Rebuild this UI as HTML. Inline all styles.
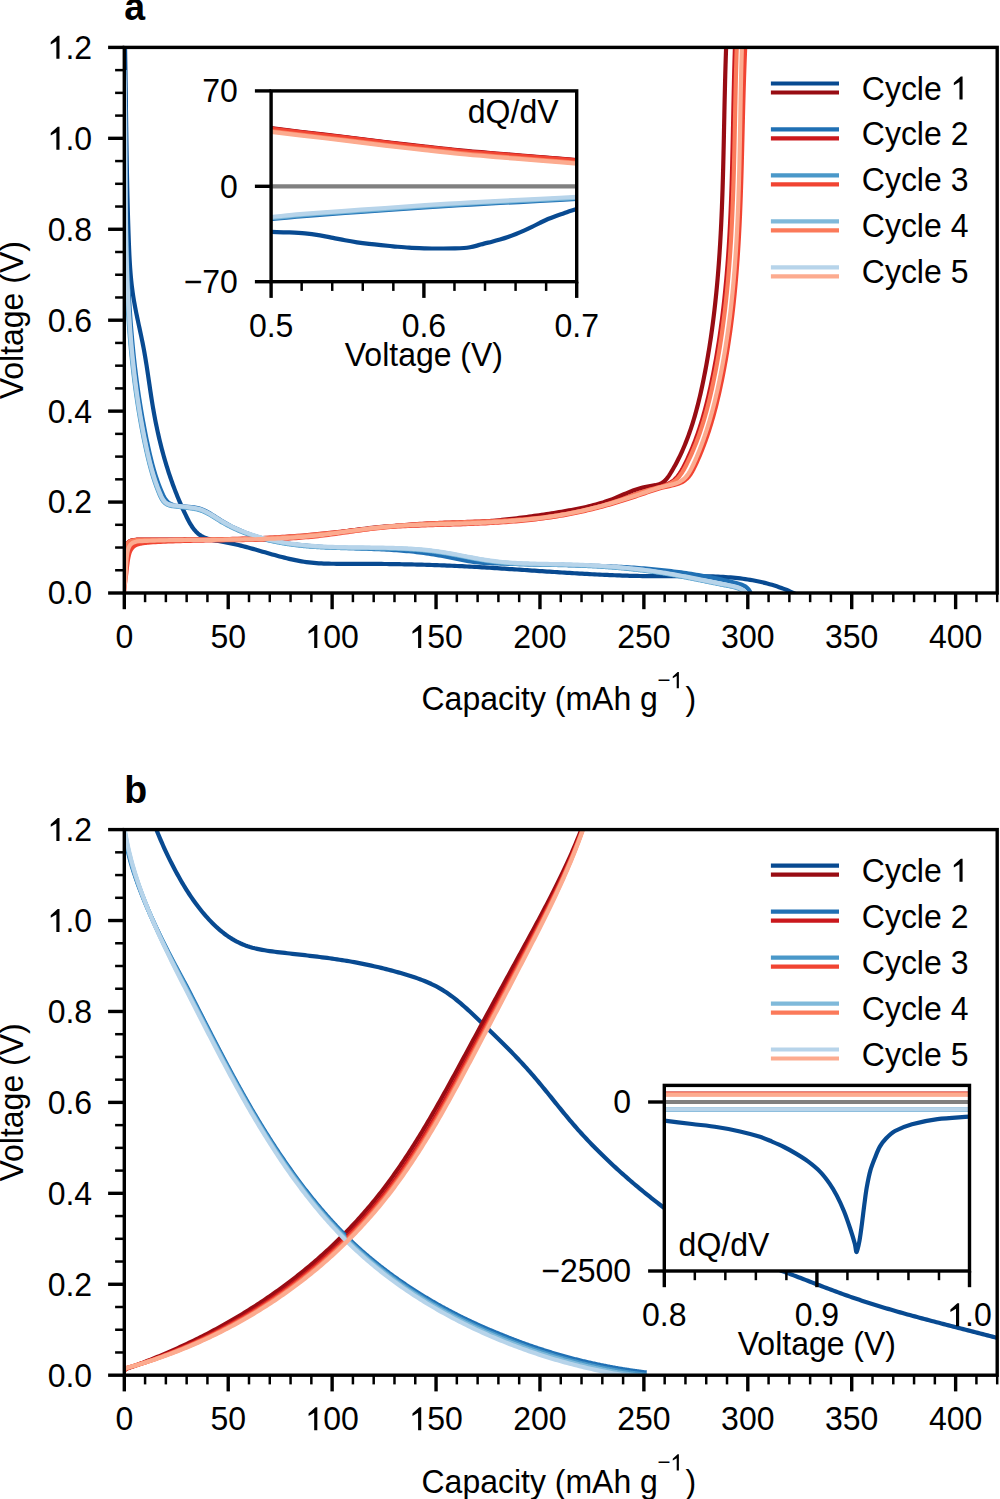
<!DOCTYPE html>
<html><head><meta charset="utf-8"><title>Figure</title>
<style>html,body{margin:0;padding:0;background:#fff;width:1000px;height:1499px;overflow:hidden}
svg text{font-family:"Liberation Sans", sans-serif;fill:#000}</style></head>
<body>
<svg width="1000" height="1499" viewBox="0 0 1000 1499" style="display:block;font-family:'Liberation Sans', sans-serif">
<rect width="1000" height="1499" fill="#fff"/>
<defs>
<clipPath id="ca"><rect x="124.3" y="47.4" width="872.9000000000001" height="545.6"/></clipPath>
<clipPath id="cb"><rect x="124.3" y="829.6" width="872.9000000000001" height="545.6"/></clipPath>
<clipPath id="cia"><rect x="271.1" y="90.9" width="305.6" height="190.79999999999998"/></clipPath>
<clipPath id="cib"><rect x="664.3" y="1085.4" width="305.2" height="185.6"/></clipPath>
</defs>
<g clip-path="url(#ca)">
<path d="M124.9,40 124.94,42.51 124.99,45.02 125.03,47.53 125.07,50.04 125.12,52.55 125.16,55.06 125.2,57.57 125.24,60.08 125.28,62.59 125.31,65.1 125.35,67.61 125.39,70.12 125.43,72.64 125.46,75.15 125.5,77.66 125.53,80.17 125.57,82.68 125.6,85.19 125.64,87.7 125.67,90.21 125.71,92.72 125.74,95.23 125.78,97.74 125.81,100.25 125.84,102.76 125.88,105.27 125.91,107.78 125.94,110.29 125.98,112.8 126.01,115.31 126.05,117.82 126.08,120.33 126.12,122.84 126.15,125.35 126.19,127.86 126.22,130.37 126.26,132.88 126.3,135.39 126.33,137.9 126.37,140.41 126.41,142.92 126.45,145.43 126.49,147.95 126.53,150.46 126.57,152.97 126.61,155.48 126.66,157.99 126.7,160.5 126.74,163.01 126.79,165.52 126.84,168.03 126.88,170.54 126.93,173.05 126.98,175.56 127.03,178.07 127.09,180.58 127.14,183.09 127.19,185.6 127.25,188.11 127.31,190.62 127.36,193.13 127.42,195.64 127.49,198.15 127.55,200.66 127.61,203.17 127.68,205.68 127.75,208.19 127.82,210.7 127.89,213.21 127.96,215.72 128.03,218.23 128.11,220.74 128.19,223.26 128.27,225.77 128.35,228.28 128.43,230.79 128.52,233.3 128.61,235.81 128.7,238.32 128.79,240.83 128.88,243.34 128.98,245.85 129.08,248.36 129.19,250.87 129.3,253.38 129.42,255.88 129.55,258.39 129.69,260.9 129.84,263.4 130,265.91 130.17,268.41 130.36,270.91 130.56,273.41 130.77,275.9 131.01,278.4 131.25,280.89 131.52,283.38 131.8,285.87 132.11,288.35 132.44,290.83 132.78,293.31 133.15,295.79 133.55,298.26 133.96,300.73 134.4,303.2 134.85,305.67 135.32,308.13 135.8,310.59 136.29,313.05 136.8,315.51 137.31,317.97 137.83,320.42 138.35,322.88 138.88,325.33 139.41,327.79 139.94,330.25 140.47,332.7 140.99,335.16 141.51,337.62 142.02,340.08 142.52,342.54 143.01,345.01 143.48,347.47 143.95,349.94 144.4,352.41 144.83,354.88 145.26,357.36 145.67,359.83 146.07,362.31 146.47,364.79 146.85,367.27 147.23,369.75 147.61,372.23 147.98,374.71 148.35,377.2 148.71,379.68 149.07,382.16 149.44,384.65 149.8,387.13 150.17,389.61 150.54,392.1 150.92,394.58 151.3,397.06 151.68,399.54 152.08,402.02 152.48,404.49 152.89,406.97 153.32,409.44 153.75,411.91 154.2,414.38 154.66,416.85 155.13,419.31 155.61,421.78 156.1,424.24 156.61,426.69 157.12,429.15 157.65,431.6 158.2,434.05 158.75,436.5 159.32,438.94 159.91,441.38 160.5,443.82 161.11,446.25 161.74,448.68 162.38,451.11 163.03,453.53 163.7,455.95 164.38,458.37 165.08,460.78 165.79,463.19 166.52,465.59 167.26,467.99 168.02,470.38 168.79,472.77 169.58,475.16 170.39,477.54 171.21,479.92 172.05,482.29 172.91,484.66 173.78,487.02 174.67,489.38 175.58,491.73 176.51,494.07 177.45,496.41 178.41,498.75 179.39,501.08 180.39,503.4 181.4,505.72 182.44,508.03 183.49,510.34 184.56,512.64 185.66,514.93 186.77,517.22 187.91,519.49 189.08,521.72 190.31,523.91 191.61,526.02 192.98,528.04 194.45,529.95 196.03,531.72 197.72,533.35 199.55,534.82 201.52,536.09 203.64,537.18 205.89,538.1 208.25,538.88 210.69,539.54 213.2,540.1 215.76,540.59 218.34,541.04 220.93,541.47 223.5,541.9 226.05,542.35 228.55,542.83 231.04,543.34 233.49,543.88 235.94,544.43 238.37,545.01 240.79,545.62 243.22,546.24 245.64,546.88 248.06,547.53 250.48,548.2 252.9,548.87 255.31,549.56 257.73,550.25 260.15,550.95 262.57,551.65 264.98,552.34 267.4,553.04 269.82,553.73 272.24,554.42 274.66,555.09 277.09,555.76 279.52,556.41 281.94,557.04 284.38,557.66 286.81,558.26 289.25,558.84 291.69,559.39 294.14,559.92 296.59,560.41 299.04,560.88 301.5,561.32 303.96,561.71 306.43,562.08 308.9,562.4 311.38,562.68 313.87,562.92 316.36,563.13 318.86,563.3 321.36,563.43 323.86,563.54 326.37,563.63 328.88,563.69 331.39,563.74 333.9,563.77 336.42,563.79 338.94,563.79 341.45,563.8 343.97,563.8 346.49,563.79 349.01,563.8 351.53,563.8 354.05,563.8 356.56,563.81 359.08,563.81 361.6,563.82 364.11,563.83 366.63,563.85 369.15,563.86 371.66,563.88 374.18,563.89 376.69,563.91 379.21,563.94 381.72,563.96 384.24,563.99 386.75,564.02 389.27,564.05 391.78,564.08 394.29,564.12 396.81,564.16 399.32,564.2 401.83,564.24 404.34,564.29 406.86,564.34 409.37,564.39 411.88,564.45 414.39,564.51 416.9,564.57 419.41,564.63 421.92,564.7 424.43,564.77 426.94,564.84 429.44,564.92 431.95,565 434.46,565.08 436.97,565.16 439.47,565.25 441.98,565.35 444.49,565.44 446.99,565.54 449.5,565.65 452,565.76 454.51,565.87 457.01,565.98 459.52,566.1 462.02,566.22 464.52,566.35 467.03,566.48 469.53,566.61 472.03,566.74 474.53,566.88 477.03,567.02 479.54,567.16 482.04,567.31 484.54,567.45 487.04,567.6 489.54,567.75 492.04,567.91 494.54,568.06 497.04,568.22 499.54,568.38 502.04,568.54 504.54,568.7 507.04,568.86 509.54,569.03 512.04,569.19 514.54,569.36 517.04,569.52 519.54,569.69 522.04,569.85 524.54,570.02 527.04,570.19 529.54,570.36 532.04,570.53 534.54,570.69 537.04,570.86 539.54,571.03 542.04,571.19 544.54,571.36 547.04,571.53 549.54,571.69 552.04,571.85 554.54,572.02 557.04,572.18 559.55,572.34 562.05,572.5 564.55,572.65 567.05,572.81 569.56,572.96 572.06,573.11 574.56,573.26 577.07,573.41 579.57,573.55 582.08,573.69 584.58,573.83 587.09,573.97 589.6,574.11 592.1,574.24 594.61,574.37 597.12,574.49 599.63,574.61 602.14,574.73 604.65,574.85 607.16,574.96 609.67,575.06 612.18,575.17 614.69,575.27 617.2,575.36 619.71,575.46 622.23,575.54 624.74,575.62 627.26,575.7 629.77,575.78 632.29,575.84 634.81,575.91 637.33,575.97 639.84,576.02 642.36,576.07 644.88,576.11 647.41,576.14 649.93,576.18 652.45,576.2 654.97,576.22 657.5,576.23 660.02,576.24 662.55,576.24 665.08,576.23 667.61,576.23 670.13,576.21 672.66,576.2 675.19,576.18 677.72,576.17 680.25,576.15 682.77,576.14 685.3,576.12 687.83,576.11 690.35,576.11 692.88,576.11 695.4,576.12 697.92,576.13 700.44,576.16 702.96,576.19 705.47,576.23 707.99,576.29 710.5,576.35 713,576.43 715.51,576.53 718.01,576.64 720.51,576.76 723.01,576.9 725.5,577.06 727.99,577.24 730.48,577.44 732.96,577.66 735.44,577.91 737.91,578.17 740.38,578.46 742.84,578.78 745.3,579.12 747.75,579.48 750.2,579.88 752.65,580.3 755.09,580.76 757.52,581.24 759.95,581.76 762.37,582.31 764.78,582.89 767.19,583.51 769.59,584.16 771.98,584.85 774.37,585.58 776.75,586.35 779.13,587.15 781.49,588 783.85,588.89 786.2,589.82 788.55,590.79 790.88,591.81 793.21,592.87 795.53,593.98" fill="none" stroke="#084a91" stroke-width="4.2" stroke-linejoin="round"/>
<path d="M123.8,600 123.8,596.8 123.79,593.6 123.78,590.4 123.76,587.2 123.75,584 123.75,580.8 123.75,577.6 123.75,574.4 123.77,571.2 123.8,568 123.82,566.82 123.84,565.64 123.88,564.46 123.92,563.28 123.96,562.1 124.02,560.92 124.08,559.74 124.15,558.56 124.22,557.38 124.3,556.2 124.35,555.55 124.4,554.89 124.47,554.24 124.54,553.59 124.61,552.94 124.69,552.29 124.78,551.64 124.88,550.99 124.99,550.34 125.1,549.7 125.18,549.3 125.26,548.9 125.35,548.51 125.44,548.11 125.55,547.72 125.66,547.32 125.78,546.94 125.91,546.55 126.05,546.17 126.2,545.8 126.34,545.48 126.48,545.16 126.64,544.84 126.8,544.52 126.97,544.21 127.15,543.9 127.35,543.61 127.55,543.32 127.77,543.05 128,542.8 128.25,542.55 128.52,542.3 128.8,542.07 129.09,541.84 129.39,541.62 129.7,541.42 130.01,541.24 130.34,541.07 130.67,540.92 131,540.8 131.57,540.63 132.16,540.49 132.75,540.37 133.35,540.27 133.96,540.19 134.57,540.12 135.18,540.04 135.79,539.97 136.4,539.89 137,539.82 139.5,539.8 142,539.78 144.5,539.76 147,539.75 149.5,539.74 152,539.74 154.5,539.73 157.01,539.73 159.51,539.74 162.02,539.74 164.52,539.75 167.03,539.75 169.53,539.76 172.04,539.77 174.55,539.79 177.05,539.8 179.56,539.81 182.07,539.82 184.58,539.84 187.09,539.85 189.59,539.87 192.1,539.88 194.61,539.89 197.12,539.9 199.63,539.91 202.14,539.92 204.65,539.93 207.16,539.93 209.67,539.94 212.18,539.94 214.69,539.94 217.2,539.93 219.72,539.93 222.23,539.92 224.74,539.91 227.25,539.89 229.75,539.87 232.26,539.85 234.77,539.82 237.28,539.79 239.79,539.75 242.3,539.71 244.81,539.66 247.32,539.61 249.82,539.55 252.33,539.49 254.84,539.42 257.34,539.35 259.85,539.27 262.35,539.18 264.86,539.09 267.36,538.99 269.86,538.88 272.37,538.76 274.87,538.64 277.37,538.51 279.87,538.37 282.37,538.22 284.87,538.07 287.37,537.91 289.86,537.73 292.36,537.55 294.86,537.36 297.35,537.16 299.84,536.95 302.34,536.73 304.83,536.5 307.32,536.26 309.81,536.01 312.3,535.75 314.78,535.47 317.27,535.19 319.75,534.89 322.24,534.59 324.72,534.27 327.2,533.94 329.68,533.61 332.16,533.27 334.64,532.92 337.12,532.57 339.6,532.21 342.08,531.86 344.56,531.5 347.04,531.14 349.52,530.79 352,530.43 354.48,530.09 356.96,529.75 359.44,529.41 361.92,529.08 364.41,528.76 366.89,528.46 369.38,528.16 371.87,527.88 374.36,527.61 376.85,527.35 379.35,527.11 381.84,526.89 384.34,526.69 386.84,526.51 389.34,526.33 391.84,526.18 394.35,526.03 396.86,525.9 399.36,525.78 401.87,525.67 404.38,525.57 406.89,525.47 409.4,525.38 411.91,525.3 414.42,525.22 416.94,525.15 419.45,525.08 421.96,525.01 424.47,524.94 426.98,524.87 429.49,524.79 432,524.72 434.51,524.64 437.02,524.56 439.53,524.47 442.03,524.37 444.54,524.27 447.04,524.16 449.54,524.04 452.05,523.91 454.55,523.78 457.04,523.64 459.54,523.5 462.04,523.34 464.54,523.18 467.03,523.02 469.53,522.84 472.02,522.66 474.51,522.47 477.01,522.28 479.5,522.08 481.99,521.87 484.48,521.65 486.97,521.43 489.46,521.2 491.95,520.96 494.43,520.72 496.92,520.47 499.41,520.22 501.89,519.96 504.38,519.69 506.87,519.41 509.35,519.13 511.84,518.84 514.32,518.54 516.81,518.24 519.29,517.93 521.78,517.62 524.26,517.3 526.75,516.97 529.23,516.64 531.71,516.3 534.2,515.95 536.68,515.6 539.17,515.24 541.65,514.87 544.14,514.5 546.62,514.12 549.11,513.74 551.6,513.35 554.08,512.95 556.57,512.55 559.06,512.14 561.54,511.72 564.03,511.3 566.52,510.87 569,510.43 571.48,509.98 573.96,509.51 576.44,509.03 578.91,508.54 581.37,508.03 583.83,507.5 586.28,506.94 588.73,506.37 591.16,505.77 593.59,505.15 596,504.5 598.4,503.82 600.8,503.12 603.17,502.38 605.54,501.61 607.89,500.81 610.23,499.97 612.54,499.09 614.85,498.18 617.14,497.23 619.41,496.26 621.68,495.28 623.95,494.29 626.23,493.32 628.51,492.37 630.8,491.44 633.1,490.57 635.43,489.74 637.79,488.97 640.18,488.25 642.61,487.6 645.09,487.01 647.62,486.48 650.22,486.02 652.87,485.62 655.51,485.19 658.05,484.62 660.42,483.81 662.53,482.68 664.41,481.23 666.08,479.53 667.6,477.64 669.01,475.61 670.34,473.5 671.64,471.38 672.9,469.23 674.14,467.07 675.34,464.9 676.52,462.71 677.66,460.5 678.78,458.28 679.87,456.05 680.93,453.8 681.97,451.54 682.98,449.27 683.96,446.98 684.92,444.69 685.85,442.38 686.77,440.06 687.65,437.73 688.52,435.39 689.36,433.04 690.18,430.68 690.99,428.31 691.77,425.93 692.53,423.55 693.27,421.16 693.99,418.75 694.7,416.35 695.39,413.93 696.06,411.51 696.71,409.08 697.35,406.65 697.98,404.21 698.59,401.77 699.18,399.32 699.77,396.87 700.34,394.42 700.9,391.96 701.44,389.5 701.98,387.04 702.5,384.57 703.02,382.11 703.52,379.64 704.02,377.17 704.51,374.7 704.99,372.23 705.46,369.76 705.92,367.29 706.38,364.82 706.82,362.35 707.26,359.88 707.69,357.4 708.11,354.93 708.52,352.45 708.93,349.97 709.33,347.5 709.72,345.02 710.1,342.54 710.48,340.06 710.85,337.58 711.21,335.1 711.56,332.62 711.91,330.14 712.25,327.66 712.58,325.17 712.9,322.69 713.22,320.21 713.53,317.72 713.84,315.24 714.14,312.75 714.43,310.26 714.71,307.78 714.99,305.29 715.27,302.8 715.53,300.31 715.8,297.82 716.05,295.33 716.3,292.84 716.54,290.35 716.78,287.86 717.01,285.37 717.24,282.87 717.46,280.38 717.68,277.89 717.89,275.39 718.09,272.9 718.29,270.4 718.49,267.91 718.68,265.41 718.87,262.92 719.05,260.42 719.22,257.92 719.39,255.43 719.56,252.93 719.72,250.43 719.88,247.93 720.04,245.43 720.19,242.93 720.33,240.43 720.47,237.93 720.61,235.43 720.75,232.93 720.88,230.43 721,227.93 721.13,225.43 721.25,222.93 721.36,220.42 721.48,217.92 721.59,215.42 721.69,212.91 721.8,210.41 721.9,207.91 721.99,205.4 722.09,202.9 722.18,200.4 722.27,197.89 722.36,195.39 722.44,192.88 722.53,190.38 722.61,187.87 722.68,185.36 722.76,182.86 722.83,180.35 722.91,177.85 722.98,175.34 723.04,172.83 723.11,170.33 723.18,167.82 723.24,165.31 723.3,162.81 723.36,160.3 723.42,157.79 723.48,155.29 723.54,152.78 723.59,150.27 723.65,147.76 723.71,145.26 723.76,142.75 723.81,140.24 723.87,137.73 723.92,135.23 723.97,132.72 724.02,130.21 724.07,127.7 724.12,125.19 724.18,122.69 724.23,120.18 724.28,117.67 724.33,115.16 724.38,112.66 724.43,110.15 724.49,107.64 724.54,105.14 724.59,102.63 724.65,100.12 724.7,97.61 724.76,95.11 724.82,92.6 724.88,90.09 724.94,87.59 725,85.08 725.06,82.57 725.12,80.07 725.19,77.56 725.25,75.06 725.32,72.55 725.39,70.05 725.47,67.54 725.54,65.04 725.62,62.53 725.69,60.03 725.77,57.52 725.86,55.02 725.94,52.51 726.03,50.01 726.12,47.51 726.21,45 726.31,42.5 726.4,40" fill="none" stroke="#980c13" stroke-width="4.2" stroke-linejoin="round"/>
<path d="M124.6,70 124.65,72.51 124.7,75.01 124.75,77.52 124.8,80.02 124.85,82.53 124.89,85.04 124.93,87.55 124.97,90.05 125.01,92.56 125.05,95.07 125.08,97.58 125.11,100.09 125.15,102.59 125.18,105.1 125.2,107.61 125.23,110.12 125.26,112.63 125.28,115.14 125.31,117.65 125.33,120.16 125.35,122.67 125.37,125.18 125.39,127.69 125.41,130.2 125.43,132.71 125.45,135.22 125.47,137.73 125.49,140.24 125.51,142.75 125.52,145.26 125.54,147.77 125.56,150.28 125.57,152.79 125.59,155.3 125.61,157.81 125.62,160.32 125.64,162.83 125.66,165.34 125.68,167.85 125.7,170.36 125.72,172.87 125.74,175.38 125.76,177.9 125.78,180.41 125.8,182.92 125.83,185.43 125.85,187.94 125.88,190.45 125.9,192.96 125.93,195.47 125.96,197.98 125.99,200.49 126.02,203 126.06,205.51 126.09,208.02 126.13,210.53 126.17,213.04 126.21,215.55 126.25,218.06 126.29,220.57 126.34,223.07 126.39,225.58 126.44,228.09 126.49,230.6 126.55,233.11 126.61,235.62 126.67,238.12 126.73,240.63 126.8,243.14 126.86,245.65 126.94,248.16 127.01,250.66 127.09,253.17 127.17,255.68 127.25,258.18 127.34,260.69 127.43,263.19 127.52,265.7 127.62,268.2 127.72,270.71 127.82,273.21 127.93,275.72 128.04,278.22 128.15,280.73 128.27,283.23 128.39,285.73 128.52,288.24 128.65,290.74 128.78,293.24 128.92,295.74 129.06,298.25 129.21,300.75 129.36,303.25 129.52,305.75 129.68,308.25 129.85,310.75 130.02,313.25 130.19,315.75 130.37,318.25 130.56,320.75 130.75,323.24 130.94,325.74 131.14,328.24 131.35,330.73 131.56,333.23 131.78,335.73 132,338.22 132.23,340.72 132.46,343.21 132.7,345.71 132.94,348.2 133.19,350.69 133.45,353.18 133.71,355.68 133.98,358.17 134.26,360.66 134.54,363.15 134.82,365.64 135.12,368.13 135.42,370.62 135.72,373.11 136.04,375.59 136.36,378.08 136.68,380.57 137.02,383.06 137.36,385.54 137.7,388.03 138.06,390.51 138.42,392.99 138.79,395.48 139.17,397.96 139.55,400.44 139.94,402.92 140.34,405.41 140.74,407.89 141.16,410.37 141.58,412.84 142.01,415.32 142.44,417.8 142.89,420.28 143.34,422.75 143.8,425.23 144.27,427.7 144.75,430.18 145.24,432.65 145.73,435.13 146.23,437.6 146.74,440.07 147.26,442.54 147.79,445.01 148.33,447.48 148.88,449.95 149.44,452.41 150.01,454.87 150.6,457.33 151.2,459.78 151.82,462.22 152.46,464.66 153.12,467.08 153.8,469.5 154.51,471.9 155.24,474.3 155.99,476.68 156.78,479.04 157.59,481.4 158.43,483.73 159.3,486.05 160.21,488.35 161.15,490.63 162.13,492.89 163.15,495.13 164.24,497.3 165.47,499.33 166.89,501.16 168.56,502.7 170.52,503.91 172.75,504.81 175.18,505.46 177.78,505.91 180.48,506.22 183.23,506.42 186,506.59 188.71,506.76 191.34,507 193.87,507.32 196.31,507.75 198.69,508.31 201.01,509.03 203.29,509.92 205.53,510.95 207.74,512.11 209.93,513.36 212.1,514.69 214.26,516.07 216.41,517.47 218.57,518.88 220.73,520.27 222.91,521.62 225.11,522.92 227.32,524.17 229.54,525.38 231.78,526.54 234.03,527.66 236.29,528.74 238.57,529.78 240.86,530.78 243.16,531.74 245.47,532.66 247.8,533.54 250.13,534.39 252.48,535.2 254.84,535.97 257.21,536.71 259.59,537.42 261.97,538.09 264.37,538.74 266.78,539.35 269.19,539.93 271.62,540.49 274.05,541.01 276.49,541.51 278.93,541.98 281.39,542.43 283.84,542.85 286.31,543.25 288.78,543.63 291.26,543.98 293.74,544.31 296.23,544.63 298.72,544.92 301.22,545.19 303.72,545.45 306.22,545.69 308.73,545.92 311.24,546.13 313.75,546.32 316.27,546.51 318.79,546.68 321.31,546.84 323.83,546.99 326.35,547.13 328.87,547.26 331.39,547.38 333.91,547.5 336.43,547.61 338.95,547.71 341.47,547.81 343.99,547.91 346.51,548 349.02,548.09 351.54,548.18 354.05,548.27 356.56,548.36 359.07,548.45 361.58,548.54 364.09,548.63 366.6,548.72 369.1,548.82 371.61,548.92 374.11,549.03 376.61,549.13 379.11,549.25 381.61,549.37 384.11,549.5 386.61,549.63 389.11,549.77 391.6,549.92 394.09,550.09 396.59,550.26 399.08,550.44 401.57,550.63 404.06,550.83 406.55,551.05 409.03,551.28 411.52,551.53 414.01,551.78 416.49,552.06 418.97,552.35 421.45,552.65 423.93,552.98 426.41,553.32 428.89,553.68 431.37,554.05 433.84,554.45 436.32,554.87 438.79,555.31 441.27,555.77 443.74,556.25 446.21,556.74 448.68,557.25 451.15,557.76 453.62,558.27 456.09,558.78 458.56,559.28 461.04,559.77 463.51,560.24 465.99,560.68 468.47,561.11 470.95,561.5 473.43,561.86 475.91,562.17 478.4,562.45 480.89,562.67 483.39,562.85 485.88,562.99 488.38,563.11 490.88,563.21 493.38,563.31 495.88,563.4 498.38,563.49 500.89,563.58 503.39,563.66 505.89,563.74 508.4,563.81 510.9,563.88 513.41,563.95 515.91,564.01 518.42,564.08 520.92,564.14 523.43,564.19 525.94,564.25 528.44,564.3 530.95,564.35 533.46,564.4 535.97,564.45 538.48,564.5 540.99,564.55 543.49,564.59 546,564.64 548.51,564.69 551.02,564.73 553.53,564.78 556.04,564.83 558.55,564.87 561.06,564.92 563.57,564.97 566.08,565.02 568.59,565.08 571.1,565.13 573.61,565.19 576.12,565.25 578.63,565.31 581.14,565.37 583.65,565.44 586.16,565.51 588.67,565.58 591.18,565.65 593.69,565.73 596.2,565.82 598.71,565.9 601.21,566 603.72,566.09 606.23,566.19 608.74,566.3 611.24,566.41 613.75,566.53 616.26,566.65 618.76,566.78 621.27,566.91 623.77,567.05 626.27,567.2 628.78,567.35 631.28,567.51 633.78,567.67 636.29,567.85 638.79,568.03 641.29,568.22 643.79,568.42 646.29,568.62 648.79,568.83 651.28,569.06 653.78,569.29 656.28,569.53 658.77,569.77 661.27,570.03 663.76,570.3 666.25,570.58 668.75,570.86 671.24,571.16 673.73,571.47 676.22,571.78 678.7,572.11 681.19,572.45 683.68,572.8 686.16,573.16 688.64,573.53 691.12,573.91 693.6,574.3 696.08,574.71 698.56,575.12 701.03,575.55 703.5,575.99 705.97,576.44 708.44,576.91 710.91,577.38 713.38,577.87 715.84,578.37 718.3,578.89 720.76,579.41 723.22,579.95 725.67,580.51 728.12,581.07 730.57,581.65 733.02,582.24 735.46,582.85 737.9,583.48 740.3,584.18 742.6,585.02 744.77,586.08 746.74,587.44 748.47,589.16 749.91,591.32 751,594" fill="none" stroke="#2070b4" stroke-width="4.2" stroke-linejoin="round"/>
<path d="M123.8,599.8 123.8,596.6 123.79,593.4 123.78,590.2 123.76,587 123.75,583.8 123.75,580.6 123.75,577.4 123.75,574.2 123.77,571 123.8,567.8 123.82,566.63 123.84,565.46 123.88,564.29 123.92,563.12 123.96,561.95 124.02,560.78 124.08,559.61 124.15,558.44 124.22,557.27 124.3,556.1 124.35,555.45 124.41,554.79 124.47,554.14 124.54,553.49 124.61,552.84 124.69,552.19 124.78,551.54 124.88,550.89 124.99,550.24 125.1,549.6 125.18,549.2 125.26,548.8 125.35,548.41 125.44,548.01 125.55,547.62 125.66,547.22 125.78,546.84 125.91,546.45 126.05,546.07 126.2,545.7 126.34,545.38 126.48,545.06 126.64,544.74 126.8,544.42 126.97,544.11 127.15,543.8 127.35,543.51 127.55,543.22 127.77,542.95 128,542.7 128.25,542.45 128.52,542.2 128.8,541.97 129.09,541.74 129.39,541.52 129.7,541.32 130.01,541.14 130.34,540.97 130.67,540.82 131,540.7 131.57,540.53 132.16,540.39 132.75,540.27 133.35,540.17 133.96,540.09 134.57,540.02 135.18,539.94 135.79,539.87 136.4,539.79 137,539.69 139.51,539.68 142.02,539.66 144.53,539.64 147.04,539.63 149.55,539.61 152.06,539.6 154.57,539.59 157.08,539.58 159.59,539.57 162.1,539.56 164.61,539.55 167.12,539.54 169.63,539.53 172.14,539.52 174.65,539.51 177.16,539.5 179.67,539.49 182.18,539.48 184.69,539.47 187.2,539.46 189.71,539.45 192.22,539.43 194.73,539.42 197.24,539.4 199.75,539.38 202.26,539.36 204.77,539.34 207.28,539.31 209.79,539.29 212.3,539.26 214.81,539.23 217.32,539.19 219.83,539.16 222.34,539.12 224.85,539.07 227.36,539.03 229.87,538.98 232.38,538.93 234.89,538.87 237.39,538.81 239.9,538.75 242.41,538.68 244.92,538.61 247.42,538.53 249.93,538.45 252.44,538.37 254.94,538.28 257.45,538.19 259.95,538.09 262.46,537.98 264.96,537.87 267.47,537.76 269.97,537.64 272.48,537.51 274.98,537.38 277.48,537.25 279.98,537.1 282.49,536.95 284.99,536.8 287.49,536.63 289.99,536.46 292.49,536.29 294.99,536.11 297.49,535.92 299.98,535.72 302.48,535.51 304.98,535.3 307.48,535.09 309.97,534.86 312.47,534.63 314.96,534.4 317.46,534.16 319.95,533.91 322.45,533.66 324.94,533.4 327.43,533.15 329.93,532.88 332.42,532.62 334.91,532.35 337.41,532.08 339.9,531.81 342.39,531.53 344.88,531.25 347.38,530.98 349.87,530.7 352.36,530.42 354.85,530.14 357.35,529.86 359.84,529.58 362.33,529.3 364.82,529.03 367.32,528.75 369.81,528.48 372.3,528.21 374.8,527.94 377.29,527.67 379.78,527.41 382.28,527.15 384.77,526.9 387.27,526.64 389.76,526.4 392.26,526.16 394.75,525.92 397.25,525.69 399.74,525.46 402.24,525.25 404.74,525.03 407.24,524.83 409.74,524.63 412.24,524.44 414.74,524.26 417.24,524.08 419.74,523.92 422.24,523.76 424.74,523.61 427.25,523.47 429.75,523.34 432.25,523.21 434.76,523.09 437.27,522.98 439.77,522.87 442.28,522.77 444.79,522.67 447.29,522.58 449.8,522.49 452.31,522.4 454.82,522.32 457.32,522.24 459.83,522.16 462.34,522.08 464.85,522 467.36,521.92 469.87,521.85 472.38,521.77 474.89,521.69 477.4,521.6 479.91,521.52 482.42,521.43 484.93,521.34 487.43,521.25 489.94,521.15 492.45,521.05 494.96,520.94 497.47,520.83 499.97,520.71 502.48,520.59 504.99,520.45 507.5,520.31 510,520.16 512.51,520.01 515.01,519.84 517.52,519.67 520.02,519.48 522.52,519.28 525.03,519.08 527.53,518.86 530.03,518.63 532.53,518.39 535.03,518.13 537.53,517.86 540.03,517.58 542.52,517.28 545.02,516.97 547.51,516.64 550.01,516.3 552.5,515.95 554.99,515.58 557.48,515.19 559.96,514.79 562.44,514.37 564.92,513.94 567.4,513.5 569.88,513.03 572.35,512.56 574.81,512.06 577.28,511.56 579.73,511.03 582.19,510.49 584.64,509.94 587.09,509.36 589.53,508.78 591.96,508.17 594.39,507.55 596.82,506.91 599.24,506.26 601.65,505.59 604.06,504.9 606.46,504.2 608.85,503.48 611.24,502.74 613.62,501.98 616,501.21 618.36,500.42 620.72,499.61 623.08,498.79 625.42,497.95 627.76,497.09 630.09,496.23 632.43,495.37 634.77,494.51 637.12,493.65 639.48,492.82 641.86,492.01 644.26,491.22 646.67,490.47 649.12,489.75 651.58,489.07 654.06,488.41 656.54,487.75 659.01,487.08 661.45,486.36 663.84,485.58 666.16,484.7 668.39,483.71 670.51,482.58 672.5,481.28 674.34,479.79 676.04,478.12 677.61,476.29 679.06,474.33 680.43,472.26 681.71,470.11 682.93,467.89 684.1,465.64 685.24,463.36 686.36,461.08 687.45,458.79 688.51,456.49 689.55,454.19 690.56,451.87 691.55,449.55 692.51,447.22 693.45,444.88 694.37,442.53 695.27,440.18 696.14,437.82 696.99,435.46 697.83,433.08 698.64,430.71 699.43,428.32 700.21,425.93 700.96,423.54 701.7,421.13 702.42,418.73 703.12,416.32 703.81,413.9 704.48,411.48 705.14,409.06 705.78,406.63 706.4,404.2 707.02,401.76 707.62,399.33 708.2,396.88 708.78,394.44 709.34,391.99 709.89,389.54 710.43,387.09 710.96,384.64 711.48,382.18 711.99,379.73 712.49,377.27 712.99,374.81 713.47,372.35 713.95,369.89 714.41,367.42 714.87,364.96 715.33,362.49 715.77,360.03 716.21,357.56 716.63,355.09 717.05,352.62 717.46,350.15 717.87,347.68 718.27,345.21 718.65,342.73 719.04,340.26 719.41,337.78 719.78,335.3 720.14,332.82 720.49,330.34 720.83,327.86 721.17,325.38 721.51,322.9 721.83,320.42 722.15,317.93 722.46,315.45 722.77,312.96 723.06,310.47 723.36,307.98 723.64,305.5 723.92,303.01 724.2,300.52 724.46,298.02 724.72,295.53 724.98,293.04 725.23,290.55 725.47,288.05 725.71,285.56 725.95,283.06 726.17,280.56 726.4,278.07 726.61,275.57 726.83,273.07 727.03,270.57 727.23,268.07 727.43,265.57 727.62,263.07 727.81,260.57 727.99,258.07 728.17,255.56 728.34,253.06 728.51,250.56 728.67,248.05 728.83,245.55 728.99,243.04 729.14,240.53 729.29,238.03 729.43,235.52 729.57,233.01 729.71,230.51 729.84,228 729.97,225.49 730.09,222.98 730.21,220.47 730.33,217.96 730.45,215.45 730.56,212.94 730.67,210.43 730.77,207.92 730.87,205.41 730.97,202.9 731.07,200.39 731.16,197.87 731.26,195.36 731.34,192.85 731.43,190.34 731.51,187.82 731.6,185.31 731.68,182.8 731.75,180.29 731.83,177.77 731.9,175.26 731.97,172.75 732.04,170.23 732.11,167.72 732.18,165.21 732.24,162.69 732.3,160.18 732.36,157.67 732.42,155.15 732.48,152.64 732.54,150.12 732.6,147.61 732.65,145.1 732.71,142.58 732.76,140.07 732.82,137.56 732.87,135.05 732.92,132.53 732.97,130.02 733.02,127.51 733.08,125 733.13,122.48 733.18,119.97 733.23,117.46 733.28,114.95 733.33,112.44 733.38,109.93 733.43,107.42 733.48,104.91 733.53,102.4 733.59,99.89 733.64,97.38 733.69,94.87 733.75,92.36 733.8,89.86 733.86,87.35 733.92,84.84 733.97,82.33 734.03,79.83 734.09,77.32 734.16,74.82 734.22,72.31 734.28,69.81 734.35,67.3 734.42,64.8 734.49,62.3 734.56,59.8 734.63,57.3 734.71,54.79 734.79,52.29 734.87,49.8 734.95,47.3 735.03,44.8 735.12,42.3 735.21,39.8" fill="none" stroke="#ca181d" stroke-width="4.2" stroke-linejoin="round"/>
<path d="M123.39,70.03 123.42,70.96 123.44,71.9 123.47,72.84 123.49,73.78 123.51,74.72 123.54,75.66 123.56,76.6 123.58,77.53 123.6,78.47 123.63,79.41 123.65,80.35 123.67,81.29 123.69,82.23 123.71,83.17 123.73,84.11 123.75,85.05 123.77,85.99 123.79,86.92 123.81,87.86 123.82,88.8 123.84,89.74 123.86,90.68 123.88,91.62 123.89,92.56 123.91,93.5 123.93,94.44 123.94,95.38 123.96,96.32 123.97,97.26 123.99,98.2 124,99.14 124.02,100.08 124.03,101.02 124.05,101.96 124.06,102.9 124.07,103.84 124.09,104.78 124.1,105.72 124.11,106.67 124.12,107.61 124.14,108.55 124.15,109.49 124.16,110.43 124.17,111.37 124.18,112.31 124.19,113.25 124.2,114.19 124.21,115.13 124.22,116.07 124.23,117.02 124.24,117.96 124.25,118.9 124.26,119.84 124.27,120.78 124.28,121.72 124.29,122.66 124.3,123.6 124.31,124.55 124.31,125.49 124.32,126.43 124.33,127.37 124.34,128.31 124.35,129.25 124.35,130.2 124.36,131.14 124.37,132.08 124.37,133.02 124.38,133.96 124.39,134.91 124.39,135.85 124.4,136.79 124.41,137.73 124.41,138.67 124.42,139.62 124.43,140.56 124.43,141.5 124.44,142.44 124.44,143.39 124.45,144.33 124.45,145.27 124.46,146.21 124.46,147.15 124.47,148.1 124.48,149.04 124.48,149.98 124.49,150.92 124.49,151.87 124.5,152.81 124.5,153.75 124.51,154.7 124.51,155.64 124.52,156.58 124.52,157.52 124.52,158.47 124.53,159.41 124.53,160.35 124.54,161.29 124.54,162.24 124.55,163.18 124.55,164.12 124.56,165.07 124.56,166.01 124.57,166.95 124.57,167.9 124.58,168.84 124.58,169.78 124.59,170.72 124.59,171.67 124.6,172.61 124.6,173.55 124.61,174.5 124.61,175.44 124.62,176.38 124.62,177.33 124.63,178.27 124.63,179.21 124.64,180.16 124.64,181.1 124.65,182.04 124.65,182.99 124.66,183.93 124.66,184.87 124.67,185.81 124.68,186.76 124.68,187.7 124.69,188.64 124.69,189.59 124.7,190.53 124.71,191.47 124.71,192.42 124.72,193.36 124.73,194.3 124.73,195.25 124.74,196.19 124.75,197.13 124.76,198.08 124.76,199.02 124.77,199.96 124.78,200.91 124.79,201.85 124.8,202.79 124.81,203.74 124.81,204.68 124.82,205.62 124.83,206.57 124.84,207.51 124.85,208.45 124.86,209.4 124.87,210.34 124.88,211.29 124.89,212.23 124.9,213.17 124.91,214.12 124.92,215.06 124.93,216 124.94,216.94 124.96,217.89 124.97,218.83 124.98,219.77 124.99,220.72 125.01,221.66 125.02,222.6 125.03,223.55 125.04,224.49 125.06,225.43 125.07,226.38 125.09,227.32 125.1,228.26 125.12,229.21 125.13,230.15 125.15,231.09 125.16,232.04 125.18,232.98 125.19,233.92 125.21,234.87 125.23,235.81 125.25,236.75 125.26,237.69 125.28,238.64 125.3,239.58 125.32,240.52 125.34,241.47 125.36,242.41 125.38,243.35 125.4,244.3 125.42,245.24 125.44,246.18 125.46,247.12 125.48,248.07 125.5,249.01 125.52,249.95 125.55,250.9 125.57,251.84 125.59,252.78 125.62,253.72 125.64,254.67 125.67,255.61 125.69,256.55 125.72,257.49 125.74,258.44 125.77,259.38 125.8,260.32 125.82,261.26 125.85,262.21 125.88,263.15 125.91,264.09 125.94,265.03 125.97,265.97 126,266.92 126.03,267.86 126.06,268.8 126.09,269.74 126.12,270.69 126.15,271.63 126.19,272.57 126.22,273.51 126.25,274.45 126.29,275.4 126.32,276.34 126.36,277.28 126.39,278.22 126.43,279.16 126.47,280.1 126.51,281.05 126.54,281.99 126.58,282.93 126.62,283.87 126.66,284.81 126.7,285.75 126.74,286.69 126.78,287.64 126.82,288.58 126.87,289.52 126.91,290.46 126.95,291.4 127,292.34 127.04,293.28 127.09,294.22 127.13,295.16 127.18,296.11 127.23,297.05 127.27,297.99 127.32,298.93 127.37,299.87 127.42,300.81 127.47,301.75 127.52,302.69 127.57,303.63 127.62,304.57 127.68,305.51 127.73,306.45 127.78,307.39 127.84,308.33 127.89,309.27 127.95,310.21 128,311.15 128.06,312.09 128.12,313.03 128.18,313.97 128.24,314.91 128.3,315.85 128.36,316.79 128.42,317.73 128.48,318.67 128.54,319.61 128.61,320.55 128.67,321.49 128.73,322.43 128.8,323.37 128.87,324.31 128.93,325.25 129,326.18 129.07,327.12 129.14,328.06 129.21,329 129.28,329.94 129.35,330.88 129.42,331.82 129.49,332.76 129.57,333.69 129.64,334.63 129.72,335.57 129.79,336.51 129.87,337.45 129.95,338.39 130.03,339.32 130.11,340.26 130.19,341.2 130.27,342.14 130.35,343.08 130.43,344.01 130.51,344.95 130.6,345.89 130.68,346.83 130.77,347.76 130.85,348.7 130.94,349.64 131.03,350.57 131.12,351.51 131.21,352.45 131.3,353.38 131.39,354.32 131.48,355.26 131.57,356.19 131.67,357.13 131.76,358.07 131.86,359 131.96,359.94 132.05,360.88 132.15,361.81 132.25,362.75 132.35,363.68 132.45,364.62 132.55,365.56 132.66,366.49 132.76,367.43 132.87,368.36 132.97,369.3 133.08,370.23 133.19,371.17 133.29,372.1 133.4,373.04 133.51,373.97 133.63,374.91 133.74,375.84 133.85,376.78 133.97,377.71 134.08,378.65 134.2,379.58 134.31,380.52 134.43,381.45 134.55,382.38 134.67,383.32 134.79,384.25 134.91,385.19 135.04,386.12 135.16,387.05 135.29,387.99 135.41,388.92 135.54,389.85 135.67,390.79 135.8,391.72 135.93,392.65 136.06,393.59 136.19,394.52 136.32,395.45 136.46,396.38 136.59,397.32 136.73,398.25 136.87,399.18 137.01,400.11 137.15,401.04 137.29,401.98 137.43,402.91 137.57,403.84 137.72,404.77 137.86,405.7 138.01,406.63 138.16,407.57 138.3,408.5 138.45,409.43 138.6,410.36 138.76,411.29 138.91,412.22 139.06,413.15 139.22,414.08 139.37,415.01 139.53,415.94 139.69,416.87 139.85,417.8 140.01,418.73 140.17,419.66 140.33,420.59 140.5,421.52 140.66,422.45 140.83,423.38 141,424.31 141.17,425.24 141.34,426.17 141.51,427.09 141.68,428.02 141.86,428.95 142.03,429.88 142.21,430.81 142.38,431.74 142.56,432.66 142.74,433.59 142.92,434.52 143.11,435.45 143.29,436.37 143.47,437.3 143.66,438.23 143.85,439.16 144.04,440.08 144.23,441.01 144.42,441.94 144.61,442.86 144.8,443.79 145,444.72 145.19,445.64 145.39,446.57 145.59,447.49 145.79,448.42 145.99,449.35 146.19,450.27 146.4,451.2 146.61,452.12 146.81,453.05 147.03,453.97 147.24,454.89 147.45,455.82 147.67,456.74 147.89,457.66 148.11,458.58 148.33,459.5 148.56,460.42 148.79,461.34 149.02,462.26 149.25,463.18 149.49,464.1 149.72,465.02 149.97,465.93 150.21,466.85 150.46,467.76 150.71,468.67 150.96,469.59 151.22,470.5 151.48,471.41 151.74,472.32 152,473.22 152.27,474.13 152.55,475.04 152.82,475.94 153.1,476.84 153.39,477.74 153.67,478.65 153.96,479.54 154.26,480.44 154.56,481.34 154.86,482.23 155.17,483.13 155.48,484.02 155.79,484.91 156.11,485.8 156.44,486.68 156.77,487.57 157.1,488.45 157.44,489.33 157.78,490.21 158.13,491.09 158.48,491.96 158.83,492.84 159.2,493.71 159.56,494.58 159.93,495.45 160.32,496.32 160.72,497.17 161.15,498.02 161.6,498.85 162.07,499.65 162.59,500.44 163.14,501.19 163.73,501.9 164.38,502.58 165.07,503.2 165.82,503.77 166.64,504.28 167.51,504.72 168.4,505.09 169.34,505.41 170.31,505.68 171.27,505.9 172.29,506.09 173.3,506.25 174.31,506.39 175.34,506.52 176.36,506.64 177.36,506.76 178.36,506.87 179.35,506.99 180.33,507.1 181.31,507.22 182.28,507.34 183.24,507.46 184.21,507.58 185.16,507.69 186.11,507.81 187.06,507.92 188.01,508.04 188.95,508.15 189.88,508.26 190.81,508.38 191.74,508.5 192.66,508.63 193.57,508.76 194.47,508.91 195.37,509.07 196.26,509.24 197.15,509.43 198.02,509.64 198.89,509.87 199.75,510.12 200.6,510.4 201.45,510.7 202.29,511.03 203.13,511.37 203.97,511.74 204.8,512.12 205.63,512.53 206.45,512.95 207.28,513.38 208.1,513.83 208.92,514.29 209.73,514.76 210.55,515.24 211.37,515.73 212.18,516.23 213,516.74 213.81,517.25 214.63,517.76 215.44,518.27 216.26,518.79 217.08,519.3 217.9,519.82 218.73,520.33 219.55,520.83 220.38,521.33 221.21,521.83 222.04,522.31 222.88,522.79 223.72,523.27 224.55,523.74 225.39,524.2 226.24,524.66 227.08,525.11 227.93,525.56 228.77,526 229.62,526.43 230.47,526.86 231.33,527.28 232.18,527.7 233.04,528.11 233.89,528.51 234.75,528.91 235.61,529.31 236.48,529.7 237.34,530.08 238.21,530.46 239.07,530.83 239.94,531.2 240.81,531.56 241.69,531.92 242.56,532.27 243.43,532.62 244.31,532.96 245.19,533.3 246.07,533.63 246.95,533.95 247.83,534.28 248.71,534.59 249.6,534.9 250.49,535.21 251.37,535.51 252.26,535.81 253.15,536.1 254.05,536.39 254.94,536.67 255.83,536.95 256.73,537.22 257.63,537.49 258.53,537.76 259.42,538.02 260.33,538.28 261.23,538.53 262.13,538.77 263.03,539.02 263.94,539.26 264.85,539.49 265.75,539.72 266.66,539.95 267.57,540.17 268.48,540.39 269.4,540.6 270.31,540.81 271.22,541.02 272.14,541.22 273.05,541.42 273.97,541.61 274.89,541.8 275.81,541.99 276.73,542.17 277.65,542.35 278.57,542.53 279.49,542.7 280.42,542.87 281.34,543.03 282.27,543.19 283.19,543.35 284.12,543.51 285.05,543.66 285.98,543.81 286.9,543.95 287.83,544.09 288.77,544.23 289.7,544.37 290.63,544.5 291.56,544.63 292.49,544.75 293.43,544.88 294.36,545 295.3,545.11 296.24,545.23 297.17,545.34 298.11,545.45 299.05,545.55 299.98,545.66 300.92,545.76 301.86,545.85 302.8,545.95 303.74,546.04 304.68,546.13 305.63,546.22 306.57,546.3 307.51,546.39 308.45,546.47 309.4,546.54 310.34,546.62 311.28,546.69 312.23,546.76 313.17,546.83 314.12,546.9 315.06,546.96 316.01,547.03 316.95,547.09 317.9,547.14 318.85,547.2 319.79,547.26 320.74,547.31 321.69,547.36 322.63,547.41 323.58,547.45 324.53,547.5 325.48,547.54 326.42,547.59 327.37,547.63 328.32,547.67 329.27,547.7 330.22,547.74 331.16,547.77 332.11,547.81 333.06,547.84 334.01,547.87 334.96,547.9 335.91,547.93 336.85,547.95 337.8,547.98 338.75,548 339.7,548.02 340.65,548.05 341.6,548.07 342.54,548.09 343.49,548.11 344.44,548.13 345.39,548.14 346.33,548.16 347.28,548.17 348.23,548.19 349.18,548.2 350.12,548.22 351.07,548.23 352.02,548.24 352.96,548.26 353.91,548.27 354.86,548.28 355.8,548.29 356.75,548.3 357.7,548.31 358.64,548.32 359.59,548.33 360.53,548.34 361.48,548.34 362.42,548.35 363.37,548.36 364.31,548.37 365.26,548.38 366.2,548.39 367.15,548.4 368.09,548.41 369.04,548.41 369.98,548.42 370.93,548.43 371.87,548.44 372.81,548.45 373.76,548.46 374.7,548.47 375.64,548.48 376.59,548.5 377.53,548.51 378.47,548.52 379.41,548.53 380.36,548.55 381.3,548.56 382.24,548.58 383.18,548.59 384.12,548.61 385.07,548.63 386.01,548.65 386.95,548.67 387.89,548.69 388.83,548.71 389.77,548.73 390.71,548.75 391.65,548.78 392.59,548.8 393.53,548.83 394.47,548.86 395.41,548.89 396.35,548.92 397.29,548.95 398.22,548.98 399.16,549.02 400.1,549.06 401.04,549.09 401.98,549.13 402.91,549.17 403.85,549.22 404.79,549.26 405.72,549.31 406.66,549.36 407.6,549.4 408.53,549.46 409.47,549.51 410.4,549.56 411.34,549.62 412.27,549.68 413.21,549.74 414.14,549.81 415.08,549.87 416.01,549.94 416.94,550.01 417.88,550.08 418.81,550.16 419.74,550.23 420.67,550.31 421.61,550.39 422.54,550.48 423.47,550.56 424.4,550.65 425.33,550.74 426.26,550.84 427.19,550.93 428.12,551.03 429.05,551.13 429.98,551.24 430.91,551.35 431.84,551.46 432.77,551.57 433.7,551.69 434.63,551.81 435.55,551.93 436.48,552.05 437.41,552.18 438.34,552.31 439.26,552.45 440.19,552.59 441.12,552.73 442.04,552.87 442.97,553.02 443.89,553.17 444.82,553.32 445.74,553.48 446.67,553.63 447.59,553.79 448.52,553.95 449.44,554.12 450.37,554.28 451.3,554.45 452.22,554.62 453.15,554.79 454.07,554.97 455,555.14 455.92,555.31 456.85,555.49 457.77,555.67 458.7,555.85 459.62,556.02 460.55,556.2 461.47,556.38 462.4,556.56 463.32,556.74 464.25,556.92 465.17,557.1 466.1,557.28 467.03,557.46 467.95,557.64 468.88,557.82 469.81,558 470.73,558.17 471.66,558.35 472.59,558.53 473.51,558.7 474.44,558.87 475.37,559.04 476.3,559.21 477.23,559.38 478.16,559.55 479.08,559.71 480.01,559.87 480.94,560.03 481.87,560.19 482.8,560.34 483.73,560.5 484.67,560.65 485.6,560.79 486.53,560.94 487.46,561.08 488.39,561.21 489.33,561.35 490.26,561.48 491.19,561.61 492.13,561.73 493.06,561.85 494,561.97 494.93,562.08 495.87,562.19 496.8,562.3 497.74,562.4 498.67,562.5 499.61,562.6 500.54,562.69 501.48,562.78 502.42,562.87 503.35,562.96 504.29,563.04 505.23,563.12 506.17,563.2 507.1,563.27 508.04,563.35 508.98,563.42 509.92,563.48 510.86,563.55 511.79,563.61 512.73,563.67 513.67,563.73 514.61,563.79 515.55,563.84 516.49,563.89 517.43,563.94 518.37,563.99 519.31,564.04 520.25,564.08 521.19,564.12 522.13,564.17 523.07,564.2 524.01,564.24 524.95,564.28 525.89,564.31 526.83,564.35 527.77,564.38 528.71,564.41 529.65,564.44 530.59,564.47 531.53,564.5 532.47,564.52 533.41,564.55 534.36,564.57 535.3,564.6 536.24,564.62 537.18,564.64 538.12,564.66 539.06,564.68 540.01,564.7 540.95,564.72 541.89,564.74 542.83,564.76 543.77,564.78 544.71,564.79 545.66,564.81 546.6,564.83 547.54,564.85 548.48,564.86 549.42,564.88 550.37,564.9 551.31,564.91 552.25,564.93 553.19,564.95 554.13,564.97 555.08,564.99 556.02,565 556.96,565.02 557.9,565.04 558.84,565.06 559.79,565.08 560.73,565.1 561.67,565.13 562.61,565.15 563.55,565.17 564.49,565.2 565.44,565.22 566.38,565.25 567.32,565.27 568.26,565.3 569.2,565.33 570.15,565.36 571.09,565.38 572.03,565.41 572.97,565.45 573.91,565.48 574.85,565.51 575.8,565.54 576.74,565.58 577.68,565.61 578.62,565.65 579.56,565.68 580.5,565.72 581.45,565.76 582.39,565.8 583.33,565.84 584.27,565.88 585.21,565.92 586.15,565.96 587.09,566.01 588.03,566.05 588.98,566.1 589.92,566.14 590.86,566.19 591.8,566.24 592.74,566.29 593.68,566.34 594.62,566.39 595.56,566.44 596.5,566.5 597.44,566.55 598.38,566.61 599.32,566.66 600.26,566.72 601.2,566.78 602.14,566.84 603.08,566.9 604.02,566.96 604.96,567.02 605.9,567.09 606.84,567.15 607.78,567.22 608.72,567.28 609.65,567.35 610.59,567.42 611.53,567.49 612.47,567.57 613.41,567.64 614.35,567.71 615.28,567.79 616.22,567.86 617.16,567.94 618.1,568.02 619.04,568.1 619.97,568.18 620.91,568.27 621.85,568.35 622.78,568.44 623.72,568.52 624.66,568.61 625.59,568.7 626.53,568.79 627.46,568.88 628.4,568.97 629.34,569.07 630.27,569.16 631.21,569.26 632.14,569.36 633.08,569.46 634.01,569.56 634.95,569.66 635.88,569.77 636.81,569.87 637.75,569.98 638.68,570.09 639.61,570.2 640.55,570.31 641.48,570.42 642.41,570.53 643.35,570.65 644.28,570.77 645.21,570.88 646.14,571 647.07,571.13 648.01,571.25 648.94,571.37 649.87,571.5 650.8,571.63 651.73,571.75 652.66,571.89 653.59,572.02 654.52,572.15 655.45,572.29 656.38,572.42 657.31,572.56 658.24,572.7 659.16,572.84 660.09,572.99 661.02,573.13 661.95,573.28 662.87,573.42 663.8,573.57 664.73,573.73 665.66,573.88 666.58,574.03 667.51,574.19 668.44,574.34 669.36,574.5 670.29,574.66 671.21,574.82 672.14,574.98 673.06,575.15 673.99,575.31 674.91,575.48 675.84,575.64 676.76,575.81 677.69,575.98 678.61,576.15 679.54,576.32 680.46,576.49 681.39,576.67 682.31,576.84 683.24,577.02 684.16,577.19 685.09,577.37 686.01,577.54 686.93,577.72 687.86,577.9 688.78,578.08 689.71,578.26 690.63,578.44 691.55,578.62 692.48,578.81 693.4,578.99 694.32,579.17 695.25,579.36 696.17,579.54 697.1,579.72 698.02,579.91 698.94,580.09 699.87,580.28 700.79,580.47 701.72,580.65 702.64,580.84 703.56,581.03 704.49,581.21 705.41,581.4 706.34,581.59 707.26,581.78 708.19,581.96 709.11,582.15 710.04,582.34 710.96,582.53 711.89,582.71 712.81,582.9 713.74,583.09 714.66,583.28 715.59,583.46 716.51,583.65 717.44,583.84 718.36,584.02 719.29,584.21 720.22,584.39 721.14,584.58 722.07,584.76 723,584.95 723.92,585.13 724.85,585.32 725.78,585.5 726.71,585.68 727.64,585.86 728.56,586.05 729.49,586.23 730.42,586.41 731.33,586.59 732.25,586.79 733.15,586.99 734.05,587.2 734.94,587.43 735.81,587.68 736.67,587.95 737.52,588.24 738.35,588.55 739.17,588.9 739.98,589.28 740.75,589.68 741.52,590.14 742.27,590.62 742.99,591.15 743.7,591.73 744.37,592.35 745.02,593.02 745.65,593.78 746.31,594.58 746.31,594.58" fill="none" stroke="#4a98c9" stroke-width="4.2" stroke-linejoin="round"/>
<path d="M123.8,600 123.85,599 123.89,598 123.93,597 123.97,596 124.02,595 124.06,594 124.11,593 124.16,592 124.23,591 124.3,590 124.37,589.2 124.44,588.4 124.53,587.6 124.62,586.8 124.71,586 124.81,585.2 124.91,584.4 125,583.6 125.1,582.8 125.2,582 125.3,581.2 125.4,580.4 125.5,579.6 125.6,578.8 125.7,578 125.8,577.2 125.9,576.4 126,575.6 126.1,574.8 126.2,574 126.29,573.2 126.38,572.4 126.47,571.6 126.56,570.8 126.64,570 126.73,569.2 126.82,568.4 126.91,567.6 127,566.8 127.1,566 127.19,565.3 127.28,564.6 127.37,563.89 127.46,563.19 127.55,562.49 127.65,561.79 127.75,561.09 127.86,560.39 127.98,559.7 128.1,559 128.21,558.39 128.33,557.79 128.45,557.18 128.57,556.57 128.7,555.97 128.84,555.37 128.99,554.77 129.14,554.18 129.32,553.58 129.5,553 129.64,552.58 129.8,552.17 129.96,551.75 130.14,551.34 130.32,550.93 130.52,550.53 130.72,550.14 130.94,549.75 131.16,549.37 131.4,549 131.61,548.69 131.84,548.38 132.08,548.08 132.33,547.78 132.59,547.5 132.86,547.22 133.13,546.95 133.42,546.69 133.71,546.44 134,546.2 134.27,546 134.55,545.8 134.83,545.62 135.13,545.45 135.43,545.28 135.74,545.12 136.05,544.98 136.36,544.84 136.68,544.72 137,544.6 137.48,544.44 137.97,544.29 138.47,544.15 138.97,544.02 139.47,543.9 139.97,543.79 140.48,543.69 140.99,543.59 141.49,543.49 142,543.4 142.6,543.3 143.19,543.2 143.79,543.12 144.39,543.04 144.99,542.96 145.59,542.89 146.2,542.82 146.8,542.75 147.4,542.68 148,542.59 150.5,542.42 153,542.26 155.5,542.11 158.01,541.97 160.51,541.84 163.01,541.71 165.52,541.59 168.02,541.48 170.52,541.38 173.03,541.28 175.53,541.19 178.04,541.11 180.55,541.03 183.05,540.96 185.56,540.9 188.07,540.83 190.57,540.78 193.08,540.72 195.59,540.67 198.1,540.63 200.6,540.59 203.11,540.55 205.62,540.51 208.13,540.48 210.64,540.44 213.15,540.41 215.65,540.38 218.16,540.35 220.67,540.32 223.18,540.3 225.69,540.27 228.2,540.24 230.71,540.21 233.21,540.18 235.72,540.15 238.23,540.11 240.74,540.07 243.25,540.04 245.75,539.99 248.26,539.95 250.77,539.9 253.27,539.85 255.78,539.79 258.29,539.73 260.79,539.67 263.3,539.59 265.8,539.52 268.31,539.44 270.81,539.35 273.31,539.25 275.82,539.15 278.32,539.04 280.82,538.93 283.32,538.8 285.82,538.67 288.32,538.53 290.82,538.38 293.32,538.22 295.82,538.05 298.32,537.87 300.81,537.68 303.31,537.48 305.81,537.27 308.3,537.05 310.8,536.82 313.29,536.57 315.78,536.32 318.27,536.05 320.76,535.76 323.25,535.47 325.74,535.16 328.23,534.84 330.72,534.52 333.21,534.18 335.69,533.84 338.18,533.5 340.66,533.15 343.15,532.79 345.63,532.44 348.12,532.08 350.6,531.72 353.09,531.37 355.58,531.02 358.06,530.67 360.55,530.33 363.03,529.99 365.52,529.66 368,529.34 370.49,529.03 372.98,528.73 375.47,528.45 377.96,528.18 380.45,527.92 382.94,527.67 385.43,527.45 387.92,527.23 390.41,527.03 392.91,526.85 395.4,526.67 397.9,526.51 400.39,526.36 402.89,526.22 405.39,526.08 407.89,525.96 410.39,525.85 412.89,525.74 415.39,525.64 417.89,525.54 420.4,525.46 422.9,525.37 425.4,525.29 427.91,525.22 430.41,525.14 432.92,525.07 435.43,525 437.94,524.93 440.45,524.87 442.96,524.8 445.47,524.73 447.98,524.66 450.49,524.58 453,524.51 455.51,524.43 458.03,524.36 460.54,524.28 463.05,524.19 465.56,524.11 468.08,524.02 470.59,523.93 473.1,523.83 475.62,523.73 478.13,523.62 480.64,523.51 483.15,523.4 485.67,523.28 488.18,523.15 490.69,523.02 493.2,522.88 495.71,522.74 498.21,522.58 500.72,522.43 503.23,522.26 505.73,522.09 508.24,521.9 510.74,521.71 513.24,521.52 515.74,521.31 518.24,521.09 520.74,520.87 523.24,520.63 525.73,520.39 528.22,520.13 530.72,519.86 533.2,519.59 535.69,519.3 538.18,519 540.66,518.69 543.14,518.37 545.62,518.03 548.1,517.68 550.58,517.32 553.05,516.95 555.52,516.56 557.99,516.16 560.45,515.74 562.91,515.31 565.37,514.87 567.83,514.41 570.29,513.94 572.74,513.46 575.19,512.96 577.63,512.45 580.08,511.92 582.52,511.38 584.96,510.83 587.39,510.26 589.82,509.69 592.25,509.1 594.68,508.49 597.11,507.88 599.53,507.25 601.94,506.61 604.36,505.96 606.77,505.29 609.18,504.62 611.59,503.93 613.99,503.23 616.39,502.52 618.79,501.8 621.18,501.07 623.58,500.32 625.96,499.57 628.35,498.8 630.73,498.02 633.11,497.24 635.49,496.44 637.86,495.63 640.23,494.81 642.6,493.98 644.96,493.15 647.33,492.33 649.71,491.51 652.1,490.71 654.49,489.93 656.91,489.19 659.34,488.48 661.79,487.82 664.26,487.2 666.76,486.64 669.27,486.1 671.75,485.55 674.2,484.96 676.58,484.3 678.88,483.53 681.07,482.62 683.12,481.54 685.03,480.26 686.77,478.76 688.37,477.08 689.84,475.22 691.2,473.23 692.46,471.12 693.65,468.92 694.78,466.66 695.86,464.37 696.92,462.06 697.96,459.75 698.97,457.43 699.96,455.1 700.93,452.76 701.87,450.42 702.8,448.07 703.7,445.72 704.59,443.36 705.45,440.99 706.29,438.62 707.12,436.25 707.93,433.86 708.72,431.48 709.49,429.08 710.24,426.69 710.98,424.28 711.7,421.88 712.41,419.47 713.1,417.05 713.77,414.63 714.43,412.21 715.08,409.79 715.71,407.36 716.33,404.92 716.93,402.49 717.52,400.05 718.1,397.61 718.67,395.17 719.23,392.72 719.77,390.27 720.31,387.82 720.83,385.37 721.35,382.92 721.86,380.46 722.35,378.01 722.84,375.55 723.32,373.09 723.79,370.63 724.26,368.17 724.71,365.71 725.16,363.24 725.6,360.78 726.03,358.31 726.45,355.84 726.86,353.38 727.27,350.91 727.66,348.44 728.05,345.96 728.44,343.49 728.81,341.02 729.18,338.54 729.54,336.07 729.89,333.59 730.24,331.11 730.58,328.63 730.91,326.15 731.23,323.67 731.55,321.19 731.86,318.71 732.17,316.23 732.47,313.74 732.76,311.26 733.04,308.77 733.32,306.28 733.6,303.8 733.86,301.31 734.12,298.82 734.38,296.33 734.63,293.84 734.87,291.34 735.11,288.85 735.34,286.36 735.57,283.86 735.79,281.37 736,278.87 736.21,276.38 736.42,273.88 736.62,271.38 736.81,268.88 737.01,266.39 737.19,263.89 737.37,261.39 737.55,258.89 737.72,256.38 737.89,253.88 738.05,251.38 738.21,248.88 738.37,246.37 738.52,243.87 738.66,241.37 738.81,238.86 738.95,236.36 739.08,233.85 739.21,231.35 739.34,228.84 739.47,226.33 739.59,223.83 739.71,221.32 739.82,218.81 739.94,216.3 740.05,213.79 740.15,211.29 740.26,208.78 740.36,206.27 740.46,203.76 740.55,201.25 740.64,198.74 740.74,196.23 740.82,193.72 740.91,191.21 741,188.7 741.08,186.18 741.16,183.67 741.24,181.16 741.32,178.65 741.39,176.14 741.46,173.63 741.54,171.12 741.61,168.61 741.68,166.09 741.75,163.58 741.81,161.07 741.88,158.56 741.95,156.05 742.01,153.54 742.08,151.02 742.14,148.51 742.2,146 742.26,143.49 742.33,140.98 742.39,138.47 742.45,135.96 742.51,133.45 742.57,130.94 742.63,128.43 742.69,125.92 742.76,123.41 742.82,120.9 742.88,118.39 742.94,115.88 743.01,113.37 743.07,110.86 743.14,108.35 743.2,105.85 743.27,103.34 743.34,100.83 743.41,98.32 743.48,95.82 743.55,93.31 743.62,90.81 743.7,88.3 743.77,85.8 743.85,83.29 743.93,80.79 744.01,78.29 744.09,75.78 744.18,73.28 744.27,70.78 744.36,68.28 744.45,65.78 744.54,63.28 744.64,60.78 744.74,58.28 744.84,55.78 744.95,53.28 745.05,50.79 745.16,48.29 745.28,45.79 745.4,43.3 745.52,40.8" fill="none" stroke="#f14432" stroke-width="4.2" stroke-linejoin="round"/>
<path d="M123.84,70.01 123.87,70.95 123.89,71.89 123.91,72.83 123.94,73.77 123.96,74.71 123.99,75.65 124.01,76.58 124.03,77.52 124.05,78.46 124.08,79.4 124.1,80.34 124.12,81.28 124.14,82.22 124.16,83.16 124.18,84.1 124.2,85.04 124.22,85.98 124.24,86.92 124.26,87.86 124.27,88.79 124.29,89.73 124.31,90.67 124.33,91.61 124.34,92.55 124.36,93.49 124.38,94.43 124.39,95.37 124.41,96.31 124.42,97.25 124.44,98.19 124.45,99.14 124.47,100.08 124.48,101.02 124.5,101.96 124.51,102.9 124.52,103.84 124.54,104.78 124.55,105.72 124.56,106.66 124.57,107.6 124.59,108.54 124.6,109.48 124.61,110.42 124.62,111.36 124.63,112.3 124.64,113.25 124.65,114.19 124.66,115.13 124.67,116.07 124.68,117.01 124.69,117.95 124.7,118.89 124.71,119.83 124.72,120.78 124.73,121.72 124.74,122.66 124.75,123.6 124.76,124.54 124.76,125.48 124.77,126.43 124.78,127.37 124.79,128.31 124.8,129.25 124.8,130.19 124.81,131.13 124.82,132.08 124.82,133.02 124.83,133.96 124.84,134.9 124.84,135.84 124.85,136.79 124.86,137.73 124.86,138.67 124.87,139.61 124.88,140.56 124.88,141.5 124.89,142.44 124.89,143.38 124.9,144.33 124.9,145.27 124.91,146.21 124.91,147.15 124.92,148.09 124.93,149.04 124.93,149.98 124.94,150.92 124.94,151.87 124.95,152.81 124.95,153.75 124.96,154.69 124.96,155.64 124.97,156.58 124.97,157.52 124.97,158.46 124.98,159.41 124.98,160.35 124.99,161.29 124.99,162.24 125,163.18 125,164.12 125.01,165.06 125.01,166.01 125.02,166.95 125.02,167.89 125.03,168.84 125.03,169.78 125.04,170.72 125.04,171.66 125.05,172.61 125.05,173.55 125.06,174.49 125.06,175.44 125.07,176.38 125.07,177.32 125.08,178.27 125.08,179.21 125.09,180.15 125.09,181.1 125.1,182.04 125.1,182.98 125.11,183.93 125.11,184.87 125.12,185.81 125.13,186.76 125.13,187.7 125.14,188.64 125.14,189.59 125.15,190.53 125.16,191.47 125.16,192.41 125.17,193.36 125.18,194.3 125.18,195.24 125.19,196.19 125.2,197.13 125.21,198.07 125.21,199.02 125.22,199.96 125.23,200.9 125.24,201.85 125.25,202.79 125.26,203.73 125.26,204.68 125.27,205.62 125.28,206.56 125.29,207.51 125.3,208.45 125.31,209.39 125.32,210.34 125.33,211.28 125.34,212.22 125.35,213.17 125.36,214.11 125.37,215.05 125.38,216 125.39,216.94 125.41,217.88 125.42,218.83 125.43,219.77 125.44,220.71 125.46,221.66 125.47,222.6 125.48,223.54 125.49,224.48 125.51,225.43 125.52,226.37 125.54,227.31 125.55,228.26 125.57,229.2 125.58,230.14 125.6,231.09 125.61,232.03 125.63,232.97 125.64,233.91 125.66,234.86 125.68,235.8 125.7,236.74 125.71,237.69 125.73,238.63 125.75,239.57 125.77,240.51 125.79,241.46 125.81,242.4 125.83,243.34 125.85,244.29 125.87,245.23 125.89,246.17 125.91,247.11 125.93,248.06 125.95,249 125.97,249.94 126,250.88 126.02,251.83 126.04,252.77 126.07,253.71 126.09,254.65 126.12,255.6 126.14,256.54 126.17,257.48 126.19,258.42 126.22,259.37 126.25,260.31 126.27,261.25 126.3,262.19 126.33,263.13 126.36,264.08 126.39,265.02 126.42,265.96 126.45,266.9 126.48,267.84 126.51,268.79 126.54,269.73 126.57,270.67 126.6,271.61 126.64,272.55 126.67,273.5 126.7,274.44 126.74,275.38 126.77,276.32 126.81,277.26 126.84,278.2 126.88,279.14 126.92,280.09 126.95,281.03 126.99,281.97 127.03,282.91 127.07,283.85 127.11,284.79 127.15,285.73 127.19,286.68 127.23,287.62 127.27,288.56 127.32,289.5 127.36,290.44 127.4,291.38 127.45,292.32 127.49,293.26 127.54,294.2 127.58,295.14 127.63,296.08 127.67,297.02 127.72,297.96 127.77,298.9 127.82,299.85 127.87,300.79 127.92,301.73 127.97,302.67 128.02,303.61 128.07,304.55 128.13,305.49 128.18,306.43 128.23,307.37 128.29,308.31 128.34,309.25 128.4,310.19 128.45,311.13 128.51,312.07 128.57,313 128.63,313.94 128.69,314.88 128.75,315.82 128.81,316.76 128.87,317.7 128.93,318.64 128.99,319.58 129.06,320.52 129.12,321.46 129.18,322.4 129.25,323.34 129.32,324.27 129.38,325.21 129.45,326.15 129.52,327.09 129.59,328.03 129.66,328.97 129.73,329.91 129.8,330.84 129.87,331.78 129.94,332.72 130.02,333.66 130.09,334.6 130.17,335.54 130.24,336.47 130.32,337.41 130.4,338.35 130.47,339.29 130.55,340.22 130.63,341.16 130.71,342.1 130.8,343.04 130.88,343.97 130.96,344.91 131.04,345.85 131.13,346.78 131.21,347.72 131.3,348.66 131.39,349.6 131.48,350.53 131.57,351.47 131.65,352.4 131.75,353.34 131.84,354.28 131.93,355.21 132.02,356.15 132.12,357.09 132.21,358.02 132.31,358.96 132.4,359.89 132.5,360.83 132.6,361.77 132.7,362.7 132.8,363.64 132.9,364.57 133,365.51 133.1,366.44 133.21,367.38 133.31,368.31 133.42,369.25 133.53,370.18 133.63,371.12 133.74,372.05 133.85,372.99 133.96,373.92 134.07,374.86 134.18,375.79 134.3,376.72 134.41,377.66 134.53,378.59 134.64,379.53 134.76,380.46 134.88,381.39 135,382.33 135.12,383.26 135.24,384.19 135.36,385.13 135.48,386.06 135.61,386.99 135.73,387.93 135.86,388.86 135.99,389.79 136.11,390.72 136.24,391.66 136.37,392.59 136.5,393.52 136.64,394.45 136.77,395.39 136.9,396.32 137.04,397.25 137.18,398.18 137.31,399.11 137.45,400.05 137.59,400.98 137.73,401.91 137.87,402.84 138.02,403.77 138.16,404.7 138.31,405.63 138.45,406.56 138.6,407.49 138.75,408.43 138.9,409.36 139.05,410.29 139.2,411.22 139.35,412.15 139.51,413.08 139.66,414.01 139.82,414.94 139.97,415.87 140.13,416.8 140.29,417.72 140.45,418.65 140.62,419.58 140.78,420.51 140.94,421.44 141.11,422.37 141.27,423.3 141.44,424.23 141.61,425.16 141.78,426.08 141.95,427.01 142.12,427.94 142.3,428.87 142.47,429.8 142.65,430.72 142.83,431.65 143,432.58 143.18,433.51 143.37,434.43 143.55,435.36 143.73,436.29 143.92,437.21 144.1,438.14 144.29,439.07 144.48,439.99 144.67,440.92 144.86,441.85 145.05,442.77 145.24,443.7 145.44,444.62 145.63,445.55 145.83,446.47 146.03,447.4 146.23,448.33 146.43,449.25 146.63,450.17 146.84,451.1 147.05,452.02 147.25,452.95 147.46,453.87 147.68,454.79 147.89,455.71 148.11,456.64 148.33,457.56 148.55,458.48 148.77,459.4 148.99,460.32 149.22,461.24 149.45,462.15 149.69,463.07 149.92,463.99 150.16,464.9 150.4,465.82 150.64,466.73 150.89,467.64 151.14,468.55 151.39,469.46 151.65,470.37 151.91,471.28 152.17,472.19 152.44,473.1 152.7,474 152.98,474.91 153.25,475.81 153.53,476.71 153.81,477.61 154.1,478.51 154.39,479.4 154.69,480.3 154.98,481.19 155.29,482.09 155.59,482.98 155.9,483.87 156.22,484.76 156.54,485.64 156.86,486.53 157.19,487.41 157.52,488.29 157.86,489.17 158.2,490.05 158.54,490.92 158.89,491.8 159.25,492.67 159.61,493.54 159.97,494.4 160.35,495.27 160.73,496.13 161.13,496.97 161.54,497.81 161.99,498.63 162.45,499.41 162.96,500.18 163.49,500.91 164.06,501.6 164.69,502.26 165.36,502.85 166.08,503.4 166.86,503.89 167.69,504.31 168.55,504.67 169.47,504.98 170.42,505.24 171.37,505.46 172.37,505.65 173.37,505.81 174.37,505.95 175.39,506.07 176.41,506.19 177.41,506.31 178.41,506.42 179.41,506.54 180.38,506.66 181.36,506.78 182.34,506.89 183.3,507.01 184.26,507.13 185.22,507.25 186.17,507.36 187.12,507.48 188.06,507.59 189,507.7 189.94,507.82 190.87,507.93 191.8,508.05 192.72,508.18 193.64,508.32 194.55,508.46 195.45,508.62 196.35,508.8 197.25,508.99 198.13,509.2 199.01,509.44 199.88,509.69 200.75,509.98 201.6,510.28 202.46,510.61 203.31,510.96 204.15,511.33 204.99,511.72 205.83,512.12 206.66,512.55 207.49,512.98 208.31,513.43 209.14,513.9 209.96,514.37 210.78,514.86 211.6,515.35 212.42,515.85 213.24,516.35 214.05,516.87 214.87,517.38 215.68,517.89 216.5,518.41 217.32,518.92 218.14,519.43 218.96,519.94 219.79,520.45 220.61,520.95 221.44,521.44 222.27,521.92 223.1,522.4 223.94,522.88 224.77,523.35 225.61,523.81 226.45,524.26 227.29,524.71 228.13,525.16 228.98,525.6 229.83,526.03 230.67,526.46 231.52,526.88 232.38,527.29 233.23,527.7 234.08,528.11 234.94,528.51 235.8,528.9 236.66,529.29 237.52,529.67 238.38,530.05 239.25,530.42 240.12,530.79 240.98,531.15 241.85,531.5 242.73,531.85 243.6,532.2 244.47,532.54 245.35,532.88 246.23,533.21 247.1,533.53 247.98,533.85 248.87,534.17 249.75,534.48 250.63,534.78 251.52,535.09 252.41,535.38 253.29,535.67 254.18,535.96 255.07,536.24 255.97,536.52 256.86,536.79 257.76,537.06 258.65,537.33 259.55,537.59 260.45,537.84 261.35,538.09 262.25,538.34 263.15,538.58 264.05,538.82 264.96,539.05 265.86,539.28 266.77,539.51 267.68,539.73 268.59,539.95 269.5,540.16 270.41,540.37 271.32,540.58 272.23,540.78 273.15,540.98 274.06,541.17 274.98,541.36 275.9,541.55 276.82,541.73 277.73,541.91 278.65,542.08 279.58,542.26 280.5,542.42 281.42,542.59 282.34,542.75 283.27,542.91 284.19,543.06 285.12,543.21 286.05,543.36 286.97,543.51 287.9,543.65 288.83,543.79 289.76,543.92 290.69,544.05 291.62,544.18 292.55,544.31 293.49,544.43 294.42,544.55 295.35,544.67 296.29,544.78 297.22,544.89 298.16,545 299.1,545.11 300.03,545.21 300.97,545.31 301.91,545.41 302.85,545.5 303.79,545.59 304.73,545.68 305.67,545.77 306.61,545.86 307.55,545.94 308.49,546.02 309.43,546.1 310.37,546.17 311.32,546.24 312.26,546.31 313.2,546.38 314.15,546.45 315.09,546.51 316.04,546.58 316.98,546.64 317.93,546.7 318.87,546.75 319.82,546.81 320.76,546.86 321.71,546.91 322.66,546.96 323.6,547.01 324.55,547.05 325.5,547.09 326.44,547.14 327.39,547.18 328.34,547.22 329.29,547.25 330.23,547.29 331.18,547.32 332.13,547.36 333.08,547.39 334.02,547.42 334.97,547.45 335.92,547.48 336.87,547.5 337.81,547.53 338.76,547.55 339.71,547.57 340.66,547.6 341.61,547.62 342.55,547.64 343.5,547.66 344.45,547.68 345.39,547.69 346.34,547.71 347.29,547.72 348.24,547.74 349.18,547.75 350.13,547.77 351.08,547.78 352.02,547.79 352.97,547.81 353.92,547.82 354.86,547.83 355.81,547.84 356.75,547.85 357.7,547.86 358.65,547.87 359.59,547.88 360.54,547.89 361.48,547.89 362.43,547.9 363.37,547.91 364.32,547.92 365.26,547.93 366.21,547.94 367.15,547.95 368.1,547.96 369.04,547.96 369.99,547.97 370.93,547.98 371.87,547.99 372.82,548 373.76,548.01 374.71,548.02 375.65,548.03 376.59,548.05 377.54,548.06 378.48,548.07 379.42,548.08 380.36,548.1 381.31,548.11 382.25,548.13 383.19,548.14 384.13,548.16 385.07,548.18 386.02,548.2 386.96,548.22 387.9,548.24 388.84,548.26 389.78,548.28 390.72,548.3 391.66,548.33 392.6,548.35 393.54,548.38 394.48,548.41 395.42,548.44 396.36,548.47 397.3,548.5 398.24,548.53 399.18,548.57 400.12,548.61 401.06,548.64 401.99,548.68 402.93,548.72 403.87,548.77 404.81,548.81 405.75,548.86 406.68,548.91 407.62,548.96 408.56,549.01 409.49,549.06 410.43,549.12 411.37,549.17 412.3,549.23 413.24,549.29 414.17,549.36 415.11,549.42 416.04,549.49 416.98,549.56 417.91,549.63 418.85,549.71 419.78,549.78 420.71,549.86 421.65,549.94 422.58,550.03 423.51,550.11 424.44,550.2 425.38,550.3 426.31,550.39 427.24,550.49 428.17,550.59 429.1,550.69 430.03,550.79 430.96,550.9 431.9,551.01 432.83,551.12 433.76,551.24 434.68,551.36 435.61,551.48 436.54,551.61 437.47,551.74 438.4,551.87 439.33,552 440.26,552.14 441.18,552.28 442.11,552.43 443.04,552.57 443.97,552.72 444.89,552.88 445.82,553.03 446.75,553.19 447.67,553.35 448.6,553.51 449.52,553.68 450.45,553.84 451.38,554.01 452.3,554.18 453.23,554.35 454.15,554.52 455.08,554.7 456,554.87 456.93,555.05 457.86,555.23 458.78,555.4 459.71,555.58 460.63,555.76 461.56,555.94 462.48,556.12 463.41,556.3 464.33,556.48 465.26,556.66 466.19,556.84 467.11,557.02 468.04,557.2 468.96,557.38 469.89,557.56 470.82,557.73 471.74,557.91 472.67,558.08 473.6,558.26 474.52,558.43 475.45,558.6 476.38,558.77 477.31,558.94 478.23,559.1 479.16,559.27 480.09,559.43 481.02,559.59 481.95,559.75 482.88,559.9 483.81,560.05 484.74,560.2 485.67,560.35 486.6,560.49 487.53,560.63 488.46,560.77 489.39,560.9 490.32,561.03 491.25,561.16 492.19,561.28 493.12,561.4 494.05,561.52 494.98,561.63 495.92,561.74 496.85,561.85 497.79,561.95 498.72,562.05 499.65,562.15 500.59,562.24 501.52,562.34 502.46,562.42 503.39,562.51 504.33,562.59 505.27,562.67 506.2,562.75 507.14,562.83 508.07,562.9 509.01,562.97 509.95,563.03 510.89,563.1 511.82,563.16 512.76,563.22 513.7,563.28 514.64,563.34 515.57,563.39 516.51,563.44 517.45,563.49 518.39,563.54 519.33,563.59 520.27,563.63 521.21,563.67 522.15,563.72 523.08,563.76 524.02,563.79 524.96,563.83 525.9,563.86 526.84,563.9 527.78,563.93 528.72,563.96 529.66,563.99 530.6,564.02 531.55,564.05 532.49,564.07 533.43,564.1 534.37,564.12 535.31,564.15 536.25,564.17 537.19,564.19 538.13,564.21 539.07,564.23 540.01,564.25 540.96,564.27 541.9,564.29 542.84,564.31 543.78,564.33 544.72,564.34 545.66,564.36 546.61,564.38 547.55,564.4 548.49,564.41 549.43,564.43 550.37,564.45 551.32,564.46 552.26,564.48 553.2,564.5 554.14,564.52 555.08,564.54 556.03,564.55 556.97,564.57 557.91,564.59 558.85,564.61 559.8,564.63 560.74,564.65 561.68,564.68 562.62,564.7 563.56,564.72 564.51,564.75 565.45,564.77 566.39,564.8 567.33,564.82 568.28,564.85 569.22,564.88 570.16,564.91 571.1,564.93 572.04,564.96 572.99,565 573.93,565.03 574.87,565.06 575.81,565.09 576.75,565.13 577.7,565.16 578.64,565.2 579.58,565.23 580.52,565.27 581.46,565.31 582.41,565.35 583.35,565.39 584.29,565.43 585.23,565.47 586.17,565.51 587.11,565.56 588.06,565.6 589,565.65 589.94,565.69 590.88,565.74 591.82,565.79 592.76,565.84 593.7,565.89 594.64,565.94 595.59,565.99 596.53,566.05 597.47,566.1 598.41,566.16 599.35,566.21 600.29,566.27 601.23,566.33 602.17,566.39 603.11,566.45 604.05,566.51 604.99,566.57 605.93,566.64 606.87,566.7 607.81,566.77 608.75,566.84 609.69,566.9 610.63,566.97 611.57,567.04 612.5,567.12 613.44,567.19 614.38,567.26 615.32,567.34 616.26,567.42 617.2,567.49 618.14,567.57 619.07,567.65 620.01,567.74 620.95,567.82 621.89,567.9 622.82,567.99 623.76,568.07 624.7,568.16 625.64,568.25 626.57,568.34 627.51,568.43 628.45,568.53 629.38,568.62 630.32,568.72 631.25,568.81 632.19,568.91 633.12,569.01 634.06,569.11 635,569.22 635.93,569.32 636.86,569.43 637.8,569.53 638.73,569.64 639.67,569.75 640.6,569.86 641.54,569.97 642.47,570.09 643.4,570.2 644.34,570.32 645.27,570.44 646.2,570.56 647.13,570.68 648.06,570.8 649,570.93 649.93,571.05 650.86,571.18 651.79,571.31 652.72,571.44 653.65,571.57 654.58,571.71 655.51,571.84 656.44,571.98 657.37,572.12 658.3,572.26 659.23,572.4 660.16,572.54 661.09,572.69 662.02,572.83 662.95,572.98 663.87,573.13 664.8,573.28 665.73,573.43 666.66,573.59 667.58,573.74 668.51,573.9 669.44,574.06 670.36,574.22 671.29,574.38 672.22,574.54 673.14,574.7 674.07,574.87 674.99,575.03 675.92,575.2 676.85,575.37 677.77,575.54 678.7,575.71 679.62,575.88 680.55,576.05 681.47,576.22 682.4,576.4 683.32,576.57 684.25,576.75 685.17,576.93 686.09,577.1 687.02,577.28 687.94,577.46 688.87,577.64 689.79,577.82 690.72,578 691.64,578.18 692.56,578.36 693.49,578.55 694.41,578.73 695.34,578.91 696.26,579.1 697.18,579.28 698.11,579.47 699.03,579.65 699.96,579.84 700.88,580.03 701.8,580.21 702.73,580.4 703.65,580.58 704.58,580.77 705.5,580.96 706.43,581.15 707.35,581.33 708.28,581.52 709.2,581.71 710.13,581.9 711.05,582.08 711.98,582.27 712.9,582.46 713.83,582.65 714.75,582.83 715.68,583.02 716.6,583.21 717.53,583.39 718.45,583.58 719.38,583.77 720.31,583.95 721.23,584.14 722.16,584.32 723.09,584.51 724.01,584.69 724.94,584.88 725.87,585.06 726.79,585.24 727.72,585.42 728.65,585.6 729.58,585.79 730.5,585.97 731.42,586.15 732.34,586.35 733.25,586.55 734.16,586.77 735.05,587 735.94,587.25 736.81,587.52 737.67,587.81 738.52,588.13 739.36,588.49 740.18,588.87 740.97,589.29 741.76,589.75 742.52,590.25 743.26,590.79 743.99,591.39 744.69,592.02 745.35,592.72 746,593.49 746.66,594.29 746.66,594.29" fill="none" stroke="#7fb9da" stroke-width="4.2" stroke-linejoin="round"/>
<path d="M123.8,600 123.8,596.8 123.79,593.6 123.78,590.4 123.76,587.2 123.75,584 123.75,580.8 123.75,577.6 123.75,574.4 123.77,571.2 123.8,568 123.82,566.83 123.84,565.66 123.88,564.49 123.92,563.32 123.96,562.15 124.02,560.98 124.08,559.81 124.15,558.64 124.22,557.47 124.3,556.3 124.35,555.65 124.41,554.99 124.47,554.34 124.54,553.69 124.61,553.04 124.69,552.39 124.78,551.74 124.88,551.09 124.99,550.44 125.1,549.8 125.18,549.4 125.26,549 125.35,548.61 125.44,548.21 125.55,547.82 125.66,547.42 125.78,547.04 125.91,546.65 126.05,546.27 126.2,545.9 126.34,545.58 126.48,545.26 126.64,544.94 126.8,544.62 126.97,544.31 127.15,544 127.35,543.71 127.55,543.42 127.77,543.15 128,542.9 128.25,542.65 128.52,542.4 128.8,542.17 129.09,541.94 129.39,541.72 129.7,541.52 130.01,541.34 130.34,541.17 130.67,541.02 131,540.9 131.57,540.73 132.16,540.59 132.75,540.47 133.35,540.37 133.96,540.29 134.57,540.22 135.18,540.14 135.79,540.07 136.4,539.99 137,539.89 139.51,539.88 142.01,539.86 144.52,539.84 147.03,539.83 149.54,539.82 152.04,539.8 154.55,539.79 157.06,539.78 159.57,539.77 162.07,539.76 164.58,539.75 167.09,539.75 169.6,539.74 172.11,539.73 174.62,539.72 177.12,539.71 179.63,539.7 182.14,539.69 184.65,539.68 187.16,539.66 189.67,539.65 192.17,539.64 194.68,539.62 197.19,539.6 199.7,539.58 202.21,539.56 204.71,539.54 207.22,539.52 209.73,539.49 212.24,539.46 214.74,539.43 217.25,539.39 219.76,539.36 222.26,539.32 224.77,539.28 227.28,539.23 229.78,539.18 232.29,539.13 234.79,539.07 237.3,539.01 239.81,538.95 242.31,538.88 244.81,538.81 247.32,538.73 249.82,538.65 252.33,538.57 254.83,538.48 257.33,538.39 259.84,538.29 262.34,538.18 264.84,538.08 267.34,537.96 269.84,537.84 272.35,537.72 274.85,537.58 277.35,537.45 279.85,537.3 282.35,537.15 284.84,537 287.34,536.84 289.84,536.67 292.34,536.49 294.84,536.31 297.33,536.12 299.83,535.93 302.32,535.72 304.82,535.51 307.31,535.3 309.81,535.07 312.3,534.84 314.79,534.61 317.29,534.37 319.78,534.12 322.27,533.87 324.76,533.62 327.26,533.36 329.75,533.1 332.24,532.84 334.73,532.57 337.22,532.3 339.71,532.03 342.2,531.75 344.69,531.48 347.18,531.2 349.67,530.92 352.16,530.65 354.65,530.37 357.14,530.09 359.63,529.81 362.13,529.53 364.62,529.26 367.11,528.98 369.6,528.71 372.09,528.44 374.58,528.17 377.07,527.9 379.56,527.64 382.05,527.38 384.55,527.13 387.04,526.88 389.53,526.63 392.02,526.39 394.52,526.15 397.01,525.92 399.51,525.69 402,525.48 404.5,525.26 406.99,525.06 409.49,524.86 411.98,524.67 414.48,524.48 416.98,524.31 419.48,524.14 421.98,523.98 424.48,523.83 426.98,523.69 429.48,523.56 431.98,523.43 434.48,523.31 436.99,523.2 439.49,523.09 441.99,522.98 444.5,522.88 447,522.79 449.51,522.7 452.01,522.61 454.52,522.53 457.02,522.44 459.53,522.36 462.03,522.28 464.54,522.2 467.04,522.12 469.55,522.04 472.06,521.97 474.56,521.88 477.07,521.8 479.58,521.72 482.08,521.63 484.59,521.54 487.1,521.45 489.6,521.35 492.11,521.25 494.61,521.14 497.12,521.03 499.62,520.91 502.13,520.79 504.63,520.66 507.14,520.52 509.64,520.37 512.15,520.22 514.65,520.05 517.15,519.88 519.65,519.7 522.16,519.5 524.66,519.3 527.16,519.08 529.66,518.86 532.16,518.62 534.66,518.37 537.15,518.1 539.65,517.82 542.15,517.53 544.64,517.22 547.14,516.9 549.63,516.57 552.12,516.22 554.61,515.85 557.1,515.47 559.59,515.08 562.07,514.67 564.55,514.24 567.03,513.8 569.5,513.35 571.97,512.87 574.44,512.39 576.9,511.88 579.36,511.36 581.81,510.83 584.26,510.28 586.71,509.71 589.15,509.12 591.58,508.52 594.01,507.9 596.43,507.27 598.85,506.62 601.26,505.95 603.67,505.26 606.06,504.56 608.46,503.84 610.84,503.1 613.22,502.34 615.58,501.56 617.95,500.77 620.3,499.96 622.64,499.13 624.98,498.28 627.31,497.42 629.64,496.55 631.96,495.67 634.29,494.8 636.63,493.94 638.98,493.09 641.35,492.27 643.73,491.47 646.14,490.71 648.57,489.99 651.03,489.31 653.51,488.66 656.01,488.03 658.5,487.4 660.99,486.76 663.44,486.07 665.84,485.31 668.17,484.45 670.4,483.47 672.52,482.34 674.5,481.04 676.33,479.55 678.02,477.88 679.58,476.05 681.03,474.09 682.38,472.03 683.66,469.88 684.88,467.67 686.06,465.42 687.2,463.16 688.31,460.89 689.4,458.61 690.46,456.32 691.5,454.02 692.51,451.71 693.5,449.4 694.46,447.07 695.4,444.74 696.32,442.4 697.21,440.05 698.09,437.7 698.94,435.34 699.77,432.97 700.58,430.59 701.37,428.21 702.14,425.82 702.9,423.43 703.63,421.03 704.35,418.63 705.05,416.22 705.73,413.8 706.4,411.38 707.05,408.96 707.69,406.53 708.31,404.1 708.92,401.67 709.52,399.23 710.1,396.79 710.67,394.34 711.23,391.9 711.78,389.45 712.31,387 712.84,384.54 713.36,382.09 713.86,379.63 714.36,377.17 714.85,374.71 715.34,372.25 715.81,369.79 716.28,367.33 716.73,364.87 717.18,362.4 717.62,359.94 718.06,357.47 718.48,355 718.9,352.53 719.31,350.06 719.71,347.59 720.11,345.12 720.49,342.65 720.87,340.17 721.25,337.7 721.61,335.22 721.97,332.74 722.32,330.27 722.67,327.79 723,325.31 723.33,322.83 723.66,320.34 723.97,317.86 724.28,315.38 724.59,312.89 724.89,310.41 725.18,307.92 725.46,305.44 725.74,302.95 726.01,300.46 726.28,297.97 726.54,295.48 726.8,292.99 727.04,290.5 727.29,288.01 727.53,285.51 727.76,283.02 727.99,280.53 728.21,278.03 728.42,275.54 728.63,273.04 728.84,270.54 729.04,268.05 729.24,265.55 729.43,263.05 729.62,260.55 729.8,258.05 729.97,255.55 730.15,253.05 730.32,250.55 730.48,248.05 730.64,245.54 730.8,243.04 730.95,240.54 731.09,238.03 731.24,235.53 731.38,233.03 731.51,230.52 731.64,228.02 731.77,225.51 731.9,223 732.02,220.5 732.14,217.99 732.25,215.48 732.36,212.98 732.47,210.47 732.58,207.96 732.68,205.45 732.78,202.94 732.88,200.44 732.97,197.93 733.06,195.42 733.15,192.91 733.24,190.4 733.32,187.89 733.4,185.38 733.48,182.87 733.56,180.36 733.64,177.85 733.71,175.34 733.78,172.83 733.85,170.32 733.92,167.81 733.98,165.3 734.05,162.79 734.11,160.28 734.17,157.77 734.23,155.25 734.29,152.74 734.35,150.23 734.41,147.72 734.46,145.21 734.52,142.7 734.57,140.19 734.63,137.68 734.68,135.17 734.73,132.66 734.78,130.15 734.84,127.64 734.89,125.13 734.94,122.62 734.99,120.11 735.04,117.6 735.09,115.1 735.14,112.59 735.19,110.08 735.24,107.57 735.29,105.06 735.35,102.56 735.4,100.05 735.45,97.54 735.5,95.03 735.56,92.53 735.61,90.02 735.67,87.52 735.73,85.01 735.78,82.51 735.84,80 735.9,77.5 735.96,75 736.03,72.49 736.09,69.99 736.16,67.49 736.23,64.99 736.3,62.49 736.37,59.99 736.44,57.49 736.51,54.99 736.59,52.49 736.67,49.99 736.75,47.49 736.84,45 736.92,42.5 737.01,40" fill="none" stroke="#fb7a5a" stroke-width="4.2" stroke-linejoin="round"/>
<path d="M124.29,70 124.36,72.5 124.42,75.01 124.48,77.51 124.54,80.02 124.6,82.52 124.65,85.03 124.7,87.53 124.75,90.04 124.79,92.55 124.84,95.05 124.88,97.56 124.92,100.07 124.95,102.58 124.99,105.09 125.02,107.59 125.05,110.1 125.08,112.61 125.11,115.12 125.14,117.63 125.16,120.14 125.19,122.66 125.21,125.17 125.23,127.68 125.25,130.19 125.27,132.7 125.29,135.21 125.31,137.73 125.32,140.24 125.34,142.75 125.35,145.26 125.37,147.78 125.38,150.29 125.4,152.81 125.41,155.32 125.42,157.83 125.43,160.35 125.45,162.86 125.46,165.38 125.47,167.89 125.48,170.41 125.5,172.92 125.51,175.43 125.52,177.95 125.54,180.46 125.55,182.98 125.57,185.49 125.58,188.01 125.6,190.53 125.62,193.04 125.64,195.56 125.66,198.07 125.68,200.59 125.7,203.1 125.72,205.62 125.75,208.13 125.77,210.65 125.8,213.16 125.83,215.68 125.86,218.19 125.89,220.71 125.93,223.22 125.96,225.74 126,228.25 126.04,230.76 126.08,233.28 126.13,235.79 126.18,238.31 126.22,240.82 126.28,243.33 126.33,245.85 126.39,248.36 126.45,250.87 126.51,253.39 126.58,255.9 126.64,258.41 126.71,260.92 126.79,263.43 126.87,265.95 126.95,268.46 127.03,270.97 127.12,273.48 127.21,275.99 127.31,278.5 127.4,281.01 127.51,283.52 127.61,286.03 127.72,288.54 127.84,291.05 127.95,293.55 128.08,296.06 128.2,298.57 128.33,301.08 128.47,303.58 128.61,306.09 128.75,308.59 128.9,311.1 129.06,313.6 129.22,316.11 129.38,318.61 129.55,321.11 129.72,323.62 129.9,326.12 130.08,328.62 130.27,331.12 130.47,333.62 130.67,336.12 130.87,338.62 131.08,341.12 131.3,343.62 131.52,346.12 131.75,348.62 131.98,351.11 132.22,353.61 132.47,356.11 132.72,358.6 132.98,361.09 133.25,363.59 133.52,366.08 133.8,368.57 134.08,371.07 134.37,373.56 134.67,376.05 134.97,378.54 135.29,381.03 135.6,383.51 135.93,386 136.26,388.49 136.6,390.97 136.95,393.46 137.31,395.94 137.67,398.43 138.04,400.91 138.41,403.39 138.8,405.87 139.19,408.35 139.59,410.83 140,413.31 140.42,415.79 140.84,418.27 141.28,420.74 141.72,423.22 142.17,425.69 142.62,428.17 143.09,430.64 143.57,433.11 144.05,435.58 144.54,438.05 145.04,440.52 145.55,442.99 146.07,445.46 146.6,447.92 147.14,450.39 147.69,452.85 148.26,455.3 148.84,457.76 149.43,460.21 150.04,462.65 150.67,465.09 151.32,467.52 152,469.95 152.69,472.37 153.41,474.77 154.15,477.17 154.92,479.56 155.71,481.94 156.54,484.31 157.39,486.66 158.28,489.01 159.19,491.34 160.15,493.65 161.14,495.94 162.23,498.14 163.5,500.17 165,501.93 166.82,503.35 169,504.35 171.46,505.02 174.1,505.46 176.8,505.78 179.46,506.09 182.07,506.41 184.64,506.72 187.17,507.03 189.68,507.33 192.17,507.65 194.63,508.02 197.05,508.48 199.43,509.09 201.76,509.86 204.05,510.79 206.31,511.86 208.53,513.04 210.74,514.31 212.93,515.63 215.11,517 217.29,518.37 219.47,519.73 221.67,521.05 223.88,522.33 226.11,523.57 228.34,524.76 230.59,525.91 232.86,527.02 235.13,528.1 237.42,529.13 239.71,530.13 242.02,531.09 244.34,532.01 246.67,532.89 249.02,533.74 251.37,534.56 253.73,535.34 256.1,536.09 258.48,536.81 260.87,537.49 263.27,538.15 265.67,538.77 268.09,539.37 270.51,539.93 272.94,540.47 275.38,540.98 277.82,541.47 280.27,541.93 282.73,542.36 285.19,542.77 287.66,543.16 290.13,543.52 292.61,543.86 295.1,544.18 297.59,544.48 300.08,544.76 302.58,545.02 305.08,545.26 307.59,545.49 310.1,545.7 312.61,545.89 315.12,546.07 317.64,546.23 320.16,546.37 322.68,546.51 325.2,546.63 327.72,546.74 330.25,546.84 332.77,546.93 335.3,547.01 337.83,547.08 340.35,547.14 342.88,547.19 345.4,547.24 347.93,547.28 350.45,547.32 352.97,547.36 355.5,547.38 358.02,547.41 360.54,547.44 363.06,547.46 365.58,547.48 368.1,547.51 370.62,547.53 373.14,547.56 375.65,547.58 378.17,547.62 380.68,547.65 383.2,547.69 385.71,547.74 388.22,547.79 390.73,547.85 393.24,547.92 395.75,548 398.26,548.09 400.76,548.18 403.27,548.29 405.77,548.41 408.27,548.54 410.77,548.69 413.27,548.84 415.76,549.02 418.26,549.21 420.75,549.41 423.24,549.64 425.73,549.88 428.22,550.14 430.71,550.42 433.19,550.72 435.67,551.04 438.15,551.38 440.63,551.74 443.11,552.13 445.58,552.54 448.06,552.96 450.53,553.4 453,553.85 455.47,554.31 457.94,554.78 460.41,555.26 462.88,555.74 465.35,556.22 467.81,556.7 470.28,557.17 472.75,557.64 475.22,558.1 477.7,558.55 480.17,558.99 482.64,559.41 485.12,559.81 487.59,560.19 490.07,560.54 492.55,560.88 495.04,561.19 497.52,561.47 500.01,561.73 502.5,561.98 504.99,562.2 507.49,562.4 509.98,562.59 512.48,562.75 514.97,562.91 517.47,563.04 519.98,563.17 522.48,563.28 524.98,563.38 527.49,563.47 529.99,563.55 532.5,563.62 535.01,563.69 537.51,563.75 540.02,563.8 542.53,563.85 545.04,563.9 547.56,563.95 550.07,563.99 552.58,564.04 555.09,564.09 557.61,564.14 560.12,564.19 562.63,564.25 565.15,564.31 567.66,564.38 570.17,564.46 572.69,564.54 575.2,564.62 577.71,564.71 580.23,564.81 582.74,564.91 585.25,565.02 587.76,565.14 590.27,565.26 592.79,565.39 595.3,565.53 597.81,565.67 600.32,565.82 602.83,565.98 605.33,566.15 607.84,566.32 610.35,566.5 612.85,566.69 615.36,566.89 617.86,567.1 620.36,567.31 622.87,567.54 625.37,567.77 627.87,568.02 630.36,568.27 632.86,568.53 635.36,568.8 637.85,569.08 640.34,569.38 642.84,569.68 645.32,569.99 647.81,570.31 650.3,570.65 652.79,570.99 655.27,571.35 657.75,571.72 660.23,572.1 662.71,572.49 665.18,572.89 667.66,573.3 670.13,573.72 672.6,574.15 675.07,574.59 677.54,575.04 680.01,575.49 682.48,575.96 684.95,576.42 687.41,576.9 689.88,577.38 692.34,577.86 694.81,578.35 697.27,578.84 699.74,579.34 702.2,579.83 704.67,580.33 707.13,580.83 709.6,581.33 712.06,581.83 714.53,582.33 717,582.83 719.47,583.33 721.94,583.82 724.41,584.31 726.88,584.8 729.35,585.28 731.82,585.78 734.27,586.33 736.66,587 738.97,587.83 741.19,588.9 743.28,590.24 745.23,591.93 747,594" fill="none" stroke="#b7d4ea" stroke-width="4.2" stroke-linejoin="round"/>
<path d="M123.8,600 123.8,599.2 123.79,598.4 123.77,597.6 123.76,596.8 123.74,596 123.73,595.2 123.73,594.4 123.74,593.6 123.76,592.8 123.8,592 123.84,591.4 123.91,590.8 123.98,590.2 124.07,589.6 124.16,589 124.25,588.4 124.35,587.8 124.44,587.2 124.53,586.6 124.6,586 124.71,585 124.82,584 124.93,583 125.04,582 125.15,581 125.25,580 125.34,579 125.44,578 125.52,577 125.6,576 125.67,575 125.73,574 125.78,573 125.83,572 125.87,571 125.91,570 125.95,569 126,568 126.04,567 126.1,566 126.15,565.15 126.2,564.3 126.25,563.45 126.29,562.6 126.35,561.74 126.4,560.89 126.47,560.04 126.53,559.2 126.61,558.35 126.7,557.5 126.78,556.8 126.86,556.09 126.94,555.38 127.03,554.68 127.13,553.97 127.24,553.27 127.36,552.57 127.49,551.88 127.64,551.19 127.8,550.5 127.92,550.03 128.06,549.56 128.21,549.1 128.37,548.64 128.54,548.18 128.73,547.72 128.92,547.28 129.14,546.84 129.36,546.41 129.6,546 129.8,545.68 130.02,545.36 130.25,545.05 130.49,544.74 130.75,544.45 131.02,544.16 131.3,543.9 131.59,543.64 131.89,543.41 132.2,543.2 132.64,542.95 133.09,542.72 133.56,542.51 134.04,542.32 134.53,542.15 135.03,541.98 135.53,541.82 136.02,541.65 136.52,541.48 137,541.29 139.5,541.17 142.01,541.05 144.52,540.95 147.02,540.85 149.53,540.75 152.04,540.67 154.54,540.59 157.05,540.51 159.56,540.44 162.07,540.38 164.58,540.32 167.09,540.27 169.6,540.22 172.11,540.17 174.62,540.13 177.13,540.09 179.64,540.06 182.15,540.03 184.66,540 187.18,539.97 189.69,539.95 192.2,539.93 194.71,539.91 197.23,539.89 199.74,539.87 202.25,539.86 204.76,539.84 207.28,539.82 209.79,539.81 212.3,539.79 214.81,539.78 217.33,539.76 219.84,539.74 222.35,539.73 224.86,539.7 227.38,539.68 229.89,539.66 232.4,539.63 234.91,539.6 237.42,539.57 239.93,539.53 242.44,539.5 244.96,539.45 247.47,539.41 249.98,539.36 252.49,539.3 255,539.24 257.51,539.17 260.01,539.1 262.52,539.03 265.03,538.95 267.54,538.86 270.05,538.76 272.55,538.66 275.06,538.55 277.57,538.44 280.07,538.31 282.58,538.18 285.08,538.04 287.58,537.89 290.09,537.74 292.59,537.57 295.09,537.4 297.59,537.21 300.09,537.02 302.59,536.82 305.09,536.6 307.59,536.38 310.09,536.14 312.58,535.89 315.08,535.64 317.57,535.37 320.07,535.08 322.56,534.79 325.06,534.49 327.55,534.17 330.04,533.85 332.53,533.52 335.02,533.18 337.51,532.84 340,532.49 342.49,532.14 344.98,531.79 347.47,531.44 349.96,531.09 352.45,530.74 354.93,530.39 357.42,530.05 359.91,529.71 362.4,529.37 364.89,529.05 367.38,528.73 369.87,528.42 372.36,528.12 374.85,527.84 377.35,527.56 379.84,527.31 382.33,527.06 384.83,526.83 387.32,526.62 389.82,526.41 392.32,526.22 394.82,526.05 397.31,525.88 399.81,525.72 402.31,525.58 404.82,525.44 407.32,525.32 409.82,525.2 412.32,525.09 414.83,524.98 417.33,524.88 419.84,524.79 422.35,524.7 424.85,524.62 427.36,524.54 429.87,524.46 432.38,524.39 434.89,524.32 437.4,524.25 439.92,524.18 442.43,524.11 444.94,524.03 447.46,523.96 449.97,523.89 452.49,523.82 455,523.74 457.52,523.66 460.04,523.58 462.55,523.5 465.07,523.41 467.59,523.33 470.1,523.23 472.62,523.14 475.14,523.04 477.66,522.93 480.17,522.82 482.69,522.71 485.2,522.59 487.72,522.47 490.23,522.34 492.75,522.2 495.26,522.06 497.77,521.91 500.28,521.75 502.79,521.59 505.3,521.41 507.81,521.23 510.32,521.05 512.82,520.85 515.33,520.64 517.83,520.43 520.33,520.21 522.83,519.97 525.33,519.73 527.82,519.47 530.32,519.21 532.81,518.93 535.3,518.64 537.79,518.35 540.28,518.04 542.76,517.71 545.25,517.38 547.73,517.03 550.21,516.67 552.68,516.29 555.15,515.91 557.63,515.5 560.09,515.09 562.56,514.66 565.02,514.21 567.48,513.75 569.94,513.28 572.39,512.79 574.84,512.29 577.29,511.77 579.74,511.25 582.18,510.7 584.62,510.15 587.06,509.58 589.5,509 591.93,508.41 594.36,507.8 596.79,507.18 599.21,506.55 601.63,505.91 604.05,505.26 606.47,504.59 608.88,503.91 611.29,503.22 613.7,502.52 616.11,501.81 618.51,501.09 620.91,500.36 623.31,499.61 625.7,498.86 628.09,498.09 630.48,497.32 632.87,496.53 635.25,495.74 637.63,494.94 640.01,494.12 642.38,493.3 644.76,492.47 647.13,491.65 649.52,490.83 651.91,490.03 654.3,489.25 656.71,488.49 659.14,487.76 661.58,487.07 664.04,486.43 666.52,485.82 669,485.24 671.45,484.63 673.85,483.97 676.18,483.22 678.41,482.34 680.51,481.3 682.47,480.07 684.25,478.61 685.89,476.95 687.39,475.12 688.76,473.13 690.04,471.03 691.24,468.82 692.37,466.55 693.45,464.24 694.51,461.91 695.54,459.57 696.55,457.23 697.54,454.89 698.5,452.53 699.45,450.18 700.37,447.82 701.27,445.45 702.16,443.08 703.02,440.7 703.87,438.32 704.69,435.93 705.5,433.54 706.29,431.15 707.07,428.75 707.82,426.35 708.56,423.94 709.29,421.53 709.99,419.12 710.69,416.7 711.36,414.28 712.03,411.86 712.68,409.43 713.31,407 713.93,404.57 714.54,402.14 715.14,399.7 715.72,397.26 716.29,394.82 716.86,392.37 717.41,389.93 717.95,387.48 718.47,385.03 718.99,382.58 719.51,380.12 720.01,377.67 720.5,375.21 720.99,372.75 721.46,370.29 721.93,367.83 722.39,365.37 722.84,362.91 723.28,360.44 723.72,357.98 724.14,355.51 724.56,353.04 724.97,350.57 725.37,348.1 725.77,345.63 726.16,343.15 726.54,340.68 726.91,338.2 727.27,335.73 727.63,333.25 727.98,330.77 728.32,328.29 728.66,325.81 728.99,323.32 729.31,320.84 729.63,318.36 729.94,315.87 730.24,313.38 730.53,310.89 730.82,308.41 731.11,305.92 731.38,303.43 731.65,300.93 731.92,298.44 732.18,295.95 732.43,293.45 732.67,290.96 732.92,288.46 733.15,285.97 733.38,283.47 733.6,280.97 733.82,278.47 734.03,275.97 734.24,273.47 734.44,270.97 734.64,268.47 734.83,265.96 735.02,263.46 735.2,260.96 735.38,258.45 735.55,255.94 735.72,253.44 735.89,250.93 736.05,248.42 736.2,245.92 736.35,243.41 736.5,240.9 736.64,238.39 736.78,235.88 736.91,233.37 737.05,230.86 737.17,228.35 737.3,225.84 737.42,223.33 737.53,220.81 737.64,218.3 737.75,215.79 737.86,213.27 737.96,210.76 738.06,208.25 738.16,205.73 738.25,203.22 738.34,200.7 738.43,198.19 738.52,195.67 738.6,193.16 738.68,190.64 738.76,188.12 738.84,185.61 738.91,183.09 738.98,180.58 739.05,178.06 739.12,175.54 739.18,173.03 739.25,170.51 739.31,167.99 739.37,165.48 739.43,162.96 739.48,160.44 739.54,157.93 739.59,155.41 739.65,152.89 739.7,150.38 739.75,147.86 739.8,145.35 739.85,142.83 739.9,140.31 739.94,137.8 739.99,135.28 740.04,132.77 740.08,130.25 740.13,127.74 740.17,125.22 740.22,122.71 740.26,120.2 740.31,117.68 740.35,115.17 740.4,112.66 740.44,110.14 740.49,107.63 740.53,105.12 740.58,102.61 740.62,100.1 740.67,97.59 740.72,95.08 740.77,92.57 740.82,90.06 740.87,87.55 740.92,85.04 740.97,82.53 741.03,80.03 741.08,77.52 741.14,75.01 741.19,72.51 741.25,70 741.31,67.5 741.38,65 741.44,62.49 741.51,59.99 741.58,57.49 741.65,54.99 741.72,52.49 741.79,49.99 741.87,47.49 741.95,45 742.03,42.5 742.12,40.01" fill="none" stroke="#fcab8f" stroke-width="4.2" stroke-linejoin="round"/>
</g>
<line x1="108.1" y1="593" x2="124.3" y2="593" stroke="#000" stroke-width="3.4"/>
<text transform="translate(92.1,604.4) scale(1,1.04)" text-anchor="end" font-size="32" font-weight="normal">0.0</text>
<line x1="115.1" y1="570.27" x2="124.3" y2="570.27" stroke="#000" stroke-width="2.5"/>
<line x1="115.1" y1="547.53" x2="124.3" y2="547.53" stroke="#000" stroke-width="2.5"/>
<line x1="115.1" y1="524.8" x2="124.3" y2="524.8" stroke="#000" stroke-width="2.5"/>
<line x1="108.1" y1="502.07" x2="124.3" y2="502.07" stroke="#000" stroke-width="3.4"/>
<text transform="translate(92.1,513.47) scale(1,1.04)" text-anchor="end" font-size="32" font-weight="normal">0.2</text>
<line x1="115.1" y1="479.33" x2="124.3" y2="479.33" stroke="#000" stroke-width="2.5"/>
<line x1="115.1" y1="456.6" x2="124.3" y2="456.6" stroke="#000" stroke-width="2.5"/>
<line x1="115.1" y1="433.87" x2="124.3" y2="433.87" stroke="#000" stroke-width="2.5"/>
<line x1="108.1" y1="411.13" x2="124.3" y2="411.13" stroke="#000" stroke-width="3.4"/>
<text transform="translate(92.1,422.53) scale(1,1.04)" text-anchor="end" font-size="32" font-weight="normal">0.4</text>
<line x1="115.1" y1="388.4" x2="124.3" y2="388.4" stroke="#000" stroke-width="2.5"/>
<line x1="115.1" y1="365.67" x2="124.3" y2="365.67" stroke="#000" stroke-width="2.5"/>
<line x1="115.1" y1="342.93" x2="124.3" y2="342.93" stroke="#000" stroke-width="2.5"/>
<line x1="108.1" y1="320.2" x2="124.3" y2="320.2" stroke="#000" stroke-width="3.4"/>
<text transform="translate(92.1,331.6) scale(1,1.04)" text-anchor="end" font-size="32" font-weight="normal">0.6</text>
<line x1="115.1" y1="297.47" x2="124.3" y2="297.47" stroke="#000" stroke-width="2.5"/>
<line x1="115.1" y1="274.73" x2="124.3" y2="274.73" stroke="#000" stroke-width="2.5"/>
<line x1="115.1" y1="252" x2="124.3" y2="252" stroke="#000" stroke-width="2.5"/>
<line x1="108.1" y1="229.27" x2="124.3" y2="229.27" stroke="#000" stroke-width="3.4"/>
<text transform="translate(92.1,240.67) scale(1,1.04)" text-anchor="end" font-size="32" font-weight="normal">0.8</text>
<line x1="115.1" y1="206.53" x2="124.3" y2="206.53" stroke="#000" stroke-width="2.5"/>
<line x1="115.1" y1="183.8" x2="124.3" y2="183.8" stroke="#000" stroke-width="2.5"/>
<line x1="115.1" y1="161.07" x2="124.3" y2="161.07" stroke="#000" stroke-width="2.5"/>
<line x1="108.1" y1="138.33" x2="124.3" y2="138.33" stroke="#000" stroke-width="3.4"/>
<path transform="translate(47.62,149.73) scale(0.015625,-0.016250)" d="M560,0L760,0L760,1415L645,1415L200,1031L200,877L560,1077Z"/><text transform="translate(65.41,149.73) scale(1,1.04)" text-anchor="start" font-size="32" font-weight="normal">.0</text>
<line x1="115.1" y1="115.6" x2="124.3" y2="115.6" stroke="#000" stroke-width="2.5"/>
<line x1="115.1" y1="92.87" x2="124.3" y2="92.87" stroke="#000" stroke-width="2.5"/>
<line x1="115.1" y1="70.13" x2="124.3" y2="70.13" stroke="#000" stroke-width="2.5"/>
<line x1="108.1" y1="47.4" x2="124.3" y2="47.4" stroke="#000" stroke-width="3.4"/>
<path transform="translate(47.62,58.8) scale(0.015625,-0.016250)" d="M560,0L760,0L760,1415L645,1415L200,1031L200,877L560,1077Z"/><text transform="translate(65.41,58.8) scale(1,1.04)" text-anchor="start" font-size="32" font-weight="normal">.2</text>
<line x1="124.3" y1="593" x2="124.3" y2="609.2" stroke="#000" stroke-width="3.4"/>
<text transform="translate(124.3,648) scale(1,1.04)" text-anchor="middle" font-size="32" font-weight="normal">0</text>
<line x1="145.08" y1="593" x2="145.08" y2="602.2" stroke="#000" stroke-width="2.5"/>
<line x1="165.87" y1="593" x2="165.87" y2="602.2" stroke="#000" stroke-width="2.5"/>
<line x1="186.65" y1="593" x2="186.65" y2="602.2" stroke="#000" stroke-width="2.5"/>
<line x1="207.43" y1="593" x2="207.43" y2="602.2" stroke="#000" stroke-width="2.5"/>
<line x1="228.22" y1="593" x2="228.22" y2="609.2" stroke="#000" stroke-width="3.4"/>
<text transform="translate(228.22,648) scale(1,1.04)" text-anchor="middle" font-size="32" font-weight="normal">50</text>
<line x1="249" y1="593" x2="249" y2="602.2" stroke="#000" stroke-width="2.5"/>
<line x1="269.78" y1="593" x2="269.78" y2="602.2" stroke="#000" stroke-width="2.5"/>
<line x1="290.57" y1="593" x2="290.57" y2="602.2" stroke="#000" stroke-width="2.5"/>
<line x1="311.35" y1="593" x2="311.35" y2="602.2" stroke="#000" stroke-width="2.5"/>
<line x1="332.13" y1="593" x2="332.13" y2="609.2" stroke="#000" stroke-width="3.4"/>
<path transform="translate(305.44,648) scale(0.015625,-0.016250)" d="M560,0L760,0L760,1415L645,1415L200,1031L200,877L560,1077Z"/><text transform="translate(323.23,648) scale(1,1.04)" text-anchor="start" font-size="32" font-weight="normal">00</text>
<line x1="352.92" y1="593" x2="352.92" y2="602.2" stroke="#000" stroke-width="2.5"/>
<line x1="373.7" y1="593" x2="373.7" y2="602.2" stroke="#000" stroke-width="2.5"/>
<line x1="394.48" y1="593" x2="394.48" y2="602.2" stroke="#000" stroke-width="2.5"/>
<line x1="415.27" y1="593" x2="415.27" y2="602.2" stroke="#000" stroke-width="2.5"/>
<line x1="436.05" y1="593" x2="436.05" y2="609.2" stroke="#000" stroke-width="3.4"/>
<path transform="translate(409.35,648) scale(0.015625,-0.016250)" d="M560,0L760,0L760,1415L645,1415L200,1031L200,877L560,1077Z"/><text transform="translate(427.15,648) scale(1,1.04)" text-anchor="start" font-size="32" font-weight="normal">50</text>
<line x1="456.83" y1="593" x2="456.83" y2="602.2" stroke="#000" stroke-width="2.5"/>
<line x1="477.62" y1="593" x2="477.62" y2="602.2" stroke="#000" stroke-width="2.5"/>
<line x1="498.4" y1="593" x2="498.4" y2="602.2" stroke="#000" stroke-width="2.5"/>
<line x1="519.18" y1="593" x2="519.18" y2="602.2" stroke="#000" stroke-width="2.5"/>
<line x1="539.97" y1="593" x2="539.97" y2="609.2" stroke="#000" stroke-width="3.4"/>
<text transform="translate(539.97,648) scale(1,1.04)" text-anchor="middle" font-size="32" font-weight="normal">200</text>
<line x1="560.75" y1="593" x2="560.75" y2="602.2" stroke="#000" stroke-width="2.5"/>
<line x1="581.53" y1="593" x2="581.53" y2="602.2" stroke="#000" stroke-width="2.5"/>
<line x1="602.32" y1="593" x2="602.32" y2="602.2" stroke="#000" stroke-width="2.5"/>
<line x1="623.1" y1="593" x2="623.1" y2="602.2" stroke="#000" stroke-width="2.5"/>
<line x1="643.88" y1="593" x2="643.88" y2="609.2" stroke="#000" stroke-width="3.4"/>
<text transform="translate(643.88,648) scale(1,1.04)" text-anchor="middle" font-size="32" font-weight="normal">250</text>
<line x1="664.67" y1="593" x2="664.67" y2="602.2" stroke="#000" stroke-width="2.5"/>
<line x1="685.45" y1="593" x2="685.45" y2="602.2" stroke="#000" stroke-width="2.5"/>
<line x1="706.23" y1="593" x2="706.23" y2="602.2" stroke="#000" stroke-width="2.5"/>
<line x1="727.02" y1="593" x2="727.02" y2="602.2" stroke="#000" stroke-width="2.5"/>
<line x1="747.8" y1="593" x2="747.8" y2="609.2" stroke="#000" stroke-width="3.4"/>
<text transform="translate(747.8,648) scale(1,1.04)" text-anchor="middle" font-size="32" font-weight="normal">300</text>
<line x1="768.58" y1="593" x2="768.58" y2="602.2" stroke="#000" stroke-width="2.5"/>
<line x1="789.37" y1="593" x2="789.37" y2="602.2" stroke="#000" stroke-width="2.5"/>
<line x1="810.15" y1="593" x2="810.15" y2="602.2" stroke="#000" stroke-width="2.5"/>
<line x1="830.93" y1="593" x2="830.93" y2="602.2" stroke="#000" stroke-width="2.5"/>
<line x1="851.72" y1="593" x2="851.72" y2="609.2" stroke="#000" stroke-width="3.4"/>
<text transform="translate(851.72,648) scale(1,1.04)" text-anchor="middle" font-size="32" font-weight="normal">350</text>
<line x1="872.5" y1="593" x2="872.5" y2="602.2" stroke="#000" stroke-width="2.5"/>
<line x1="893.28" y1="593" x2="893.28" y2="602.2" stroke="#000" stroke-width="2.5"/>
<line x1="914.07" y1="593" x2="914.07" y2="602.2" stroke="#000" stroke-width="2.5"/>
<line x1="934.85" y1="593" x2="934.85" y2="602.2" stroke="#000" stroke-width="2.5"/>
<line x1="955.63" y1="593" x2="955.63" y2="609.2" stroke="#000" stroke-width="3.4"/>
<text transform="translate(955.63,648) scale(1,1.04)" text-anchor="middle" font-size="32" font-weight="normal">400</text>
<line x1="976.42" y1="593" x2="976.42" y2="602.2" stroke="#000" stroke-width="2.5"/>
<line x1="997.2" y1="593" x2="997.2" y2="602.2" stroke="#000" stroke-width="2.5"/>
<rect x="124.3" y="47.4" width="872.9" height="545.6" fill="none" stroke="#000" stroke-width="3.4" stroke-linejoin="miter"/>
<text transform="translate(23.3,320.2) rotate(-90) scale(1,1.04)" text-anchor="middle" font-size="32">Voltage (V)</text>
<text transform="translate(421.5,710.4) scale(1,1.04)" text-anchor="start" font-size="32" font-weight="normal">Capacity (mAh g</text>
<text transform="translate(657.5,688.2) scale(1,1.04)" text-anchor="start" font-size="22.4" font-weight="normal">−</text><path transform="translate(670.58,688.2) scale(0.010937,-0.011375)" d="M560,0L760,0L760,1415L645,1415L200,1031L200,877L560,1077Z"/>
<text transform="translate(685.5,710.4) scale(1,1.04)" text-anchor="start" font-size="32" font-weight="normal">)</text>
<line x1="770.9" y1="83.5" x2="839" y2="83.5" stroke="#084a91" stroke-width="4.2"/>
<line x1="770.9" y1="92.5" x2="839" y2="92.5" stroke="#980c13" stroke-width="4.2"/>
<text transform="translate(861.8,99.5) scale(1,1.04)" text-anchor="start" font-size="32" font-weight="normal">Cycle </text><path transform="translate(950.71,99.5) scale(0.015625,-0.016250)" d="M560,0L760,0L760,1415L645,1415L200,1031L200,877L560,1077Z"/>
<line x1="770.9" y1="129.45" x2="839" y2="129.45" stroke="#2070b4" stroke-width="4.2"/>
<line x1="770.9" y1="138.45" x2="839" y2="138.45" stroke="#ca181d" stroke-width="4.2"/>
<text transform="translate(861.8,145.45) scale(1,1.04)" text-anchor="start" font-size="32" font-weight="normal">Cycle 2</text>
<line x1="770.9" y1="175.4" x2="839" y2="175.4" stroke="#4a98c9" stroke-width="4.2"/>
<line x1="770.9" y1="184.4" x2="839" y2="184.4" stroke="#f14432" stroke-width="4.2"/>
<text transform="translate(861.8,191.4) scale(1,1.04)" text-anchor="start" font-size="32" font-weight="normal">Cycle 3</text>
<line x1="770.9" y1="221.35" x2="839" y2="221.35" stroke="#7fb9da" stroke-width="4.2"/>
<line x1="770.9" y1="230.35" x2="839" y2="230.35" stroke="#fb7a5a" stroke-width="4.2"/>
<text transform="translate(861.8,237.35) scale(1,1.04)" text-anchor="start" font-size="32" font-weight="normal">Cycle 4</text>
<line x1="770.9" y1="267.3" x2="839" y2="267.3" stroke="#b7d4ea" stroke-width="4.2"/>
<line x1="770.9" y1="276.3" x2="839" y2="276.3" stroke="#fcab8f" stroke-width="4.2"/>
<text transform="translate(861.8,283.3) scale(1,1.04)" text-anchor="start" font-size="32" font-weight="normal">Cycle 5</text>
<text transform="translate(124.2,20.4) scale(1,1.04)" text-anchor="start" font-size="37.5" font-weight="bold">a</text>
<rect x="271.1" y="90.9" width="305.6" height="190.79999999999998" fill="#fff"/>
<g clip-path="url(#cia)">
<path d="M271,128.2C280.67,129.4 290.33,130.65 300,131.8C314.99,133.58 330.01,135.2 345,137C358.34,138.6 371.66,140.4 385,142C398.33,143.6 411.66,145.11 425,146.6C436.66,147.91 448.32,149.28 460,150.4C473.32,151.68 486.66,152.7 500,153.8C513.33,154.9 526.67,155.93 540,157C552.33,157.99 564.67,159 577,160" fill="none" stroke="#980c13" stroke-width="4.2" stroke-linejoin="round" stroke-linecap="butt"/>
<path d="M271,128.6C280.67,129.8 290.33,131.05 300,132.2C314.99,133.98 330.01,135.6 345,137.4C358.34,139 371.66,140.8 385,142.4C398.33,144 411.66,145.51 425,147C436.66,148.31 448.32,149.68 460,150.8C473.32,152.08 486.66,153.1 500,154.2C513.33,155.3 526.67,156.33 540,157.4C552.33,158.39 564.67,159.4 577,160.4" fill="none" stroke="#ca181d" stroke-width="4.2" stroke-linejoin="round" stroke-linecap="butt"/>
<path d="M271,128.8C280.67,130 290.33,131.25 300,132.4C314.99,134.18 330.01,135.8 345,137.6C358.34,139.2 371.66,141 385,142.6C398.33,144.2 411.66,145.71 425,147.2C436.66,148.51 448.32,149.88 460,151C473.32,152.28 486.66,153.3 500,154.4C513.33,155.5 526.67,156.53 540,157.6C552.33,158.59 564.67,159.6 577,160.6" fill="none" stroke="#f14432" stroke-width="4.2" stroke-linejoin="round" stroke-linecap="butt"/>
<path d="M271,131C280.67,132.2 290.33,133.45 300,134.6C314.99,136.38 330.01,138 345,139.8C358.34,141.4 371.66,143.2 385,144.8C398.33,146.4 411.66,147.91 425,149.4C436.66,150.71 448.32,152.08 460,153.2C473.32,154.48 486.66,155.5 500,156.6C513.33,157.7 526.67,158.73 540,159.8C552.33,160.79 564.67,161.8 577,162.8" fill="none" stroke="#fb7a5a" stroke-width="4.2" stroke-linejoin="round" stroke-linecap="butt"/>
<path d="M271,131.8C280.67,133 290.33,134.25 300,135.4C314.99,137.18 330.01,138.8 345,140.6C358.34,142.2 371.66,144 385,145.6C398.33,147.2 411.66,148.71 425,150.2C436.66,151.51 448.32,152.88 460,154C473.32,155.28 486.66,156.3 500,157.4C513.33,158.5 526.67,159.53 540,160.6C552.33,161.59 564.67,162.6 577,163.6" fill="none" stroke="#fcab8f" stroke-width="4.2" stroke-linejoin="round" stroke-linecap="butt"/>
<line x1="271.1" y1="186.3" x2="576.7" y2="186.3" stroke="#808080" stroke-width="4.2"/>
<path d="M271,231.9C276.67,232.07 282.34,232.15 288,232.4C293.67,232.65 299.35,232.87 305,233.4C310.02,233.87 315.02,234.6 320,235.4C324.36,236.1 328.67,237.05 333,237.9C337,238.68 340.99,239.56 345,240.3C348.99,241.03 352.99,241.7 357,242.3C360.99,242.9 364.99,243.42 369,243.9C372.99,244.38 377,244.8 381,245.2C385,245.6 389,245.94 393,246.3C398.33,246.78 403.66,247.37 409,247.7C414.33,248.03 419.67,248.16 425,248.3C430,248.43 435,248.48 440,248.5C445,248.52 450,248.5 455,248.4C458,248.34 461.01,248.24 464,248C466.01,247.84 468.02,247.57 470,247.2C472.35,246.77 474.68,246.2 477,245.6C479.35,245 481.65,244.21 484,243.6C486.65,242.91 489.35,242.38 492,241.7C494.68,241.01 497.35,240.28 500,239.5C502.68,238.71 505.36,237.91 508,237C510.69,236.07 513.36,235.06 516,234C518.69,232.92 521.35,231.78 524,230.6C526.69,229.41 529.36,228.19 532,226.9C534.69,225.59 537.31,224.13 540,222.8C542.65,221.49 545.29,220.17 548,219C550.62,217.87 553.31,216.87 556,215.9C558.65,214.94 561.34,214.11 564,213.2C566.34,212.41 568.65,211.56 571,210.8C572.99,210.16 575,209.6 577,209" fill="none" stroke="#084a91" stroke-width="4.2" stroke-linejoin="round" stroke-linecap="butt"/>
<path d="M271,219.2C280.67,218.27 290.32,217.21 300,216.4C314.99,215.14 330,214.09 345,213C358.33,212.03 371.67,211.13 385,210.2C398.33,209.27 411.66,208.29 425,207.4C436.66,206.62 448.33,205.88 460,205.2C473.33,204.42 486.66,203.7 500,203C513.33,202.3 526.67,201.69 540,201C552.33,200.36 564.67,199.67 577,199" fill="none" stroke="#2070b4" stroke-width="4.2" stroke-linejoin="round" stroke-linecap="butt"/>
<path d="M271,218.4C280.67,217.47 290.32,216.41 300,215.6C314.99,214.34 330,213.29 345,212.2C358.33,211.23 371.67,210.33 385,209.4C398.33,208.47 411.66,207.49 425,206.6C436.66,205.82 448.33,205.08 460,204.4C473.33,203.62 486.66,202.9 500,202.2C513.33,201.5 526.67,200.89 540,200.2C552.33,199.56 564.67,198.87 577,198.2" fill="none" stroke="#4a98c9" stroke-width="4.2" stroke-linejoin="round" stroke-linecap="butt"/>
<path d="M271,217.8C280.67,216.87 290.32,215.81 300,215C314.99,213.74 330,212.69 345,211.6C358.33,210.63 371.67,209.73 385,208.8C398.33,207.87 411.66,206.89 425,206C436.66,205.22 448.33,204.48 460,203.8C473.33,203.02 486.66,202.3 500,201.6C513.33,200.9 526.67,200.29 540,199.6C552.33,198.96 564.67,198.27 577,197.6" fill="none" stroke="#7fb9da" stroke-width="4.2" stroke-linejoin="round" stroke-linecap="butt"/>
<path d="M271,217C280.67,216.07 290.32,215.01 300,214.2C314.99,212.94 330,211.89 345,210.8C358.33,209.83 371.67,208.93 385,208C398.33,207.07 411.66,206.09 425,205.2C436.66,204.42 448.33,203.68 460,203C473.33,202.22 486.66,201.5 500,200.8C513.33,200.1 526.67,199.49 540,198.8C552.33,198.16 564.67,197.47 577,196.8" fill="none" stroke="#b7d4ea" stroke-width="4.2" stroke-linejoin="round" stroke-linecap="butt"/>
</g>
<rect x="271.1" y="90.9" width="305.6" height="190.8" fill="none" stroke="#000" stroke-width="3.4"/>
<line x1="254.9" y1="90.9" x2="271.1" y2="90.9" stroke="#000" stroke-width="3.4"/>
<text transform="translate(237.9,102.3) scale(1,1.04)" text-anchor="end" font-size="32" font-weight="normal">70</text>
<line x1="254.9" y1="186.3" x2="271.1" y2="186.3" stroke="#000" stroke-width="3.4"/>
<text transform="translate(237.9,197.7) scale(1,1.04)" text-anchor="end" font-size="32" font-weight="normal">0</text>
<line x1="254.9" y1="281.7" x2="271.1" y2="281.7" stroke="#000" stroke-width="3.4"/>
<text transform="translate(237.9,293.1) scale(1,1.04)" text-anchor="end" font-size="32" font-weight="normal">−70</text>
<line x1="271.1" y1="281.7" x2="271.1" y2="297.9" stroke="#000" stroke-width="3.4"/>
<text transform="translate(271.1,337) scale(1,1.04)" text-anchor="middle" font-size="32" font-weight="normal">0.5</text>
<line x1="301.66" y1="281.7" x2="301.66" y2="290.9" stroke="#000" stroke-width="2.5"/>
<line x1="332.22" y1="281.7" x2="332.22" y2="290.9" stroke="#000" stroke-width="2.5"/>
<line x1="362.78" y1="281.7" x2="362.78" y2="290.9" stroke="#000" stroke-width="2.5"/>
<line x1="393.34" y1="281.7" x2="393.34" y2="290.9" stroke="#000" stroke-width="2.5"/>
<line x1="423.9" y1="281.7" x2="423.9" y2="297.9" stroke="#000" stroke-width="3.4"/>
<text transform="translate(423.9,337) scale(1,1.04)" text-anchor="middle" font-size="32" font-weight="normal">0.6</text>
<line x1="454.46" y1="281.7" x2="454.46" y2="290.9" stroke="#000" stroke-width="2.5"/>
<line x1="485.02" y1="281.7" x2="485.02" y2="290.9" stroke="#000" stroke-width="2.5"/>
<line x1="515.58" y1="281.7" x2="515.58" y2="290.9" stroke="#000" stroke-width="2.5"/>
<line x1="546.14" y1="281.7" x2="546.14" y2="290.9" stroke="#000" stroke-width="2.5"/>
<line x1="576.7" y1="281.7" x2="576.7" y2="297.9" stroke="#000" stroke-width="3.4"/>
<text transform="translate(576.7,337) scale(1,1.04)" text-anchor="middle" font-size="32" font-weight="normal">0.7</text>
<text transform="translate(423.9,365.6) scale(1,1.04)" text-anchor="middle" font-size="32" font-weight="normal">Voltage (V)</text>
<text transform="translate(558.5,122.6) scale(1,1.04)" text-anchor="end" font-size="32" font-weight="normal">dQ/dV</text>
<g clip-path="url(#cb)">
<path d="M153.5,822 154.38,824.35 155.27,826.7 156.18,829.05 157.11,831.38 158.04,833.71 158.99,836.03 159.96,838.34 160.94,840.65 161.94,842.95 162.95,845.24 163.97,847.53 165.01,849.8 166.07,852.07 167.14,854.34 168.22,856.59 169.32,858.84 170.43,861.09 171.56,863.32 172.7,865.55 173.86,867.77 175.03,869.98 176.22,872.19 177.42,874.38 178.64,876.57 179.87,878.76 181.12,880.93 182.39,883.1 183.67,885.25 184.97,887.4 186.3,889.53 187.64,891.65 189,893.75 190.39,895.85 191.79,897.92 193.23,899.99 194.68,902.03 196.16,904.06 197.67,906.07 199.2,908.06 200.76,910.03 202.35,911.99 203.97,913.92 205.61,915.83 207.29,917.71 209,919.57 210.74,921.41 212.51,923.21 214.31,924.97 216.15,926.71 218.01,928.4 219.91,930.04 221.84,931.65 223.8,933.2 225.8,934.7 227.83,936.15 229.89,937.54 231.99,938.86 234.12,940.13 236.28,941.33 238.48,942.46 240.71,943.51 242.98,944.49 245.28,945.4 247.61,946.22 249.98,946.98 252.37,947.67 254.79,948.3 257.24,948.87 259.7,949.39 262.18,949.86 264.67,950.3 267.18,950.7 269.69,951.07 272.22,951.41 274.74,951.74 277.27,952.05 279.8,952.35 282.32,952.64 284.84,952.93 287.36,953.22 289.87,953.51 292.38,953.79 294.88,954.08 297.38,954.36 299.88,954.64 302.38,954.93 304.87,955.21 307.36,955.5 309.84,955.79 312.33,956.08 314.81,956.38 317.29,956.68 319.76,956.99 322.24,957.3 324.71,957.62 327.18,957.95 329.65,958.28 332.12,958.63 334.58,958.98 337.05,959.34 339.51,959.71 341.97,960.09 344.43,960.48 346.89,960.88 349.35,961.3 351.81,961.73 354.27,962.17 356.72,962.63 359.18,963.09 361.63,963.58 364.09,964.07 366.54,964.58 368.99,965.1 371.44,965.63 373.89,966.18 376.34,966.74 378.79,967.31 381.23,967.9 383.68,968.5 386.12,969.11 388.56,969.74 390.99,970.37 393.43,971.02 395.86,971.69 398.29,972.36 400.72,973.05 403.15,973.75 405.57,974.47 407.98,975.21 410.39,975.96 412.79,976.74 415.18,977.54 417.55,978.37 419.91,979.23 422.26,980.12 424.58,981.04 426.89,982 429.18,983 431.45,984.03 433.69,985.11 435.91,986.24 438.1,987.41 440.26,988.63 442.39,989.9 444.49,991.22 446.57,992.58 448.62,993.99 450.64,995.44 452.64,996.92 454.63,998.44 456.59,1000 458.53,1001.58 460.45,1003.19 462.36,1004.83 464.25,1006.48 466.13,1008.16 468,1009.86 469.86,1011.56 471.71,1013.28 473.55,1015.01 475.39,1016.75 477.22,1018.49 479.04,1020.23 480.87,1021.97 482.69,1023.71 484.51,1025.45 486.32,1027.19 488.13,1028.93 489.94,1030.67 491.74,1032.42 493.54,1034.17 495.33,1035.92 497.12,1037.67 498.91,1039.42 500.68,1041.18 502.46,1042.94 504.23,1044.71 505.99,1046.48 507.74,1048.26 509.49,1050.04 511.24,1051.82 512.97,1053.62 514.7,1055.41 516.43,1057.22 518.14,1059.03 519.85,1060.85 521.55,1062.68 523.24,1064.51 524.92,1066.35 526.6,1068.2 528.26,1070.06 529.92,1071.93 531.57,1073.81 533.21,1075.7 534.84,1077.6 536.46,1079.5 538.07,1081.42 539.68,1083.34 541.28,1085.27 542.87,1087.21 544.46,1089.15 546.05,1091.09 547.63,1093.04 549.22,1094.99 550.79,1096.94 552.37,1098.9 553.95,1100.86 555.53,1102.81 557.11,1104.77 558.69,1106.72 560.28,1108.67 561.87,1110.62 563.46,1112.56 565.06,1114.5 566.66,1116.44 568.27,1118.36 569.89,1120.29 571.52,1122.2 573.15,1124.1 574.8,1126 576.45,1127.89 578.11,1129.77 579.79,1131.63 581.47,1133.49 583.16,1135.34 584.86,1137.19 586.57,1139.02 588.29,1140.84 590.02,1142.66 591.76,1144.46 593.51,1146.26 595.26,1148.05 597.03,1149.83 598.8,1151.6 600.58,1153.36 602.37,1155.12 604.16,1156.86 605.97,1158.6 607.78,1160.33 609.6,1162.05 611.43,1163.77 613.26,1165.47 615.11,1167.17 616.96,1168.86 618.81,1170.55 620.68,1172.22 622.55,1173.89 624.43,1175.55 626.31,1177.2 628.21,1178.85 630.11,1180.49 632.01,1182.12 633.92,1183.74 635.84,1185.36 637.76,1186.97 639.69,1188.57 641.63,1190.16 643.57,1191.75 645.52,1193.34 647.47,1194.91 649.43,1196.48 651.39,1198.04 653.36,1199.6 655.33,1201.15 657.31,1202.69 659.3,1204.23 661.28,1205.76 663.28,1207.29 665.28,1208.8 667.28,1210.32 669.29,1211.82 671.3,1213.32 673.32,1214.81 675.35,1216.29 677.38,1217.76 679.41,1219.22 681.46,1220.67 683.51,1222.12 685.56,1223.55 687.63,1224.97 689.7,1226.38 691.77,1227.78 693.86,1229.16 695.95,1230.53 698.05,1231.89 700.16,1233.24 702.28,1234.57 704.4,1235.89 706.53,1237.19 708.68,1238.47 710.83,1239.75 712.99,1241 715.15,1242.24 717.33,1243.46 719.52,1244.66 721.72,1245.85 723.93,1247.01 726.15,1248.16 728.38,1249.29 730.61,1250.4 732.86,1251.49 735.13,1252.56 737.4,1253.61 739.68,1254.63 741.98,1255.64 744.28,1256.62 746.6,1257.59 748.92,1258.54 751.25,1259.47 753.59,1260.39 755.94,1261.3 758.29,1262.2 760.65,1263.09 763.01,1263.97 765.37,1264.84 767.74,1265.71 770.1,1266.58 772.47,1267.45 774.84,1268.31 777.2,1269.18 779.57,1270.05 781.93,1270.93 784.29,1271.81 786.64,1272.7 788.99,1273.59 791.34,1274.48 793.69,1275.38 796.04,1276.28 798.38,1277.18 800.73,1278.08 803.07,1278.99 805.41,1279.89 807.75,1280.8 810.09,1281.71 812.43,1282.61 814.77,1283.51 817.11,1284.42 819.45,1285.32 821.79,1286.21 824.13,1287.11 826.47,1288 828.81,1288.89 831.15,1289.77 833.5,1290.65 835.84,1291.52 838.19,1292.39 840.54,1293.25 842.89,1294.1 845.25,1294.95 847.61,1295.79 849.97,1296.62 852.33,1297.44 854.7,1298.26 857.07,1299.06 859.44,1299.86 861.82,1300.65 864.19,1301.43 866.58,1302.21 868.96,1302.97 871.35,1303.73 873.73,1304.49 876.12,1305.23 878.52,1305.97 880.91,1306.7 883.31,1307.43 885.71,1308.15 888.11,1308.87 890.52,1309.58 892.92,1310.28 895.33,1310.98 897.74,1311.67 900.15,1312.36 902.56,1313.04 904.98,1313.72 907.39,1314.4 909.81,1315.07 912.23,1315.73 914.65,1316.39 917.07,1317.05 919.49,1317.71 921.92,1318.36 924.34,1319.01 926.77,1319.65 929.19,1320.3 931.62,1320.94 934.05,1321.57 936.47,1322.21 938.9,1322.84 941.33,1323.47 943.76,1324.1 946.19,1324.73 948.62,1325.36 951.05,1325.99 953.48,1326.61 955.91,1327.24 958.34,1327.86 960.77,1328.48 963.2,1329.11 965.63,1329.73 968.06,1330.35 970.49,1330.98 972.92,1331.6 975.35,1332.23 977.77,1332.85 980.2,1333.48 982.63,1334.11 985.05,1334.74 987.48,1335.37 989.9,1336 992.32,1336.63 994.74,1337.27 997.16,1337.91 999.58,1338.55 1002,1339.2" fill="none" stroke="#084a91" stroke-width="4.2" stroke-linejoin="round"/>
<path d="M124.28,1369.54 126.64,1368.71 129,1367.87 131.35,1367.02 133.7,1366.16 136.05,1365.29 138.4,1364.42 140.75,1363.53 143.09,1362.64 145.43,1361.73 147.77,1360.81 150.1,1359.89 152.43,1358.96 154.76,1358.01 157.08,1357.06 159.4,1356.1 161.72,1355.13 164.04,1354.15 166.35,1353.16 168.65,1352.16 170.96,1351.15 173.26,1350.13 175.56,1349.11 177.85,1348.07 180.14,1347.02 182.42,1345.97 184.7,1344.9 186.98,1343.83 189.25,1342.74 191.52,1341.65 193.79,1340.55 196.05,1339.44 198.3,1338.32 200.56,1337.19 202.8,1336.05 205.05,1334.9 207.28,1333.74 209.52,1332.57 211.74,1331.4 213.97,1330.21 216.19,1329.02 218.4,1327.81 220.61,1326.6 222.81,1325.38 225.01,1324.14 227.2,1322.9 229.39,1321.65 231.57,1320.39 233.75,1319.12 235.92,1317.85 238.08,1316.56 240.24,1315.26 242.4,1313.96 244.55,1312.64 246.69,1311.32 248.82,1309.98 250.95,1308.64 253.08,1307.29 255.2,1305.93 257.31,1304.56 259.41,1303.18 261.51,1301.79 263.61,1300.39 265.69,1298.99 267.77,1297.57 269.84,1296.15 271.91,1294.71 273.97,1293.27 276.02,1291.82 278.07,1290.36 280.11,1288.89 282.14,1287.41 284.16,1285.92 286.18,1284.42 288.19,1282.91 290.19,1281.4 292.19,1279.87 294.17,1278.34 296.15,1276.79 298.13,1275.24 300.09,1273.68 302.05,1272.11 304,1270.53 305.94,1268.94 307.87,1267.35 309.8,1265.74 311.71,1264.12 313.62,1262.5 315.52,1260.87 317.42,1259.22 319.3,1257.57 321.18,1255.91 323.04,1254.24 324.9,1252.56 326.75,1250.87 328.59,1249.18 330.43,1247.47 332.25,1245.76 334.07,1244.04 335.87,1242.3 337.67,1240.56 339.46,1238.81 341.24,1237.05 343,1235.28 344.76,1233.51 346.51,1231.72 348.26,1229.93 349.99,1228.12 351.71,1226.31 353.42,1224.49 355.12,1222.66 356.82,1220.82 358.5,1218.97 360.17,1217.11 361.84,1215.25 363.49,1213.37 365.13,1211.49 366.76,1209.6 368.39,1207.69 370,1205.78 371.6,1203.86 373.19,1201.94 374.77,1200 376.34,1198.05 377.9,1196.1 379.45,1194.14 380.99,1192.17 382.52,1190.19 384.03,1188.2 385.54,1186.2 387.04,1184.2 388.53,1182.19 390.02,1180.17 391.49,1178.14 392.95,1176.11 394.41,1174.07 395.85,1172.02 397.29,1169.97 398.72,1167.91 400.14,1165.84 401.55,1163.77 402.96,1161.69 404.35,1159.6 405.74,1157.51 407.13,1155.41 408.5,1153.31 409.87,1151.2 411.23,1149.08 412.58,1146.96 413.93,1144.83 415.27,1142.7 416.6,1140.57 417.93,1138.43 419.25,1136.28 420.57,1134.13 421.88,1131.98 423.18,1129.82 424.48,1127.66 425.78,1125.49 427.06,1123.32 428.35,1121.15 429.63,1118.97 430.9,1116.79 432.17,1114.6 433.43,1112.42 434.69,1110.22 435.95,1108.03 437.2,1105.84 438.45,1103.64 439.69,1101.44 440.93,1099.23 442.17,1097.03 443.4,1094.82 444.64,1092.61 445.86,1090.4 447.09,1088.19 448.31,1085.97 449.53,1083.76 450.75,1081.54 451.96,1079.32 453.18,1077.1 454.39,1074.88 455.6,1072.66 456.8,1070.44 458.01,1068.22 459.21,1066 460.42,1063.78 461.62,1061.56 462.82,1059.33 464.02,1057.11 465.22,1054.89 466.42,1052.67 467.62,1050.45 468.82,1048.23 470.02,1046.02 471.22,1043.8 472.42,1041.58 473.62,1039.37 474.81,1037.15 476.01,1034.94 477.21,1032.73 478.41,1030.52 479.61,1028.31 480.81,1026.09 482,1023.88 483.2,1021.68 484.4,1019.47 485.6,1017.26 486.8,1015.05 488,1012.84 489.19,1010.64 490.39,1008.43 491.59,1006.23 492.79,1004.02 493.99,1001.82 495.18,999.62 496.38,997.41 497.58,995.21 498.78,993.01 499.98,990.8 501.18,988.6 502.37,986.4 503.57,984.2 504.77,982 505.97,979.8 507.17,977.6 508.37,975.4 509.57,973.2 510.77,971 511.96,968.8 513.16,966.6 514.36,964.4 515.56,962.2 516.76,960 517.96,957.8 519.16,955.6 520.36,953.41 521.56,951.21 522.76,949.01 523.96,946.81 525.16,944.61 526.36,942.41 527.56,940.21 528.76,938.01 529.96,935.81 531.16,933.61 532.35,931.4 533.54,929.2 534.74,927 535.92,924.79 537.11,922.58 538.3,920.38 539.48,918.17 540.66,915.95 541.83,913.74 543.01,911.53 544.18,909.31 545.34,907.09 546.5,904.87 547.66,902.65 548.81,900.42 549.96,898.2 551.11,895.97 552.24,893.73 553.38,891.5 554.51,889.26 555.63,887.02 556.75,884.77 557.86,882.53 558.96,880.28 560.06,878.02 561.15,875.76 562.23,873.5 563.31,871.24 564.38,868.97 565.44,866.7 566.5,864.42 567.55,862.14 568.58,859.86 569.62,857.57 570.64,855.27 571.65,852.98 572.65,850.67 573.65,848.37 574.63,846.06 575.61,843.74 576.58,841.42 577.53,839.09 578.48,836.76 579.41,834.42 580.34,832.08 581.25,829.73 582.16,827.37 583.05,825.01" fill="none" stroke="#980c13" stroke-width="4.2" stroke-linejoin="round"/>
<path d="M123.06,826.18 123.2,827.12 123.34,828.06 123.48,829 123.63,829.94 123.78,830.88 123.93,831.82 124.09,832.76 124.25,833.69 124.41,834.63 124.58,835.56 124.75,836.5 124.92,837.43 125.1,838.36 125.28,839.29 125.46,840.22 125.64,841.15 125.83,842.08 126.02,843 126.21,843.93 126.41,844.85 126.61,845.78 126.81,846.7 127.01,847.62 127.22,848.54 127.43,849.46 127.64,850.38 127.86,851.3 128.08,852.22 128.3,853.13 128.52,854.05 128.75,854.96 128.97,855.88 129.21,856.79 129.44,857.7 129.68,858.61 129.92,859.52 130.16,860.43 130.4,861.34 130.65,862.25 130.9,863.16 131.17,864.06 131.44,864.96 131.71,865.86 131.99,866.76 132.27,867.65 132.55,868.55 132.83,869.45 133.11,870.34 133.4,871.24 133.69,872.13 133.98,873.02 134.28,873.91 134.58,874.8 134.88,875.69 135.18,876.58 135.48,877.47 135.79,878.36 136.1,879.24 136.41,880.13 136.72,881.01 137.03,881.9 137.35,882.78 137.67,883.66 137.99,884.54 138.32,885.42 138.64,886.3 138.97,887.18 139.3,888.06 139.63,888.94 139.96,889.81 140.3,890.69 140.64,891.56 140.98,892.44 141.32,893.31 141.66,894.18 142,895.05 142.35,895.93 142.7,896.8 143.05,897.67 143.4,898.53 143.76,899.4 144.11,900.27 144.47,901.14 144.83,902 145.19,902.87 145.55,903.73 145.92,904.6 146.28,905.46 146.65,906.32 147.02,907.18 147.39,908.04 147.76,908.91 148.13,909.77 148.51,910.62 148.88,911.48 149.26,912.34 149.64,913.2 150.02,914.06 150.4,914.91 150.79,915.77 151.17,916.62 151.56,917.48 151.94,918.33 152.33,919.19 152.72,920.04 153.11,920.89 153.5,921.74 153.9,922.6 154.29,923.45 154.69,924.3 155.09,925.15 155.49,926 155.89,926.85 156.29,927.69 156.69,928.54 157.09,929.39 157.5,930.24 157.91,931.08 158.31,931.93 158.72,932.77 159.13,933.62 159.54,934.46 159.95,935.31 160.37,936.15 160.78,936.99 161.19,937.84 161.61,938.68 162.03,939.52 162.45,940.36 162.87,941.2 163.29,942.04 163.71,942.88 164.13,943.72 164.55,944.56 164.98,945.4 165.4,946.24 165.83,947.08 166.25,947.92 166.68,948.76 167.11,949.59 167.54,950.43 167.97,951.27 168.4,952.1 168.83,952.94 169.26,953.77 169.69,954.61 170.13,955.44 170.56,956.28 171,957.11 171.43,957.95 171.87,958.78 172.31,959.61 172.75,960.45 173.19,961.28 173.62,962.11 174.06,962.95 174.51,963.78 174.95,964.61 175.39,965.44 175.83,966.27 176.27,967.1 176.72,967.94 177.16,968.77 177.61,969.6 178.05,970.43 178.5,971.26 178.94,972.09 179.39,972.92 179.83,973.75 180.28,974.58 180.73,975.41 181.18,976.24 181.63,977.07 182.07,977.9 182.52,978.72 182.97,979.55 183.42,980.38 183.87,981.21 184.32,982.04 184.77,982.87 185.22,983.7 185.67,984.52 186.13,985.35 186.58,986.18 187.03,987.01 187.45,987.85 187.88,988.69 188.31,989.53 188.74,990.37 189.17,991.21 189.6,992.05 190.02,992.89 190.45,993.73 190.88,994.57 191.31,995.41 191.74,996.25 192.17,997.09 192.6,997.93 193.03,998.77 193.46,999.61 193.88,1000.45 194.31,1001.29 194.74,1002.13 195.17,1002.97 195.6,1003.81 196.03,1004.65 196.46,1005.49 196.89,1006.33 197.31,1007.17 197.74,1008.01 198.17,1008.85 198.6,1009.69 199.03,1010.53 199.46,1011.37 199.89,1012.21 200.32,1013.05 200.74,1013.89 201.17,1014.73 201.6,1015.57 202.03,1016.41 202.46,1017.24 202.89,1018.08 203.32,1018.92 203.75,1019.76 204.18,1020.6 204.61,1021.44 205.04,1022.28 205.47,1023.12 205.9,1023.96 206.33,1024.79 206.76,1025.63 207.19,1026.47 207.62,1027.31 208.05,1028.15 208.48,1028.98 208.91,1029.82 209.34,1030.66 209.77,1031.5 210.2,1032.33 210.63,1033.17 211.06,1034.01 211.49,1034.85 211.93,1035.68 212.36,1036.52 212.79,1037.35 213.22,1038.19 213.66,1039.03 214.09,1039.86 214.52,1040.7 214.96,1041.54 215.39,1042.37 215.82,1043.21 216.26,1044.04 216.69,1044.88 217.13,1045.71 217.56,1046.55 217.99,1047.38 218.43,1048.21 218.87,1049.05 219.3,1049.88 219.74,1050.72 220.17,1051.55 220.61,1052.38 221.05,1053.22 221.49,1054.05 221.92,1054.88 222.36,1055.72 222.8,1056.55 223.24,1057.38 223.68,1058.21 224.12,1059.04 224.56,1059.87 225,1060.71 225.44,1061.54 225.88,1062.37 226.32,1063.2 226.76,1064.03 227.2,1064.86 227.64,1065.69 228.09,1066.52 228.53,1067.35 228.97,1068.18 229.42,1069.01 229.86,1069.83 230.31,1070.66 230.75,1071.49 231.2,1072.32 231.64,1073.15 232.09,1073.97 232.54,1074.8 232.98,1075.63 233.43,1076.45 233.88,1077.28 234.33,1078.1 234.78,1078.93 235.23,1079.76 235.68,1080.58 236.13,1081.4 236.58,1082.23 237.03,1083.05 237.48,1083.88 237.94,1084.7 238.39,1085.52 238.84,1086.35 239.3,1087.17 239.75,1087.99 240.21,1088.81 240.66,1089.63 241.12,1090.45 241.58,1091.28 242.03,1092.1 242.49,1092.92 242.95,1093.74 243.41,1094.56 243.87,1095.37 244.33,1096.19 244.79,1097.01 245.25,1097.83 245.72,1098.65 246.18,1099.46 246.64,1100.28 247.11,1101.1 247.57,1101.91 248.04,1102.73 248.51,1103.54 248.97,1104.36 249.44,1105.17 249.91,1105.99 250.38,1106.8 250.85,1107.62 251.32,1108.43 251.79,1109.24 252.26,1110.05 252.74,1110.86 253.22,1111.67 253.7,1112.48 254.17,1113.29 254.65,1114.09 255.13,1114.9 255.62,1115.71 256.1,1116.51 256.58,1117.32 257.06,1118.12 257.55,1118.93 258.03,1119.73 258.52,1120.54 259.01,1121.34 259.49,1122.14 259.98,1122.94 260.47,1123.75 260.96,1124.55 261.45,1125.35 261.94,1126.15 262.43,1126.95 262.93,1127.75 263.42,1128.55 263.92,1129.35 264.41,1130.15 264.91,1130.94 265.4,1131.74 265.9,1132.54 266.4,1133.33 266.9,1134.13 267.4,1134.92 267.9,1135.72 268.41,1136.51 268.91,1137.31 269.41,1138.1 269.92,1138.89 270.42,1139.68 270.93,1140.47 271.44,1141.27 271.95,1142.06 272.46,1142.85 272.97,1143.63 273.48,1144.42 273.99,1145.21 274.5,1146 275.02,1146.79 275.53,1147.57 276.05,1148.36 276.57,1149.14 277.08,1149.93 277.6,1150.71 278.12,1151.49 278.64,1152.28 279.17,1153.06 279.69,1153.84 280.21,1154.62 280.74,1155.4 281.26,1156.18 281.79,1156.96 282.32,1157.73 282.85,1158.51 283.38,1159.29 283.91,1160.06 284.44,1160.84 284.97,1161.61 285.5,1162.38 286.04,1163.16 286.57,1163.93 287.11,1164.7 287.65,1165.47 288.19,1166.24 288.73,1167.01 289.27,1167.78 289.81,1168.54 290.35,1169.31 290.9,1170.07 291.44,1170.84 291.99,1171.6 292.54,1172.37 293.09,1173.13 293.63,1173.89 294.19,1174.65 294.74,1175.41 295.29,1176.17 295.84,1176.92 296.4,1177.68 296.95,1178.44 297.51,1179.19 298.07,1179.94 298.63,1180.7 299.19,1181.45 299.75,1182.2 300.31,1182.95 300.88,1183.7 301.44,1184.45 302.01,1185.2 302.58,1185.94 303.14,1186.69 303.71,1187.43 304.28,1188.17 304.86,1188.92 305.43,1189.66 306,1190.4 306.58,1191.14 307.16,1191.87 307.73,1192.61 308.31,1193.35 308.89,1194.08 309.47,1194.82 310.06,1195.55 310.64,1196.28 311.22,1197.01 311.81,1197.74 312.4,1198.47 312.99,1199.2 313.58,1199.92 314.17,1200.65 314.76,1201.37 315.35,1202.09 315.95,1202.81 316.54,1203.53 317.14,1204.25 317.74,1204.97 318.34,1205.69 318.94,1206.4 319.54,1207.12 320.14,1207.83 320.75,1208.54 321.35,1209.25 321.96,1209.96 322.57,1210.67 323.18,1211.38 323.79,1212.08 324.4,1212.79 325.01,1213.49 325.63,1214.19 326.24,1214.89 326.86,1215.59 327.48,1216.29 328.1,1216.99 328.72,1217.68 329.34,1218.38 329.97,1219.07 330.59,1219.76 331.22,1220.45 331.85,1221.14 332.48,1221.83 333.11,1222.51 333.74,1223.2 334.37,1223.88 335.01,1224.56 335.64,1225.24 336.28,1225.92 336.92,1226.6 337.56,1227.27 338.2,1227.95 338.84,1228.62 339.49,1229.29 340.13,1229.96 340.78,1230.63 341.43,1231.3 342.08,1231.97 342.73,1232.63 343.38,1233.29 344.03,1233.96 344.69,1234.62 345.35,1235.27 346,1235.93 346.66,1236.59 347.32,1237.24 347.99,1237.89 348.65,1238.54 349.32,1239.19 349.98,1239.84 350.65,1240.49 351.32,1241.13 351.99,1241.77 352.66,1242.41 353.34,1243.05 354.01,1243.69 354.69,1244.33 355.37,1244.96 356.05,1245.6 356.73,1246.23 357.41,1246.86 358.1,1247.48 358.79,1248.11 359.48,1248.73 360.17,1249.35 360.86,1249.97 361.56,1250.58 362.25,1251.2 362.95,1251.81 363.65,1252.42 364.35,1253.03 365.05,1253.64 365.76,1254.25 366.46,1254.85 367.17,1255.46 367.87,1256.06 368.58,1256.66 369.29,1257.26 370.01,1257.86 370.72,1258.45 371.43,1259.05 372.15,1259.64 372.87,1260.23 373.59,1260.82 374.31,1261.41 375.03,1261.99 375.75,1262.58 376.48,1263.16 377.2,1263.74 377.93,1264.32 378.66,1264.9 379.39,1265.47 380.12,1266.05 380.85,1266.62 381.59,1267.19 382.32,1267.76 383.06,1268.33 383.8,1268.9 384.54,1269.46 385.28,1270.02 386.02,1270.59 386.76,1271.15 387.5,1271.7 388.25,1272.26 389,1272.82 389.75,1273.37 390.49,1273.92 391.25,1274.47 392,1275.02 392.75,1275.57 393.5,1276.11 394.26,1276.66 395.02,1277.2 395.78,1277.74 396.53,1278.28 397.3,1278.82 398.06,1279.35 398.82,1279.89 399.58,1280.42 400.35,1280.95 401.12,1281.48 401.88,1282.01 402.65,1282.54 403.42,1283.06 404.19,1283.59 404.96,1284.11 405.73,1284.63 406.51,1285.16 407.28,1285.67 408.05,1286.19 408.83,1286.71 409.61,1287.22 410.39,1287.74 411.17,1288.25 411.95,1288.76 412.73,1289.27 413.51,1289.77 414.3,1290.28 415.08,1290.78 415.87,1291.28 416.66,1291.78 417.45,1292.28 418.24,1292.78 419.03,1293.28 419.82,1293.77 420.61,1294.26 421.4,1294.76 422.2,1295.25 423,1295.73 423.79,1296.22 424.59,1296.7 425.39,1297.19 426.19,1297.67 426.99,1298.15 427.79,1298.63 428.6,1299.11 429.4,1299.58 430.21,1300.06 431.01,1300.53 431.82,1301 432.63,1301.47 433.44,1301.94 434.25,1302.4 435.06,1302.87 435.87,1303.33 436.68,1303.79 437.5,1304.25 438.31,1304.71 439.13,1305.17 439.94,1305.63 440.76,1306.08 441.58,1306.53 442.4,1306.98 443.22,1307.43 444.04,1307.88 444.86,1308.33 445.68,1308.77 446.51,1309.22 447.33,1309.66 448.16,1310.1 448.98,1310.54 449.81,1310.98 450.64,1311.41 451.47,1311.85 452.3,1312.28 453.13,1312.71 453.96,1313.14 454.79,1313.57 455.63,1313.99 456.46,1314.42 457.29,1314.84 458.13,1315.27 458.97,1315.69 459.8,1316.11 460.64,1316.52 461.48,1316.94 462.32,1317.35 463.16,1317.77 464,1318.18 464.84,1318.59 465.69,1319 466.53,1319.4 467.37,1319.81 468.22,1320.21 469.06,1320.62 469.91,1321.02 470.76,1321.42 471.6,1321.82 472.45,1322.21 473.3,1322.61 474.15,1323 475,1323.39 475.85,1323.78 476.71,1324.17 477.56,1324.56 478.41,1324.95 479.27,1325.33 480.12,1325.71 480.98,1326.1 481.83,1326.48 482.69,1326.85 483.54,1327.23 484.4,1327.61 485.26,1327.98 486.12,1328.35 486.98,1328.73 487.84,1329.09 488.7,1329.46 489.56,1329.83 490.42,1330.2 491.29,1330.56 492.15,1330.92 493.01,1331.28 493.88,1331.64 494.74,1332 495.61,1332.36 496.48,1332.71 497.34,1333.06 498.21,1333.42 499.08,1333.77 499.95,1334.12 500.82,1334.46 501.68,1334.81 502.55,1335.16 503.42,1335.51 504.29,1335.86 505.15,1336.21 506.02,1336.56 506.89,1336.91 507.76,1337.26 508.63,1337.6 509.5,1337.94 510.37,1338.28 511.24,1338.62 512.11,1338.96 512.98,1339.3 513.86,1339.63 514.73,1339.97 515.6,1340.3 516.48,1340.63 517.35,1340.96 518.23,1341.29 519.1,1341.62 519.98,1341.94 520.86,1342.26 521.73,1342.59 522.61,1342.91 523.49,1343.23 524.37,1343.54 525.25,1343.86 526.13,1344.17 527.01,1344.49 527.89,1344.8 528.77,1345.11 529.65,1345.42 530.53,1345.73 531.41,1346.03 532.3,1346.34 533.18,1346.64 534.06,1346.94 534.95,1347.24 535.83,1347.54 536.72,1347.84 537.6,1348.13 538.49,1348.42 539.37,1348.72 540.26,1349.01 541.15,1349.3 542.03,1349.58 542.92,1349.87 543.81,1350.16 544.7,1350.44 545.59,1350.72 546.48,1351 547.37,1351.28 548.26,1351.56 549.15,1351.83 550.04,1352.11 550.93,1352.38 551.83,1352.65 552.72,1352.92 553.61,1353.19 554.5,1353.45 555.4,1353.72 556.29,1353.98 557.19,1354.25 558.08,1354.51 558.98,1354.77 559.87,1355.02 560.77,1355.28 561.66,1355.53 562.56,1355.79 563.46,1356.04 564.36,1356.29 565.25,1356.53 566.15,1356.78 567.05,1357.03 567.95,1357.27 568.85,1357.51 569.75,1357.75 570.65,1357.99 571.55,1358.23 572.45,1358.47 573.35,1358.7 574.25,1358.93 575.15,1359.16 576.06,1359.39 576.96,1359.62 577.86,1359.85 578.76,1360.07 579.67,1360.3 580.57,1360.52 581.48,1360.74 582.38,1360.96 583.29,1361.18 584.19,1361.39 585.1,1361.61 586,1361.82 586.91,1362.03 587.81,1362.24 588.72,1362.45 589.63,1362.65 590.54,1362.86 591.44,1363.06 592.35,1363.26 593.26,1363.46 594.17,1363.66 595.08,1363.86 595.99,1364.05 596.89,1364.25 597.8,1364.44 598.71,1364.63 599.62,1364.82 600.53,1365.01 601.45,1365.19 602.36,1365.38 603.27,1365.56 604.18,1365.75 605.09,1365.93 606,1366.11 606.91,1366.28 607.83,1366.46 608.74,1366.64 609.65,1366.81 610.56,1366.98 611.48,1367.15 612.39,1367.32 613.31,1367.49 614.22,1367.65 615.13,1367.82 616.05,1367.98 616.96,1368.14 617.88,1368.3 618.79,1368.45 619.71,1368.61 620.63,1368.76 621.54,1368.92 622.46,1369.07 623.37,1369.22 624.29,1369.37 625.21,1369.51 626.13,1369.66 627.04,1369.8 627.96,1369.94 628.88,1370.08 629.8,1370.22 630.71,1370.35 631.63,1370.49 632.55,1370.62 633.47,1370.75 634.39,1370.88 635.31,1371.01 636.23,1371.14 637.15,1371.26 638.07,1371.39 638.99,1371.51 639.91,1371.63 640.83,1371.75 641.75,1371.86 642.67,1371.98 643.59,1372.09 644.51,1372.21 645.43,1372.32 646.36,1372.43 646.67,1372.46" fill="none" stroke="#2070b4" stroke-width="4.2" stroke-linejoin="round"/>
<path d="M583.79,824 583.66,825.37 583.17,826.75 582.67,828.12 582.17,829.49 581.66,830.87 581.15,832.24 580.64,833.61 580.12,834.99 579.59,836.36 579.07,837.73 578.53,839.11 578,840.48 577.46,841.85 576.91,843.23 576.36,844.6 575.81,845.97 575.25,847.35 574.69,848.72 574.13,850.1 573.56,851.47 572.99,852.84 572.41,854.22 571.83,855.59 571.25,856.96 570.66,858.34 570.07,859.71 569.47,861.08 568.87,862.46 568.27,863.83 567.66,865.2 567.06,866.58 566.44,867.95 565.83,869.32 565.21,870.7 564.58,872.07 563.96,873.44 563.33,874.82 562.69,876.19 562.06,877.56 561.42,878.94 560.78,880.31 560.13,881.68 559.48,883.06 558.83,884.43 558.18,885.8 557.52,887.18 556.86,888.55 556.2,889.92 555.53,891.3 554.87,892.67 554.2,894.05 553.52,895.42 552.85,896.79 552.17,898.17 551.49,899.54 550.81,900.91 550.12,902.29 549.44,903.66 548.75,905.03 548.06,906.41 547.36,907.78 546.67,909.15 545.97,910.53 545.27,911.9 544.57,913.27 543.87,914.65 543.16,916.02 542.46,917.39 541.75,918.77 541.04,920.14 540.33,921.51 539.62,922.89 538.91,924.26 538.19,925.63 537.47,927.01 536.76,928.38 536.04,929.75 535.32,931.13 534.6,932.5 533.88,933.87 533.15,935.25 532.43,936.62 531.71,937.99 530.98,939.37 530.26,940.74 529.53,942.12 528.81,943.49 528.08,944.86 527.35,946.24 526.62,947.61 525.89,948.98 525.17,950.36 524.44,951.73 523.71,953.1 522.98,954.48 522.25,955.85 521.52,957.22 520.79,958.6 520.06,959.97 519.33,961.34 518.6,962.72 517.87,964.09 517.14,965.46 516.41,966.84 515.68,968.21 514.95,969.58 514.22,970.96 513.49,972.33 512.76,973.7 512.03,975.08 511.3,976.45 510.56,977.82 509.83,979.2 509.1,980.57 508.37,981.94 507.64,983.32 506.9,984.69 506.17,986.07 505.44,987.44 504.71,988.81 503.97,990.19 503.24,991.56 502.51,992.93 501.78,994.31 501.04,995.68 500.31,997.05 499.58,998.43 498.84,999.8 498.11,1001.17 497.38,1002.55 496.64,1003.92 495.91,1005.29 495.18,1006.67 494.44,1008.04 493.71,1009.41 492.97,1010.79 492.24,1012.16 491.51,1013.53 490.77,1014.91 490.04,1016.28 489.31,1017.65 488.57,1019.03 487.84,1020.4 487.1,1021.77 486.37,1023.15 485.64,1024.52 484.9,1025.89 484.17,1027.27 483.43,1028.64 482.7,1030.02 481.96,1031.39 481.23,1032.76 480.5,1034.14 479.76,1035.51 479.03,1036.88 478.29,1038.26 477.56,1039.63 476.83,1041 476.09,1042.38 475.36,1043.75 474.62,1045.12 473.89,1046.5 473.16,1047.87 472.42,1049.24 471.69,1050.62 470.95,1051.99 470.22,1053.36 469.49,1054.74 468.75,1056.11 468.02,1057.48 467.28,1058.86 466.55,1060.23 465.81,1061.6 465.08,1062.98 464.34,1064.35 463.6,1065.72 462.87,1067.1 462.13,1068.47 461.39,1069.84 460.65,1071.22 459.91,1072.59 459.17,1073.96 458.43,1075.34 457.69,1076.71 456.94,1078.09 456.2,1079.46 455.45,1080.83 454.71,1082.21 453.96,1083.58 453.21,1084.95 452.46,1086.33 451.71,1087.7 450.96,1089.07 450.2,1090.45 449.44,1091.82 448.69,1093.19 447.93,1094.57 447.17,1095.94 446.41,1097.31 445.64,1098.69 444.87,1100.06 444.11,1101.43 443.34,1102.81 442.56,1104.18 441.79,1105.55 441.01,1106.93 440.24,1108.3 439.46,1109.67 438.67,1111.05 437.89,1112.42 437.1,1113.79 436.31,1115.17 435.52,1116.54 434.72,1117.91 433.92,1119.29 433.12,1120.66 432.32,1122.04 431.51,1123.41 430.71,1124.78 429.89,1126.16 429.08,1127.53 428.26,1128.9 427.44,1130.28 426.61,1131.65 425.79,1133.02 424.95,1134.4 424.12,1135.77 423.28,1137.14 422.44,1138.52 421.59,1139.89 420.74,1141.26 419.89,1142.64 419.03,1144.01 418.17,1145.38 417.31,1146.76 416.44,1148.13 415.56,1149.5 414.68,1150.88 413.8,1152.25 412.91,1153.62 412.02,1155 411.13,1156.37 410.23,1157.74 409.32,1159.12 408.41,1160.49 407.49,1161.86 406.57,1163.24 405.65,1164.61 404.71,1165.98 403.78,1167.36 402.83,1168.73 401.89,1170.11 400.93,1171.48 399.97,1172.85 399.01,1174.23 398.03,1175.6 397.06,1176.97 396.07,1178.35 395.08,1179.72 394.08,1181.09 393.08,1182.47 392.07,1183.84 391.05,1185.21 390.03,1186.59 388.99,1187.96 387.95,1189.33 386.91,1190.71 385.85,1192.08 384.79,1193.45 383.72,1194.83 382.64,1196.2 381.56,1197.57 380.46,1198.95 379.36,1200.32 378.25,1201.69 377.13,1203.07 376,1204.44 374.86,1205.81 373.71,1207.19 372.55,1208.56 371.39,1209.93 370.21,1211.31 369.03,1212.68 367.83,1214.06 366.63,1215.43 365.42,1216.8 364.2,1218.18 362.96,1219.55 361.72,1220.92 360.47,1222.3 359.21,1223.67 357.94,1225.04 356.66,1226.42 355.36,1227.79 354.06,1229.16 352.75,1230.54 351.43,1231.91 350.09,1233.28 348.75,1234.66 347.39,1236.03 346.03,1237.4 344.65,1238.78 343.26,1240.15 341.86,1241.52 340.45,1242.9 339.03,1244.27 337.6,1245.64 336.15,1247.02 334.69,1248.39 333.22,1249.76 331.74,1251.14 330.25,1252.51 328.74,1253.88 327.23,1255.26 325.69,1256.63 324.15,1258.01 322.59,1259.38 321.02,1260.75 319.44,1262.13 317.84,1263.5 316.23,1264.87 314.61,1266.25 312.97,1267.62 311.32,1268.99 309.65,1270.37 307.97,1271.74 306.28,1273.11 304.57,1274.49 302.84,1275.86 301.1,1277.23 299.35,1278.61 297.57,1279.98 295.79,1281.35 293.98,1282.73 292.16,1284.1 290.32,1285.47 288.47,1286.85 286.6,1288.22 284.71,1289.59 282.8,1290.97 280.87,1292.34 278.93,1293.71 276.97,1295.09 274.98,1296.46 272.98,1297.83 270.96,1299.21 268.92,1300.58 266.86,1301.95 264.77,1303.33 262.67,1304.7 260.54,1306.08 258.39,1307.45 256.22,1308.82 254.03,1310.2 251.81,1311.57 249.57,1312.94 247.3,1314.32 245.01,1315.69 242.69,1317.06 240.34,1318.44 237.97,1319.81 235.57,1321.18 233.14,1322.56 230.68,1323.93 228.19,1325.3 225.67,1326.68 223.12,1328.05 220.53,1329.42 217.91,1330.8 215.26,1332.17 212.57,1333.54 209.84,1334.92 207.08,1336.29 204.27,1337.66 201.42,1339.04 198.53,1340.41 195.6,1341.78 192.62,1343.16 189.59,1344.53 186.52,1345.9 183.39,1347.28 180.2,1348.65 176.96,1350.03 173.66,1351.4 170.3,1352.77 166.87,1354.15 163.37,1355.52 159.8,1356.89 156.15,1358.27 152.42,1359.64 148.6,1361.01 144.68,1362.39 140.66,1363.76 136.53,1365.13 132.27,1366.51 127.89,1367.88 124.68,1369.25 124.28,1370.63 124.28,1372" fill="none" stroke="#ca181d" stroke-width="4.2" stroke-linejoin="round"/>
<path d="M123.53,826.11 123.67,827.05 123.81,827.99 123.96,828.93 124.1,829.87 124.25,830.8 124.41,831.74 124.56,832.68 124.72,833.61 124.89,834.54 125.05,835.48 125.22,836.41 125.39,837.34 125.57,838.27 125.75,839.2 125.93,840.13 126.11,841.05 126.3,841.98 126.49,842.9 126.68,843.83 126.88,844.75 127.08,845.67 127.28,846.6 127.48,847.52 127.69,848.44 127.9,849.35 128.11,850.27 128.32,851.19 128.54,852.1 128.76,853.02 128.99,853.93 129.21,854.85 129.44,855.76 129.67,856.67 129.91,857.58 130.14,858.49 130.38,859.4 130.62,860.31 130.87,861.22 131.11,862.12 131.36,863.03 131.62,863.93 131.89,864.83 132.15,865.73 132.42,866.63 132.69,867.53 132.97,868.43 133.24,869.33 133.52,870.22 133.8,871.12 134.08,872.01 134.37,872.9 134.66,873.8 134.94,874.69 135.24,875.58 135.53,876.47 135.83,877.36 136.13,878.25 136.43,879.14 136.73,880.02 137.04,880.91 137.34,881.79 137.65,882.68 137.96,883.56 138.28,884.45 138.59,885.33 138.91,886.21 139.23,887.09 139.55,887.97 139.87,888.85 140.2,889.73 140.53,890.61 140.86,891.48 141.19,892.36 141.52,893.24 141.86,894.11 142.19,894.99 142.53,895.86 142.87,896.73 143.21,897.6 143.56,898.48 143.9,899.35 144.25,900.22 144.6,901.09 144.95,901.96 145.3,902.82 145.66,903.69 146.01,904.56 146.37,905.42 146.73,906.29 147.09,907.16 147.45,908.02 147.81,908.88 148.18,909.75 148.54,910.61 148.91,911.47 149.28,912.33 149.65,913.19 150.02,914.06 150.4,914.92 150.77,915.78 151.15,916.63 151.52,917.49 151.9,918.35 152.28,919.21 152.66,920.07 153.04,920.92 153.43,921.78 153.81,922.63 154.2,923.49 154.59,924.34 154.98,925.2 155.37,926.05 155.76,926.9 156.15,927.75 156.55,928.61 156.94,929.46 157.34,930.31 157.73,931.16 158.13,932.01 158.53,932.86 158.93,933.71 159.33,934.56 159.74,935.41 160.14,936.25 160.55,937.1 160.95,937.95 161.36,938.8 161.77,939.64 162.18,940.49 162.59,941.33 163,942.18 163.41,943.02 163.82,943.87 164.24,944.71 164.65,945.56 165.07,946.4 165.49,947.24 165.9,948.08 166.32,948.93 166.74,949.77 167.16,950.61 167.58,951.45 168,952.29 168.43,953.13 168.85,953.97 169.27,954.81 169.7,955.65 170.12,956.49 170.55,957.33 170.98,958.17 171.4,959.01 171.83,959.85 172.26,960.69 172.69,961.52 173.12,962.36 173.55,963.2 173.98,964.04 174.41,964.87 174.85,965.71 175.28,966.55 175.71,967.38 176.15,968.22 176.58,969.06 177.02,969.89 177.45,970.73 177.89,971.56 178.33,972.4 178.76,973.23 179.2,974.07 179.64,974.9 180.08,975.74 180.51,976.57 180.95,977.41 181.39,978.24 181.83,979.07 182.27,979.91 182.71,980.74 183.15,981.58 183.59,982.41 184.03,983.24 184.48,984.08 184.92,984.91 185.36,985.74 185.8,986.58 186.24,987.41 186.67,988.25 187.1,989.09 187.53,989.93 187.95,990.77 188.38,991.61 188.81,992.45 189.24,993.29 189.67,994.13 190.1,994.97 190.53,995.81 190.96,996.65 191.38,997.49 191.81,998.33 192.24,999.17 192.67,1000.01 193.1,1000.85 193.53,1001.69 193.96,1002.53 194.39,1003.37 194.82,1004.21 195.24,1005.05 195.67,1005.89 196.1,1006.73 196.53,1007.57 196.96,1008.41 197.39,1009.25 197.82,1010.09 198.25,1010.93 198.67,1011.77 199.1,1012.61 199.53,1013.45 199.96,1014.29 200.39,1015.13 200.82,1015.97 201.25,1016.81 201.68,1017.65 202.11,1018.48 202.54,1019.32 202.96,1020.16 203.39,1021 203.82,1021.84 204.25,1022.68 204.68,1023.52 205.11,1024.36 205.54,1025.2 205.97,1026.03 206.4,1026.87 206.83,1027.71 207.26,1028.55 207.69,1029.39 208.12,1030.22 208.56,1031.06 208.99,1031.9 209.42,1032.74 209.85,1033.57 210.28,1034.41 210.71,1035.25 211.14,1036.09 211.58,1036.92 212.01,1037.76 212.44,1038.6 212.87,1039.43 213.31,1040.27 213.74,1041.1 214.17,1041.94 214.61,1042.78 215.04,1043.61 215.48,1044.45 215.91,1045.28 216.34,1046.12 216.78,1046.95 217.21,1047.79 217.65,1048.62 218.09,1049.46 218.52,1050.29 218.96,1051.12 219.39,1051.96 219.83,1052.79 220.27,1053.63 220.71,1054.46 221.14,1055.29 221.58,1056.13 222.02,1056.96 222.46,1057.79 222.9,1058.62 223.34,1059.45 223.78,1060.29 224.22,1061.12 224.66,1061.95 225.1,1062.78 225.54,1063.61 225.98,1064.44 226.42,1065.27 226.87,1066.1 227.31,1066.93 227.75,1067.76 228.2,1068.59 228.64,1069.42 229.09,1070.25 229.53,1071.08 229.98,1071.91 230.42,1072.74 230.87,1073.56 231.31,1074.39 231.76,1075.22 232.21,1076.05 232.66,1076.87 233.11,1077.7 233.56,1078.52 234,1079.35 234.45,1080.18 234.9,1081 235.36,1081.83 235.81,1082.65 236.26,1083.48 236.71,1084.3 237.16,1085.12 237.62,1085.95 238.07,1086.77 238.53,1087.59 238.98,1088.42 239.44,1089.24 239.89,1090.06 240.35,1090.88 240.81,1091.7 241.27,1092.52 241.73,1093.35 242.18,1094.17 242.64,1094.99 243.1,1095.81 243.57,1096.62 244.03,1097.44 244.49,1098.26 244.95,1099.08 245.41,1099.9 245.88,1100.72 246.34,1101.53 246.81,1102.35 247.27,1103.17 247.74,1103.98 248.21,1104.8 248.68,1105.61 249.14,1106.43 249.61,1107.24 250.08,1108.06 250.55,1108.87 251.03,1109.68 251.5,1110.49 251.98,1111.31 252.45,1112.12 252.93,1112.93 253.41,1113.74 253.88,1114.54 254.36,1115.35 254.84,1116.16 255.32,1116.97 255.81,1117.78 256.29,1118.58 256.77,1119.39 257.25,1120.2 257.74,1121 258.22,1121.81 258.71,1122.61 259.2,1123.42 259.68,1124.22 260.17,1125.02 260.66,1125.83 261.15,1126.63 261.64,1127.43 262.13,1128.23 262.63,1129.03 263.12,1129.83 263.61,1130.63 264.11,1131.43 264.6,1132.23 265.1,1133.03 265.6,1133.83 266.1,1134.63 266.59,1135.43 267.09,1136.22 267.6,1137.02 268.1,1137.81 268.6,1138.61 269.1,1139.4 269.61,1140.2 270.11,1140.99 270.62,1141.78 271.13,1142.58 271.64,1143.37 272.14,1144.16 272.65,1144.95 273.17,1145.74 273.68,1146.53 274.19,1147.32 274.7,1148.11 275.22,1148.9 275.73,1149.68 276.25,1150.47 276.77,1151.26 277.29,1152.04 277.81,1152.83 278.33,1153.61 278.85,1154.39 279.37,1155.18 279.89,1155.96 280.42,1156.74 280.94,1157.52 281.47,1158.3 282,1159.08 282.53,1159.86 283.06,1160.64 283.59,1161.41 284.12,1162.19 284.65,1162.97 285.18,1163.74 285.72,1164.52 286.25,1165.29 286.79,1166.06 287.33,1166.83 287.87,1167.61 288.41,1168.38 288.95,1169.15 289.49,1169.91 290.03,1170.68 290.58,1171.45 291.12,1172.22 291.67,1172.98 292.22,1173.75 292.76,1174.51 293.31,1175.27 293.86,1176.03 294.42,1176.8 294.97,1177.56 295.52,1178.32 296.08,1179.07 296.63,1179.83 297.19,1180.59 297.75,1181.34 298.31,1182.1 298.87,1182.85 299.43,1183.61 299.99,1184.36 300.56,1185.11 301.12,1185.86 301.69,1186.61 302.26,1187.36 302.82,1188.1 303.39,1188.85 303.96,1189.59 304.54,1190.34 305.11,1191.08 305.68,1191.82 306.26,1192.57 306.84,1193.31 307.41,1194.04 307.99,1194.78 308.57,1195.52 309.16,1196.26 309.74,1196.99 310.32,1197.72 310.91,1198.46 311.49,1199.19 312.08,1199.92 312.67,1200.65 313.26,1201.38 313.85,1202.1 314.44,1202.83 315.04,1203.55 315.63,1204.28 316.23,1205 316.83,1205.72 317.42,1206.44 318.02,1207.16 318.63,1207.88 319.23,1208.59 319.83,1209.31 320.44,1210.02 321.04,1210.74 321.65,1211.45 322.26,1212.16 322.87,1212.87 323.48,1213.58 324.1,1214.28 324.71,1214.99 325.32,1215.69 325.94,1216.4 326.56,1217.1 327.18,1217.8 327.8,1218.5 328.42,1219.19 329.05,1219.89 329.67,1220.59 330.3,1221.28 330.92,1221.97 331.55,1222.66 332.18,1223.35 332.81,1224.04 333.45,1224.73 334.08,1225.41 334.72,1226.1 335.35,1226.78 335.99,1227.46 336.63,1228.14 337.27,1228.82 337.91,1229.5 338.56,1230.17 339.2,1230.85 339.85,1231.52 340.5,1232.19 341.15,1232.86 341.8,1233.53 342.45,1234.2 343.1,1234.86 343.76,1235.53 344.42,1236.19 345.07,1236.85 345.73,1237.51 346.39,1238.17 347.06,1238.82 347.72,1239.48 348.39,1240.13 349.05,1240.78 349.72,1241.43 350.39,1242.08 351.06,1242.73 351.73,1243.38 352.41,1244.02 353.08,1244.66 353.76,1245.3 354.44,1245.94 355.12,1246.58 355.8,1247.22 356.48,1247.85 357.17,1248.48 357.86,1249.11 358.55,1249.74 359.24,1250.36 359.93,1250.99 360.62,1251.61 361.32,1252.23 362.01,1252.85 362.71,1253.47 363.41,1254.09 364.11,1254.7 364.82,1255.31 365.52,1255.92 366.22,1256.53 366.93,1257.14 367.64,1257.75 368.35,1258.35 369.06,1258.96 369.77,1259.56 370.49,1260.16 371.2,1260.76 371.92,1261.35 372.64,1261.95 373.36,1262.54 374.08,1263.13 374.8,1263.72 375.53,1264.31 376.25,1264.9 376.98,1265.48 377.7,1266.07 378.43,1266.65 379.16,1267.23 379.9,1267.81 380.63,1268.39 381.36,1268.96 382.1,1269.54 382.84,1270.11 383.58,1270.68 384.32,1271.25 385.06,1271.82 385.8,1272.39 386.54,1272.95 387.29,1273.51 388.04,1274.07 388.78,1274.63 389.53,1275.19 390.28,1275.75 391.03,1276.3 391.79,1276.86 392.54,1277.41 393.3,1277.96 394.05,1278.51 394.81,1279.06 395.57,1279.6 396.33,1280.15 397.09,1280.69 397.85,1281.23 398.62,1281.77 399.38,1282.31 400.15,1282.84 400.92,1283.38 401.68,1283.91 402.45,1284.44 403.22,1284.97 403.99,1285.5 404.77,1286.03 405.54,1286.56 406.31,1287.08 407.09,1287.61 407.87,1288.13 408.64,1288.65 409.42,1289.17 410.2,1289.68 410.99,1290.2 411.77,1290.71 412.55,1291.23 413.34,1291.74 414.12,1292.25 414.91,1292.75 415.7,1293.26 416.49,1293.76 417.28,1294.27 418.07,1294.77 418.86,1295.27 419.65,1295.77 420.45,1296.26 421.24,1296.76 422.04,1297.25 422.84,1297.75 423.64,1298.24 424.44,1298.73 425.24,1299.21 426.04,1299.7 426.84,1300.18 427.65,1300.67 428.45,1301.15 429.26,1301.63 430.06,1302.11 430.87,1302.58 431.68,1303.06 432.49,1303.53 433.3,1304 434.11,1304.47 434.92,1304.94 435.74,1305.41 436.55,1305.88 437.37,1306.34 438.18,1306.81 439,1307.27 439.82,1307.73 440.64,1308.18 441.46,1308.64 442.28,1309.1 443.1,1309.55 443.93,1310 444.75,1310.45 445.57,1310.9 446.4,1311.35 447.23,1311.8 448.05,1312.24 448.88,1312.69 449.71,1313.13 450.54,1313.57 451.37,1314.01 452.2,1314.44 453.04,1314.88 453.87,1315.31 454.7,1315.74 455.54,1316.18 456.37,1316.61 457.21,1317.03 458.05,1317.46 458.89,1317.88 459.73,1318.31 460.57,1318.73 461.41,1319.15 462.25,1319.57 463.09,1319.99 463.93,1320.4 464.78,1320.82 465.62,1321.23 466.47,1321.64 467.31,1322.05 468.16,1322.46 469.01,1322.87 469.85,1323.27 470.7,1323.68 471.55,1324.08 472.4,1324.48 473.25,1324.88 474.11,1325.28 474.96,1325.67 475.81,1326.07 476.67,1326.46 477.52,1326.85 478.38,1327.25 479.23,1327.63 480.09,1328.02 480.94,1328.41 481.8,1328.79 482.66,1329.18 483.52,1329.56 484.38,1329.94 485.24,1330.32 486.1,1330.69 486.96,1331.07 487.83,1331.44 488.69,1331.82 489.55,1332.19 490.42,1332.56 491.28,1332.92 492.15,1333.29 493.01,1333.66 493.88,1334.02 494.75,1334.38 495.61,1334.74 496.48,1335.1 497.35,1335.46 498.22,1335.82 499.09,1336.17 499.96,1336.53 500.83,1336.88 501.7,1337.23 502.57,1337.59 503.44,1337.94 504.31,1338.29 505.18,1338.64 506.06,1338.99 506.93,1339.34 507.8,1339.69 508.67,1340.03 509.55,1340.37 510.42,1340.72 511.3,1341.06 512.17,1341.4 513.05,1341.73 513.92,1342.07 514.8,1342.4 515.68,1342.74 516.56,1343.07 517.44,1343.4 518.31,1343.73 519.19,1344.05 520.07,1344.38 520.95,1344.7 521.83,1345.03 522.72,1345.35 523.6,1345.67 524.48,1345.98 525.36,1346.3 526.25,1346.62 527.13,1346.93 528.01,1347.24 528.9,1347.55 529.78,1347.86 530.67,1348.17 531.56,1348.48 532.44,1348.78 533.33,1349.08 534.22,1349.39 535.1,1349.69 535.99,1349.98 536.88,1350.28 537.77,1350.58 538.66,1350.87 539.55,1351.16 540.44,1351.46 541.33,1351.75 542.22,1352.03 543.11,1352.32 544.01,1352.61 544.9,1352.89 545.79,1353.17 546.69,1353.45 547.58,1353.73 548.47,1354.01 549.37,1354.28 550.26,1354.56 551.16,1354.83 552.06,1355.1 552.95,1355.37 553.85,1355.64 554.75,1355.91 555.64,1356.17 556.54,1356.44 557.44,1356.7 558.34,1356.96 559.24,1357.22 560.14,1357.48 561.04,1357.73 561.94,1357.99 562.84,1358.24 563.74,1358.49 564.64,1358.74 565.54,1358.99 566.44,1359.24 567.35,1359.48 568.25,1359.73 569.15,1359.97 570.06,1360.21 570.96,1360.45 571.87,1360.69 572.77,1360.92 573.68,1361.16 574.58,1361.39 575.49,1361.62 576.39,1361.85 577.3,1362.08 578.21,1362.31 579.11,1362.53 580.02,1362.75 580.93,1362.98 581.84,1363.2 582.74,1363.42 583.65,1363.63 584.56,1363.85 585.47,1364.06 586.38,1364.28 587.29,1364.49 588.2,1364.7 589.11,1364.9 590.02,1365.11 590.94,1365.32 591.85,1365.52 592.76,1365.72 593.67,1365.92 594.58,1366.12 595.5,1366.32 596.41,1366.51 597.32,1366.71 598.24,1366.9 599.15,1367.09 600.06,1367.28 600.98,1367.46 601.89,1367.65 602.81,1367.84 603.72,1368.02 604.64,1368.2 605.56,1368.38 606.47,1368.56 607.39,1368.74 608.3,1368.91 609.22,1369.09 610.14,1369.26 611.06,1369.43 611.97,1369.6 612.89,1369.77 613.81,1369.94 614.73,1370.1 615.65,1370.26 616.56,1370.42 617.48,1370.58 618.4,1370.74 619.32,1370.9 620.24,1371.05 621.16,1371.21 622.08,1371.36 623,1371.51 623.92,1371.66 624.85,1371.8 625.77,1371.95 626.69,1372.09 627.61,1372.23 628.53,1372.37 629.45,1372.51 630.38,1372.65 631.3,1372.78 632.22,1372.92 633.14,1373.05 634.07,1373.18 634.99,1373.31 635.91,1373.44 636.84,1373.56 637.76,1373.69 638.69,1373.81 639.61,1373.93 640.53,1374.05 641.46,1374.17 642.38,1374.28 643.31,1374.4 644.23,1374.51 645.16,1374.62 646.09,1374.73 646.4,1374.77" fill="none" stroke="#4a98c9" stroke-width="4.2" stroke-linejoin="round"/>
<path d="M584.09,824 583.96,825.37 583.48,826.75 582.99,828.12 582.5,829.49 582,830.87 581.5,832.24 581,833.61 580.49,834.99 579.98,836.36 579.46,837.73 578.94,839.11 578.41,840.48 577.88,841.85 577.35,843.23 576.81,844.6 576.27,845.97 575.72,847.35 575.17,848.72 574.62,850.1 574.06,851.47 573.5,852.84 572.93,854.22 572.36,855.59 571.79,856.96 571.21,858.34 570.63,859.71 570.05,861.08 569.46,862.46 568.87,863.83 568.28,865.2 567.68,866.58 567.08,867.95 566.47,869.32 565.86,870.7 565.25,872.07 564.63,873.44 564.02,874.82 563.39,876.19 562.77,877.56 562.14,878.94 561.51,880.31 560.88,881.68 560.24,883.06 559.6,884.43 558.96,885.8 558.31,887.18 557.66,888.55 557.01,889.92 556.36,891.3 555.7,892.67 555.04,894.05 554.38,895.42 553.71,896.79 553.05,898.17 552.38,899.54 551.71,900.91 551.03,902.29 550.36,903.66 549.68,905.03 549,906.41 548.32,907.78 547.63,909.15 546.95,910.53 546.26,911.9 545.57,913.27 544.87,914.65 544.18,916.02 543.48,917.39 542.79,918.77 542.09,920.14 541.39,921.51 540.69,922.89 539.98,924.26 539.28,925.63 538.57,927.01 537.86,928.38 537.16,929.75 536.45,931.13 535.74,932.5 535.02,933.87 534.31,935.25 533.6,936.62 532.88,937.99 532.17,939.37 531.45,940.74 530.73,942.12 530.02,943.49 529.3,944.86 528.58,946.24 527.86,947.61 527.14,948.98 526.42,950.36 525.7,951.73 524.98,953.1 524.26,954.48 523.54,955.85 522.82,957.22 522.1,958.6 521.38,959.97 520.65,961.34 519.93,962.72 519.21,964.09 518.49,965.46 517.76,966.84 517.04,968.21 516.32,969.58 515.59,970.96 514.87,972.33 514.14,973.7 513.42,975.08 512.7,976.45 511.97,977.82 511.25,979.2 510.52,980.57 509.79,981.94 509.07,983.32 508.34,984.69 507.62,986.07 506.89,987.44 506.16,988.81 505.44,990.19 504.71,991.56 503.98,992.93 503.26,994.31 502.53,995.68 501.8,997.05 501.07,998.43 500.35,999.8 499.62,1001.17 498.89,1002.55 498.16,1003.92 497.43,1005.29 496.71,1006.67 495.98,1008.04 495.25,1009.41 494.52,1010.79 493.79,1012.16 493.06,1013.53 492.33,1014.91 491.6,1016.28 490.87,1017.65 490.14,1019.03 489.41,1020.4 488.68,1021.77 487.96,1023.15 487.23,1024.52 486.5,1025.89 485.77,1027.27 485.04,1028.64 484.31,1030.02 483.58,1031.39 482.85,1032.76 482.11,1034.14 481.38,1035.51 480.65,1036.88 479.92,1038.26 479.19,1039.63 478.46,1041 477.73,1042.38 477,1043.75 476.27,1045.12 475.54,1046.5 474.81,1047.87 474.08,1049.24 473.35,1050.62 472.62,1051.99 471.89,1053.36 471.16,1054.74 470.43,1056.11 469.7,1057.48 468.96,1058.86 468.23,1060.23 467.5,1061.6 466.77,1062.98 466.03,1064.35 465.3,1065.72 464.57,1067.1 463.83,1068.47 463.1,1069.84 462.36,1071.22 461.62,1072.59 460.88,1073.96 460.15,1075.34 459.41,1076.71 458.67,1078.09 457.92,1079.46 457.18,1080.83 456.44,1082.21 455.69,1083.58 454.95,1084.95 454.2,1086.33 453.45,1087.7 452.7,1089.07 451.95,1090.45 451.19,1091.82 450.44,1093.19 449.68,1094.57 448.92,1095.94 448.16,1097.31 447.4,1098.69 446.64,1100.06 445.87,1101.43 445.1,1102.81 444.33,1104.18 443.56,1105.55 442.79,1106.93 442.01,1108.3 441.23,1109.67 440.45,1111.05 439.67,1112.42 438.89,1113.79 438.1,1115.17 437.31,1116.54 436.52,1117.91 435.72,1119.29 434.92,1120.66 434.12,1122.04 433.32,1123.41 432.51,1124.78 431.7,1126.16 430.89,1127.53 430.07,1128.9 429.25,1130.28 428.43,1131.65 427.6,1133.02 426.77,1134.4 425.94,1135.77 425.1,1137.14 424.26,1138.52 423.42,1139.89 422.57,1141.26 421.72,1142.64 420.87,1144.01 420.01,1145.38 419.14,1146.76 418.28,1148.13 417.4,1149.5 416.53,1150.88 415.65,1152.25 414.76,1153.62 413.87,1155 412.98,1156.37 412.08,1157.74 411.18,1159.12 410.27,1160.49 409.36,1161.86 408.44,1163.24 407.51,1164.61 406.58,1165.98 405.65,1167.36 404.71,1168.73 403.76,1170.11 402.81,1171.48 401.85,1172.85 400.89,1174.23 399.92,1175.6 398.95,1176.97 397.96,1178.35 396.98,1179.72 395.98,1181.09 394.98,1182.47 393.97,1183.84 392.96,1185.21 391.93,1186.59 390.91,1187.96 389.87,1189.33 388.82,1190.71 387.77,1192.08 386.71,1193.45 385.65,1194.83 384.57,1196.2 383.49,1197.57 382.4,1198.95 381.3,1200.32 380.19,1201.69 379.07,1203.07 377.95,1204.44 376.81,1205.81 375.67,1207.19 374.51,1208.56 373.35,1209.93 372.18,1211.31 371,1212.68 369.81,1214.06 368.61,1215.43 367.4,1216.8 366.19,1218.18 364.96,1219.55 363.72,1220.92 362.47,1222.3 361.22,1223.67 359.95,1225.04 358.67,1226.42 357.39,1227.79 356.09,1229.16 354.78,1230.54 353.46,1231.91 352.14,1233.28 350.8,1234.66 349.45,1236.03 348.09,1237.4 346.71,1238.78 345.33,1240.15 343.94,1241.52 342.53,1242.9 341.11,1244.27 339.69,1245.64 338.25,1247.02 336.79,1248.39 335.33,1249.76 333.85,1251.14 332.37,1252.51 330.87,1253.88 329.35,1255.26 327.83,1256.63 326.29,1258.01 324.74,1259.38 323.17,1260.75 321.59,1262.13 320,1263.5 318.4,1264.87 316.78,1266.25 315.15,1267.62 313.5,1268.99 311.84,1270.37 310.16,1271.74 308.47,1273.11 306.76,1274.49 305.04,1275.86 303.31,1277.23 301.55,1278.61 299.78,1279.98 298,1281.35 296.2,1282.73 294.38,1284.1 292.55,1285.47 290.69,1286.85 288.83,1288.22 286.94,1289.59 285.03,1290.97 283.11,1292.34 281.17,1293.71 279.2,1295.09 277.22,1296.46 275.22,1297.83 273.2,1299.21 271.16,1300.58 269.09,1301.95 267.01,1303.33 264.9,1304.7 262.77,1306.08 260.62,1307.45 258.44,1308.82 256.24,1310.2 254.02,1311.57 251.77,1312.94 249.49,1314.32 247.19,1315.69 244.87,1317.06 242.51,1318.44 240.12,1319.81 237.71,1321.18 235.27,1322.56 232.79,1323.93 230.29,1325.3 227.75,1326.68 225.18,1328.05 222.57,1329.42 219.93,1330.8 217.25,1332.17 214.53,1333.54 211.77,1334.92 208.98,1336.29 206.13,1337.66 203.25,1339.04 200.32,1340.41 197.34,1341.78 194.31,1343.16 191.23,1344.53 188.1,1345.9 184.91,1347.28 181.66,1348.65 178.35,1350.03 174.97,1351.4 171.53,1352.77 168,1354.15 164.41,1355.52 160.73,1356.89 156.96,1358.27 153.09,1359.64 149.13,1361.01 145.06,1362.39 140.86,1363.76 136.54,1365.13 132.08,1366.51 127.46,1367.88 124.52,1369.25 124.28,1370.63 124.28,1372" fill="none" stroke="#f14432" stroke-width="4.2" stroke-linejoin="round"/>
<path d="M123.89,826.06 124.03,826.99 124.17,827.93 124.31,828.87 124.46,829.81 124.61,830.75 124.76,831.68 124.92,832.62 125.08,833.55 125.24,834.48 125.41,835.41 125.58,836.34 125.75,837.27 125.92,838.2 126.1,839.13 126.28,840.06 126.46,840.98 126.65,841.91 126.84,842.83 127.03,843.75 127.23,844.68 127.43,845.6 127.63,846.52 127.83,847.44 128.04,848.36 128.25,849.27 128.46,850.19 128.67,851.11 128.89,852.02 129.11,852.94 129.34,853.85 129.56,854.76 129.79,855.67 130.02,856.58 130.25,857.49 130.49,858.4 130.73,859.31 130.97,860.22 131.21,861.12 131.46,862.03 131.71,862.93 131.96,863.84 132.22,864.74 132.48,865.64 132.75,866.54 133.01,867.44 133.28,868.34 133.55,869.23 133.82,870.13 134.1,871.03 134.38,871.92 134.66,872.82 134.94,873.71 135.22,874.6 135.51,875.49 135.8,876.39 136.09,877.28 136.38,878.17 136.68,879.05 136.97,879.94 137.27,880.83 137.57,881.72 137.88,882.6 138.18,883.49 138.49,884.37 138.8,885.26 139.11,886.14 139.43,887.02 139.74,887.9 140.06,888.79 140.38,889.67 140.7,890.54 141.02,891.42 141.35,892.3 141.67,893.18 142,894.06 142.33,894.93 142.67,895.81 143,896.68 143.34,897.56 143.67,898.43 144.01,899.3 144.35,900.18 144.7,901.05 145.04,901.92 145.39,902.79 145.73,903.66 146.08,904.53 146.43,905.4 146.78,906.27 147.14,907.13 147.49,908 147.85,908.87 148.21,909.73 148.57,910.6 148.93,911.46 149.29,912.33 149.66,913.19 150.02,914.06 150.39,914.92 150.76,915.78 151.13,916.64 151.5,917.5 151.87,918.36 152.24,919.22 152.62,920.08 152.99,920.94 153.37,921.8 153.75,922.66 154.13,923.52 154.51,924.38 154.89,925.23 155.28,926.09 155.66,926.94 156.05,927.8 156.44,928.66 156.82,929.51 157.21,930.36 157.61,931.22 158,932.07 158.39,932.92 158.78,933.78 159.18,934.63 159.58,935.48 159.97,936.33 160.37,937.18 160.77,938.03 161.17,938.88 161.57,939.73 161.98,940.58 162.38,941.43 162.78,942.28 163.19,943.13 163.6,943.97 164,944.82 164.41,945.67 164.82,946.52 165.23,947.36 165.64,948.21 166.05,949.05 166.47,949.9 166.88,950.75 167.29,951.59 167.71,952.43 168.12,953.28 168.54,954.12 168.96,954.97 169.37,955.81 169.79,956.65 170.21,957.5 170.63,958.34 171.05,959.18 171.47,960.02 171.9,960.87 172.32,961.71 172.74,962.55 173.17,963.39 173.59,964.23 174.02,965.07 174.44,965.91 174.87,966.75 175.29,967.59 175.72,968.43 176.15,969.27 176.58,970.11 177.01,970.95 177.43,971.79 177.86,972.63 178.29,973.47 178.72,974.31 179.15,975.15 179.59,975.98 180.02,976.82 180.45,977.66 180.88,978.5 181.31,979.34 181.75,980.17 182.18,981.01 182.61,981.85 183.05,982.69 183.48,983.52 183.92,984.36 184.35,985.2 184.78,986.03 185.22,986.87 185.65,987.71 186.08,988.55 186.51,989.39 186.94,990.23 187.37,991.07 187.79,991.91 188.22,992.75 188.65,993.59 189.08,994.43 189.51,995.27 189.94,996.11 190.37,996.95 190.8,997.79 191.23,998.63 191.65,999.47 192.08,1000.31 192.51,1001.15 192.94,1001.99 193.37,1002.83 193.8,1003.67 194.23,1004.51 194.66,1005.35 195.09,1006.19 195.51,1007.03 195.94,1007.87 196.37,1008.71 196.8,1009.55 197.23,1010.39 197.66,1011.23 198.09,1012.07 198.52,1012.91 198.94,1013.75 199.37,1014.59 199.8,1015.43 200.23,1016.27 200.66,1017.11 201.09,1017.95 201.52,1018.79 201.95,1019.62 202.38,1020.46 202.81,1021.3 203.24,1022.14 203.67,1022.98 204.1,1023.82 204.53,1024.66 204.96,1025.5 205.39,1026.33 205.82,1027.17 206.25,1028.01 206.68,1028.85 207.11,1029.69 207.54,1030.53 207.97,1031.36 208.4,1032.2 208.83,1033.04 209.26,1033.88 209.69,1034.71 210.13,1035.55 210.56,1036.39 210.99,1037.23 211.42,1038.06 211.86,1038.9 212.29,1039.74 212.72,1040.57 213.15,1041.41 213.59,1042.24 214.02,1043.08 214.46,1043.92 214.89,1044.75 215.32,1045.59 215.76,1046.42 216.19,1047.26 216.63,1048.09 217.06,1048.93 217.5,1049.76 217.94,1050.6 218.37,1051.43 218.81,1052.27 219.25,1053.1 219.68,1053.93 220.12,1054.77 220.56,1055.6 221,1056.43 221.44,1057.27 221.88,1058.1 222.31,1058.93 222.75,1059.76 223.19,1060.6 223.63,1061.43 224.08,1062.26 224.52,1063.09 224.96,1063.92 225.4,1064.75 225.84,1065.58 226.28,1066.41 226.73,1067.24 227.17,1068.07 227.62,1068.9 228.06,1069.73 228.5,1070.56 228.95,1071.39 229.39,1072.22 229.84,1073.05 230.29,1073.88 230.73,1074.7 231.18,1075.53 231.63,1076.36 232.08,1077.19 232.53,1078.01 232.98,1078.84 233.42,1079.67 233.88,1080.49 234.33,1081.32 234.78,1082.14 235.23,1082.97 235.68,1083.79 236.13,1084.62 236.59,1085.44 237.04,1086.27 237.49,1087.09 237.95,1087.91 238.4,1088.74 238.86,1089.56 239.32,1090.38 239.77,1091.2 240.23,1092.03 240.69,1092.85 241.15,1093.67 241.61,1094.49 242.07,1095.31 242.53,1096.13 242.99,1096.95 243.45,1097.77 243.91,1098.59 244.38,1099.41 244.84,1100.22 245.31,1101.04 245.77,1101.86 246.24,1102.68 246.7,1103.49 247.17,1104.31 247.64,1105.13 248.1,1105.94 248.57,1106.76 249.04,1107.57 249.51,1108.39 249.98,1109.2 250.45,1110.01 250.93,1110.83 251.4,1111.64 251.88,1112.45 252.35,1113.26 252.83,1114.07 253.31,1114.88 253.79,1115.69 254.26,1116.5 254.74,1117.31 255.22,1118.12 255.7,1118.93 256.19,1119.74 256.67,1120.55 257.15,1121.35 257.64,1122.16 258.12,1122.97 258.61,1123.77 259.09,1124.58 259.58,1125.38 260.07,1126.19 260.56,1126.99 261.05,1127.79 261.54,1128.6 262.03,1129.4 262.52,1130.2 263.01,1131 263.51,1131.8 264,1132.6 264.5,1133.4 264.99,1134.2 265.49,1135 265.99,1135.8 266.49,1136.6 266.99,1137.4 267.49,1138.19 267.99,1138.99 268.49,1139.79 269,1140.58 269.5,1141.38 270.01,1142.17 270.51,1142.97 271.02,1143.76 271.53,1144.55 272.04,1145.35 272.55,1146.14 273.06,1146.93 273.57,1147.72 274.08,1148.51 274.6,1149.3 275.11,1150.09 275.63,1150.88 276.14,1151.67 276.66,1152.45 277.18,1153.24 277.7,1154.02 278.22,1154.81 278.74,1155.59 279.26,1156.38 279.79,1157.16 280.31,1157.94 280.84,1158.73 281.36,1159.51 281.89,1160.29 282.42,1161.07 282.95,1161.85 283.48,1162.63 284.01,1163.4 284.54,1164.18 285.08,1164.96 285.61,1165.73 286.15,1166.51 286.68,1167.28 287.22,1168.05 287.76,1168.83 288.3,1169.6 288.84,1170.37 289.38,1171.14 289.93,1171.91 290.47,1172.67 291.02,1173.44 291.56,1174.21 292.11,1174.97 292.66,1175.74 293.21,1176.5 293.76,1177.27 294.31,1178.03 294.86,1178.79 295.42,1179.55 295.97,1180.31 296.53,1181.07 297.09,1181.83 297.65,1182.59 298.21,1183.34 298.77,1184.1 299.33,1184.85 299.89,1185.6 300.46,1186.36 301.02,1187.11 301.59,1187.86 302.16,1188.61 302.73,1189.36 303.3,1190.1 303.87,1190.85 304.44,1191.6 305.01,1192.34 305.59,1193.08 306.16,1193.83 306.74,1194.57 307.32,1195.31 307.9,1196.05 308.48,1196.79 309.06,1197.52 309.65,1198.26 310.23,1198.99 310.82,1199.73 311.4,1200.46 311.99,1201.19 312.58,1201.92 313.17,1202.65 313.76,1203.38 314.36,1204.11 314.95,1204.83 315.55,1205.56 316.14,1206.28 316.74,1207.01 317.34,1207.73 317.94,1208.45 318.54,1209.17 319.15,1209.88 319.75,1210.6 320.36,1211.32 320.96,1212.03 321.57,1212.74 322.18,1213.46 322.79,1214.17 323.41,1214.88 324.02,1215.58 324.63,1216.29 325.25,1217 325.87,1217.7 326.49,1218.4 327.11,1219.11 327.73,1219.81 328.35,1220.51 328.98,1221.2 329.6,1221.9 330.23,1222.59 330.86,1223.29 331.49,1223.98 332.12,1224.67 332.75,1225.36 333.39,1226.05 334.02,1226.74 334.66,1227.42 335.3,1228.11 335.93,1228.79 336.58,1229.47 337.22,1230.15 337.86,1230.83 338.51,1231.51 339.15,1232.18 339.8,1232.86 340.45,1233.53 341.1,1234.2 341.75,1234.87 342.41,1235.54 343.06,1236.21 343.72,1236.88 344.38,1237.54 345.04,1238.2 345.7,1238.86 346.36,1239.52 347.02,1240.18 347.69,1240.84 348.35,1241.49 349.02,1242.15 349.69,1242.8 350.36,1243.45 351.04,1244.1 351.71,1244.75 352.38,1245.39 353.06,1246.04 353.74,1246.68 354.42,1247.32 355.1,1247.96 355.78,1248.6 356.47,1249.23 357.16,1249.86 357.85,1250.5 358.54,1251.13 359.23,1251.76 359.92,1252.38 360.62,1253.01 361.31,1253.63 362.01,1254.25 362.71,1254.87 363.41,1255.49 364.11,1256.11 364.81,1256.73 365.52,1257.34 366.22,1257.95 366.93,1258.56 367.64,1259.17 368.35,1259.78 369.06,1260.39 369.78,1260.99 370.49,1261.59 371.21,1262.2 371.93,1262.8 372.65,1263.39 373.37,1263.99 374.09,1264.58 374.81,1265.18 375.54,1265.77 376.26,1266.36 376.99,1266.95 377.72,1267.53 378.45,1268.12 379.18,1268.7 379.91,1269.29 380.65,1269.87 381.38,1270.45 382.12,1271.02 382.86,1271.6 383.6,1272.17 384.34,1272.74 385.08,1273.32 385.82,1273.89 386.57,1274.45 387.31,1275.02 388.06,1275.58 388.81,1276.15 389.56,1276.71 390.31,1277.27 391.06,1277.83 391.82,1278.38 392.57,1278.94 393.33,1279.49 394.09,1280.04 394.84,1280.59 395.6,1281.14 396.36,1281.69 397.13,1282.24 397.89,1282.78 398.66,1283.32 399.42,1283.86 400.19,1284.4 400.96,1284.94 401.73,1285.48 402.5,1286.01 403.27,1286.55 404.04,1287.08 404.81,1287.61 405.59,1288.14 406.36,1288.67 407.14,1289.19 407.92,1289.72 408.7,1290.24 409.48,1290.76 410.26,1291.28 411.05,1291.8 411.83,1292.31 412.61,1292.83 413.4,1293.34 414.19,1293.86 414.98,1294.37 415.77,1294.87 416.56,1295.38 417.35,1295.89 418.14,1296.39 418.94,1296.89 419.73,1297.4 420.53,1297.9 421.32,1298.39 422.12,1298.89 422.92,1299.38 423.72,1299.88 424.52,1300.37 425.33,1300.86 426.13,1301.35 426.93,1301.84 427.74,1302.32 428.54,1302.81 429.35,1303.29 430.16,1303.77 430.97,1304.25 431.78,1304.73 432.59,1305.2 433.4,1305.68 434.22,1306.15 435.03,1306.62 435.85,1307.09 436.66,1307.56 437.48,1308.03 438.3,1308.5 439.12,1308.96 439.94,1309.42 440.76,1309.89 441.58,1310.34 442.4,1310.8 443.23,1311.26 444.05,1311.71 444.87,1312.17 445.7,1312.62 446.53,1313.07 447.36,1313.52 448.19,1313.97 449.02,1314.41 449.85,1314.86 450.68,1315.3 451.51,1315.74 452.34,1316.18 453.18,1316.62 454.01,1317.06 454.85,1317.49 455.68,1317.93 456.52,1318.36 457.36,1318.79 458.2,1319.22 459.04,1319.65 459.88,1320.07 460.72,1320.5 461.56,1320.92 462.41,1321.34 463.25,1321.76 464.09,1322.18 464.94,1322.6 465.79,1323.02 466.63,1323.43 467.48,1323.84 468.33,1324.25 469.18,1324.66 470.03,1325.07 470.88,1325.48 471.73,1325.89 472.58,1326.29 473.43,1326.69 474.29,1327.09 475.14,1327.49 476,1327.89 476.85,1328.29 477.71,1328.68 478.56,1329.07 479.42,1329.47 480.28,1329.86 481.14,1330.25 482,1330.63 482.86,1331.02 483.72,1331.4 484.58,1331.79 485.44,1332.17 486.31,1332.55 487.17,1332.93 488.03,1333.3 488.9,1333.68 489.76,1334.05 490.63,1334.43 491.5,1334.8 492.36,1335.17 493.23,1335.54 494.1,1335.9 494.97,1336.27 495.84,1336.63 496.71,1337 497.58,1337.36 498.45,1337.72 499.32,1338.07 500.19,1338.43 501.06,1338.79 501.94,1339.14 502.81,1339.5 503.68,1339.85 504.56,1340.2 505.43,1340.55 506.3,1340.9 507.18,1341.25 508.05,1341.6 508.93,1341.94 509.81,1342.29 510.69,1342.63 511.56,1342.97 512.44,1343.31 513.32,1343.64 514.2,1343.98 515.08,1344.31 515.96,1344.65 516.84,1344.98 517.72,1345.31 518.6,1345.64 519.49,1345.97 520.37,1346.29 521.25,1346.61 522.14,1346.94 523.02,1347.26 523.91,1347.58 524.79,1347.9 525.68,1348.21 526.56,1348.53 527.45,1348.84 528.34,1349.15 529.22,1349.46 530.11,1349.77 531,1350.08 531.89,1350.39 532.78,1350.69 533.67,1350.99 534.56,1351.3 535.45,1351.6 536.34,1351.9 537.23,1352.19 538.12,1352.49 539.02,1352.78 539.91,1353.07 540.8,1353.37 541.7,1353.66 542.59,1353.94 543.49,1354.23 544.38,1354.51 545.28,1354.8 546.17,1355.08 547.07,1355.36 547.97,1355.64 548.86,1355.92 549.76,1356.19 550.66,1356.47 551.56,1356.74 552.46,1357.01 553.36,1357.28 554.26,1357.55 555.16,1357.82 556.06,1358.08 556.96,1358.34 557.86,1358.61 558.76,1358.87 559.66,1359.13 560.57,1359.38 561.47,1359.64 562.37,1359.89 563.28,1360.15 564.18,1360.4 565.09,1360.65 565.99,1360.9 566.9,1361.14 567.8,1361.39 568.71,1361.63 569.61,1361.87 570.52,1362.11 571.43,1362.35 572.33,1362.59 573.24,1362.83 574.15,1363.06 575.06,1363.29 575.97,1363.52 576.88,1363.75 577.79,1363.98 578.7,1364.21 579.61,1364.43 580.52,1364.66 581.43,1364.88 582.34,1365.1 583.25,1365.32 584.16,1365.53 585.07,1365.75 585.99,1365.96 586.9,1366.17 587.81,1366.39 588.73,1366.59 589.64,1366.8 590.55,1367.01 591.47,1367.21 592.38,1367.41 593.3,1367.62 594.21,1367.82 595.13,1368.01 596.05,1368.21 596.96,1368.41 597.88,1368.6 598.8,1368.79 599.71,1368.98 600.63,1369.17 601.55,1369.36 602.46,1369.54 603.38,1369.73 604.3,1369.91 605.22,1370.09 606.14,1370.27 607.06,1370.45 607.98,1370.62 608.9,1370.8 609.82,1370.97 610.74,1371.14 611.66,1371.31 612.58,1371.48 613.5,1371.65 614.42,1371.81 615.34,1371.98 616.27,1372.14 617.19,1372.3 618.11,1372.46 619.03,1372.61 619.96,1372.77 620.88,1372.92 621.8,1373.07 622.72,1373.23 623.65,1373.37 624.57,1373.52 625.5,1373.67 626.42,1373.81 627.35,1373.95 628.27,1374.09 629.2,1374.23 630.12,1374.37 631.05,1374.51 631.97,1374.64 632.9,1374.77 633.82,1374.9 634.75,1375.03 635.68,1375.16 636.6,1375.29 637.53,1375.41 638.46,1375.53 639.39,1375.66 640.31,1375.78 641.24,1375.89 642.17,1376.01 643.1,1376.12 644.03,1376.24 644.95,1376.35 645.89,1376.46 646.2,1376.49" fill="none" stroke="#7fb9da" stroke-width="4.2" stroke-linejoin="round"/>
<path d="M584.32,824 584.2,825.37 583.72,826.75 583.25,828.12 582.76,829.49 582.28,830.87 581.78,832.24 581.29,833.61 580.79,834.99 580.28,836.36 579.77,837.73 579.26,839.11 578.74,840.48 578.22,841.85 577.7,843.23 577.17,844.6 576.63,845.97 576.1,847.35 575.56,848.72 575.01,850.1 574.46,851.47 573.91,852.84 573.35,854.22 572.79,855.59 572.23,856.96 571.66,858.34 571.09,859.71 570.51,861.08 569.93,862.46 569.35,863.83 568.76,865.2 568.17,866.58 567.58,867.95 566.99,869.32 566.39,870.7 565.78,872.07 565.18,873.44 564.57,874.82 563.95,876.19 563.34,877.56 562.72,878.94 562.1,880.31 561.47,881.68 560.84,883.06 560.21,884.43 559.58,885.8 558.94,887.18 558.3,888.55 557.66,889.92 557.01,891.3 556.37,892.67 555.72,894.05 555.06,895.42 554.41,896.79 553.75,898.17 553.09,899.54 552.43,900.91 551.76,902.29 551.09,903.66 550.42,905.03 549.75,906.41 549.08,907.78 548.4,909.15 547.72,910.53 547.04,911.9 546.36,913.27 545.68,914.65 544.99,916.02 544.31,917.39 543.62,918.77 542.93,920.14 542.23,921.51 541.54,922.89 540.85,924.26 540.15,925.63 539.45,927.01 538.75,928.38 538.05,929.75 537.35,931.13 536.65,932.5 535.94,933.87 535.24,935.25 534.53,936.62 533.82,937.99 533.12,939.37 532.41,940.74 531.7,942.12 530.99,943.49 530.28,944.86 529.56,946.24 528.85,947.61 528.14,948.98 527.43,950.36 526.71,951.73 526,953.1 525.29,954.48 524.57,955.85 523.86,957.22 523.14,958.6 522.43,959.97 521.71,961.34 520.99,962.72 520.28,964.09 519.56,965.46 518.84,966.84 518.13,968.21 517.41,969.58 516.69,970.96 515.97,972.33 515.25,973.7 514.54,975.08 513.82,976.45 513.1,977.82 512.38,979.2 511.66,980.57 510.94,981.94 510.22,983.32 509.49,984.69 508.77,986.07 508.05,987.44 507.33,988.81 506.61,990.19 505.89,991.56 505.16,992.93 504.44,994.31 503.72,995.68 503,997.05 502.27,998.43 501.55,999.8 500.83,1001.17 500.1,1002.55 499.38,1003.92 498.65,1005.29 497.93,1006.67 497.2,1008.04 496.48,1009.41 495.76,1010.79 495.03,1012.16 494.3,1013.53 493.58,1014.91 492.85,1016.28 492.13,1017.65 491.4,1019.03 490.68,1020.4 489.95,1021.77 489.22,1023.15 488.5,1024.52 487.77,1025.89 487.04,1027.27 486.32,1028.64 485.59,1030.02 484.86,1031.39 484.14,1032.76 483.41,1034.14 482.68,1035.51 481.96,1036.88 481.23,1038.26 480.5,1039.63 479.77,1041 479.05,1042.38 478.32,1043.75 477.59,1045.12 476.86,1046.5 476.13,1047.87 475.41,1049.24 474.68,1050.62 473.95,1051.99 473.22,1053.36 472.49,1054.74 471.77,1056.11 471.04,1057.48 470.31,1058.86 469.58,1060.23 468.85,1061.6 468.12,1062.98 467.39,1064.35 466.66,1065.72 465.93,1067.1 465.19,1068.47 464.46,1069.84 463.73,1071.22 462.99,1072.59 462.26,1073.96 461.52,1075.34 460.78,1076.71 460.04,1078.09 459.3,1079.46 458.56,1080.83 457.82,1082.21 457.08,1083.58 456.33,1084.95 455.59,1086.33 454.84,1087.7 454.09,1089.07 453.34,1090.45 452.59,1091.82 451.84,1093.19 451.08,1094.57 450.33,1095.94 449.57,1097.31 448.81,1098.69 448.05,1100.06 447.28,1101.43 446.52,1102.81 445.75,1104.18 444.98,1105.55 444.21,1106.93 443.43,1108.3 442.66,1109.67 441.88,1111.05 441.1,1112.42 440.31,1113.79 439.53,1115.17 438.74,1116.54 437.95,1117.91 437.16,1119.29 436.36,1120.66 435.56,1122.04 434.76,1123.41 433.95,1124.78 433.14,1126.16 432.33,1127.53 431.52,1128.9 430.7,1130.28 429.88,1131.65 429.06,1133.02 428.23,1134.4 427.4,1135.77 426.56,1137.14 425.72,1138.52 424.88,1139.89 424.04,1141.26 423.19,1142.64 422.33,1144.01 421.48,1145.38 420.61,1146.76 419.75,1148.13 418.88,1149.5 418,1150.88 417.13,1152.25 416.24,1153.62 415.35,1155 414.46,1156.37 413.57,1157.74 412.66,1159.12 411.76,1160.49 410.85,1161.86 409.93,1163.24 409.01,1164.61 408.08,1165.98 407.15,1167.36 406.21,1168.73 405.26,1170.11 404.31,1171.48 403.36,1172.85 402.4,1174.23 401.43,1175.6 400.46,1176.97 399.48,1178.35 398.49,1179.72 397.5,1181.09 396.5,1182.47 395.49,1183.84 394.48,1185.21 393.46,1186.59 392.43,1187.96 391.4,1189.33 390.36,1190.71 389.31,1192.08 388.25,1193.45 387.19,1194.83 386.12,1196.2 385.04,1197.57 383.95,1198.95 382.85,1200.32 381.74,1201.69 380.63,1203.07 379.51,1204.44 378.37,1205.81 377.23,1207.19 376.08,1208.56 374.92,1209.93 373.76,1211.31 372.58,1212.68 371.39,1214.06 370.2,1215.43 368.99,1216.8 367.78,1218.18 366.55,1219.55 365.32,1220.92 364.08,1222.3 362.82,1223.67 361.56,1225.04 360.29,1226.42 359.01,1227.79 357.71,1229.16 356.41,1230.54 355.09,1231.91 353.77,1233.28 352.43,1234.66 351.09,1236.03 349.73,1237.4 348.36,1238.78 346.99,1240.15 345.6,1241.52 344.19,1242.9 342.78,1244.27 341.36,1245.64 339.92,1247.02 338.47,1248.39 337.01,1249.76 335.54,1251.14 334.06,1252.51 332.56,1253.88 331.05,1255.26 329.53,1256.63 328,1258.01 326.45,1259.38 324.89,1260.75 323.32,1262.13 321.73,1263.5 320.13,1264.87 318.51,1266.25 316.88,1267.62 315.24,1268.99 313.58,1270.37 311.91,1271.74 310.22,1273.11 308.52,1274.49 306.8,1275.86 305.07,1277.23 303.32,1278.61 301.55,1279.98 299.77,1281.35 297.97,1282.73 296.16,1284.1 294.33,1285.47 292.48,1286.85 290.61,1288.22 288.72,1289.59 286.82,1290.97 284.9,1292.34 282.95,1293.71 280.99,1295.09 279.01,1296.46 277.01,1297.83 274.99,1299.21 272.95,1300.58 270.88,1301.95 268.8,1303.33 266.69,1304.7 264.55,1306.08 262.4,1307.45 260.22,1308.82 258.02,1310.2 255.79,1311.57 253.53,1312.94 251.25,1314.32 248.94,1315.69 246.61,1317.06 244.24,1318.44 241.85,1319.81 239.43,1321.18 236.97,1322.56 234.49,1323.93 231.97,1325.3 229.41,1326.68 226.83,1328.05 224.2,1329.42 221.54,1330.8 218.84,1332.17 216.1,1333.54 213.32,1334.92 210.49,1336.29 207.63,1337.66 204.71,1339.04 201.75,1340.41 198.73,1341.78 195.67,1343.16 192.55,1344.53 189.37,1345.9 186.13,1347.28 182.83,1348.65 179.46,1350.03 176.02,1351.4 172.5,1352.77 168.91,1354.15 165.23,1355.52 161.47,1356.89 157.6,1358.27 153.63,1359.64 149.56,1361.01 145.36,1362.39 141.03,1363.76 136.55,1365.13 131.92,1366.51 127.11,1367.88 124.39,1369.25 124.28,1370.63 124.28,1372" fill="none" stroke="#fb7a5a" stroke-width="4.2" stroke-linejoin="round"/>
<path d="M124.25,826 124.62,828.51 125.01,831 125.43,833.49 125.87,835.97 126.34,838.44 126.82,840.91 127.32,843.37 127.85,845.83 128.39,848.28 128.95,850.72 129.54,853.15 130.14,855.58 130.76,858.01 131.4,860.43 132.05,862.84 132.73,865.24 133.42,867.64 134.13,870.04 134.85,872.43 135.59,874.81 136.35,877.19 137.12,879.57 137.9,881.94 138.7,884.3 139.52,886.66 140.35,889.01 141.19,891.36 142.04,893.71 142.91,896.05 143.79,898.39 144.68,900.72 145.58,903.05 146.5,905.37 147.42,907.69 148.36,910.01 149.31,912.32 150.26,914.63 151.23,916.94 152.2,919.24 153.19,921.54 154.18,923.84 155.19,926.13 156.2,928.42 157.22,930.7 158.25,932.99 159.28,935.27 160.33,937.55 161.38,939.82 162.44,942.1 163.5,944.37 164.57,946.63 165.65,948.9 166.73,951.16 167.82,953.43 168.91,955.68 170.01,957.94 171.12,960.2 172.23,962.45 173.34,964.71 174.45,966.96 175.57,969.21 176.7,971.46 177.82,973.7 178.95,975.95 180.09,978.2 181.22,980.44 182.36,982.68 183.5,984.93 184.64,987.17 185.78,989.41 186.92,991.65 188.06,993.89 189.21,996.13 190.35,998.37 191.5,1000.61 192.64,1002.85 193.78,1005.09 194.93,1007.33 196.07,1009.57 197.21,1011.81 198.36,1014.05 199.5,1016.29 200.64,1018.53 201.79,1020.76 202.94,1023 204.08,1025.24 205.23,1027.47 206.38,1029.71 207.53,1031.94 208.68,1034.18 209.83,1036.41 210.98,1038.64 212.14,1040.88 213.29,1043.11 214.45,1045.33 215.61,1047.56 216.77,1049.79 217.93,1052.02 219.1,1054.24 220.27,1056.46 221.44,1058.68 222.61,1060.9 223.79,1063.12 224.96,1065.34 226.15,1067.55 227.33,1069.77 228.52,1071.98 229.71,1074.19 230.9,1076.4 232.1,1078.6 233.3,1080.81 234.5,1083.01 235.71,1085.21 236.92,1087.41 238.13,1089.6 239.35,1091.8 240.57,1093.99 241.8,1096.18 243.03,1098.37 244.27,1100.55 245.51,1102.73 246.75,1104.91 248,1107.09 249.26,1109.26 250.51,1111.43 251.78,1113.6 253.05,1115.76 254.32,1117.93 255.6,1120.08 256.89,1122.24 258.18,1124.39 259.48,1126.54 260.78,1128.69 262.09,1130.83 263.4,1132.97 264.72,1135.11 266.05,1137.24 267.38,1139.37 268.72,1141.5 270.07,1143.62 271.42,1145.74 272.78,1147.86 274.14,1149.97 275.52,1152.07 276.9,1154.18 278.28,1156.27 279.68,1158.37 281.08,1160.46 282.49,1162.54 283.9,1164.62 285.33,1166.69 286.76,1168.76 288.19,1170.82 289.64,1172.88 291.09,1174.93 292.55,1176.97 294.02,1179.01 295.5,1181.05 296.99,1183.07 298.48,1185.09 299.98,1187.11 301.49,1189.11 303.01,1191.11 304.53,1193.1 306.07,1195.09 307.61,1197.07 309.16,1199.04 310.72,1201 312.29,1202.96 313.87,1204.91 315.46,1206.84 317.06,1208.78 318.66,1210.7 320.28,1212.61 321.9,1214.52 323.53,1216.42 325.18,1218.31 326.83,1220.18 328.49,1222.05 330.16,1223.92 331.85,1225.77 333.54,1227.61 335.24,1229.44 336.95,1231.26 338.67,1233.08 340.4,1234.88 342.15,1236.67 343.9,1238.45 345.66,1240.22 347.43,1241.98 349.22,1243.73 351.01,1245.47 352.82,1247.2 354.63,1248.91 356.46,1250.62 358.3,1252.31 360.14,1253.99 362,1255.66 363.87,1257.32 365.75,1258.97 367.64,1260.61 369.54,1262.23 371.45,1263.84 373.37,1265.45 375.3,1267.04 377.24,1268.62 379.19,1270.18 381.15,1271.74 383.12,1273.29 385.1,1274.82 387.09,1276.34 389.09,1277.86 391.09,1279.36 393.11,1280.85 395.13,1282.32 397.16,1283.79 399.21,1285.25 401.26,1286.69 403.31,1288.13 405.38,1289.55 407.46,1290.96 409.54,1292.36 411.63,1293.75 413.73,1295.13 415.84,1296.5 417.95,1297.85 420.08,1299.2 422.21,1300.53 424.34,1301.86 426.49,1303.17 428.64,1304.47 430.8,1305.76 432.97,1307.04 435.14,1308.31 437.32,1309.57 439.51,1310.82 441.7,1312.05 443.9,1313.28 446.11,1314.5 448.32,1315.7 450.54,1316.89 452.76,1318.08 454.99,1319.25 457.23,1320.41 459.47,1321.56 461.72,1322.7 463.98,1323.83 466.24,1324.95 468.5,1326.06 470.77,1327.15 473.05,1328.24 475.33,1329.32 477.61,1330.38 479.9,1331.44 482.2,1332.48 484.5,1333.52 486.8,1334.54 489.11,1335.55 491.42,1336.56 493.74,1337.55 496.06,1338.53 498.39,1339.5 500.72,1340.46 503.05,1341.41 505.39,1342.35 507.73,1343.28 510.07,1344.2 512.42,1345.11 514.77,1346.01 517.13,1346.89 519.49,1347.77 521.85,1348.64 524.22,1349.49 526.59,1350.34 528.96,1351.17 531.34,1351.99 533.72,1352.81 536.1,1353.61 538.49,1354.4 540.87,1355.18 543.27,1355.95 545.66,1356.71 548.06,1357.46 550.46,1358.19 552.87,1358.92 555.27,1359.64 557.68,1360.34 560.1,1361.03 562.51,1361.72 564.93,1362.39 567.35,1363.05 569.78,1363.7 572.2,1364.34 574.63,1364.96 577.06,1365.58 579.5,1366.18 581.93,1366.78 584.37,1367.36 586.81,1367.93 589.26,1368.49 591.7,1369.04 594.15,1369.58 596.6,1370.11 599.05,1370.62 601.51,1371.12 603.96,1371.62 606.42,1372.1 608.88,1372.57 611.34,1373.02 613.81,1373.47 616.27,1373.91 618.74,1374.33 621.21,1374.74 623.68,1375.14 626.16,1375.53 628.63,1375.91 631.11,1376.27 633.58,1376.63 636.06,1376.97 638.54,1377.3 641.02,1377.62 643.51,1377.93 645.99,1378.22" fill="none" stroke="#b7d4ea" stroke-width="4.2" stroke-linejoin="round"/>
<path d="M124.28,1368.56 126.71,1367.91 129.14,1367.24 131.56,1366.57 133.98,1365.88 136.39,1365.18 138.8,1364.47 141.21,1363.75 143.62,1363.01 146.02,1362.26 148.41,1361.5 150.81,1360.73 153.2,1359.94 155.58,1359.14 157.96,1358.34 160.34,1357.51 162.71,1356.68 165.08,1355.83 167.45,1354.98 169.81,1354.11 172.16,1353.23 174.51,1352.33 176.86,1351.43 179.2,1350.51 181.54,1349.58 183.88,1348.64 186.2,1347.69 188.53,1346.72 190.85,1345.75 193.16,1344.76 195.47,1343.76 197.78,1342.75 200.07,1341.73 202.37,1340.7 204.66,1339.65 206.94,1338.6 209.22,1337.53 211.49,1336.45 213.76,1335.36 216.02,1334.26 218.28,1333.15 220.53,1332.02 222.78,1330.89 225.01,1329.74 227.25,1328.58 229.48,1327.41 231.7,1326.23 233.92,1325.04 236.13,1323.84 238.33,1322.63 240.53,1321.41 242.72,1320.17 244.91,1318.93 247.08,1317.67 249.26,1316.41 251.42,1315.13 253.58,1313.84 255.74,1312.54 257.89,1311.23 260.03,1309.91 262.16,1308.58 264.29,1307.24 266.41,1305.89 268.52,1304.53 270.63,1303.15 272.73,1301.77 274.82,1300.38 276.9,1298.97 278.98,1297.56 281.05,1296.14 283.11,1294.7 285.17,1293.26 287.22,1291.8 289.26,1290.34 291.29,1288.86 293.32,1287.37 295.34,1285.88 297.35,1284.37 299.35,1282.86 301.35,1281.33 303.34,1279.8 305.32,1278.25 307.29,1276.7 309.25,1275.13 311.21,1273.56 313.15,1271.97 315.09,1270.38 317.02,1268.78 318.95,1267.16 320.86,1265.54 322.77,1263.91 324.66,1262.26 326.55,1260.61 328.43,1258.95 330.3,1257.28 332.16,1255.6 334.02,1253.91 335.86,1252.21 337.7,1250.5 339.52,1248.79 341.34,1247.06 343.15,1245.32 344.95,1243.58 346.74,1241.83 348.52,1240.06 350.29,1238.29 352.06,1236.51 353.81,1234.72 355.55,1232.92 357.29,1231.11 359.01,1229.29 360.72,1227.47 362.43,1225.63 364.12,1223.79 365.81,1221.93 367.48,1220.07 369.15,1218.2 370.81,1216.32 372.45,1214.43 374.09,1212.54 375.71,1210.63 377.32,1208.72 378.93,1206.8 380.52,1204.87 382.11,1202.93 383.68,1200.98 385.24,1199.03 386.79,1197.06 388.33,1195.09 389.86,1193.11 391.39,1191.12 392.9,1189.12 394.4,1187.12 395.89,1185.11 397.37,1183.09 398.85,1181.07 400.31,1179.03 401.77,1176.99 403.21,1174.94 404.65,1172.89 406.08,1170.83 407.5,1168.76 408.91,1166.69 410.31,1164.61 411.71,1162.53 413.1,1160.43 414.48,1158.34 415.85,1156.23 417.21,1154.12 418.57,1152.01 419.92,1149.89 421.27,1147.76 422.6,1145.63 423.93,1143.5 425.26,1141.36 426.57,1139.21 427.89,1137.06 429.19,1134.91 430.49,1132.75 431.78,1130.59 433.07,1128.42 434.35,1126.25 435.63,1124.08 436.9,1121.9 438.16,1119.72 439.42,1117.53 440.68,1115.34 441.93,1113.15 443.18,1110.96 444.42,1108.76 445.66,1106.56 446.89,1104.35 448.12,1102.15 449.35,1099.94 450.57,1097.73 451.79,1095.51 453.01,1093.3 454.22,1091.08 455.43,1088.86 456.63,1086.64 457.84,1084.42 459.04,1082.2 460.24,1079.97 461.43,1077.75 462.62,1075.52 463.82,1073.29 465.01,1071.06 466.19,1068.83 467.38,1066.6 468.56,1064.37 469.75,1062.14 470.93,1059.91 472.11,1057.68 473.29,1055.45 474.47,1053.22 475.65,1050.98 476.83,1048.75 478,1046.52 479.18,1044.3 480.36,1042.07 481.53,1039.84 482.71,1037.61 483.88,1035.38 485.06,1033.16 486.23,1030.93 487.41,1028.7 488.58,1026.48 489.75,1024.25 490.92,1022.03 492.1,1019.8 493.27,1017.58 494.44,1015.35 495.61,1013.13 496.78,1010.9 497.94,1008.68 499.11,1006.45 500.28,1004.23 501.45,1002.01 502.61,999.78 503.78,997.56 504.94,995.33 506.11,993.11 507.27,990.89 508.43,988.66 509.59,986.44 510.75,984.21 511.91,981.99 513.07,979.76 514.23,977.54 515.39,975.31 516.54,973.09 517.7,970.86 518.86,968.64 520.01,966.41 521.16,964.19 522.32,961.96 523.47,959.73 524.62,957.51 525.77,955.28 526.92,953.05 528.07,950.82 529.21,948.59 530.36,946.37 531.5,944.14 532.65,941.9 533.79,939.67 534.93,937.44 536.07,935.21 537.2,932.97 538.34,930.74 539.47,928.5 540.59,926.26 541.72,924.02 542.84,921.78 543.96,919.54 545.07,917.3 546.18,915.05 547.29,912.8 548.39,910.55 549.49,908.3 550.59,906.04 551.68,903.79 552.76,901.53 553.84,899.27 554.91,897 555.98,894.73 557.05,892.46 558.1,890.19 559.15,887.92 560.2,885.64 561.24,883.36 562.27,881.07 563.29,878.78 564.31,876.49 565.32,874.2 566.32,871.9 567.32,869.59 568.31,867.29 569.29,864.98 570.26,862.66 571.22,860.34 572.18,858.02 573.12,855.69 574.06,853.36 574.99,851.03 575.91,848.69 576.81,846.34 577.71,843.99 578.6,841.64 579.48,839.28 580.35,836.91 581.21,834.54 582.06,832.17 582.89,829.79 583.72,827.4 584.53,825.01" fill="none" stroke="#fcab8f" stroke-width="4.2" stroke-linejoin="round"/>
</g>
<line x1="108.1" y1="1375.2" x2="124.3" y2="1375.2" stroke="#000" stroke-width="3.4"/>
<text transform="translate(92.1,1386.6) scale(1,1.04)" text-anchor="end" font-size="32" font-weight="normal">0.0</text>
<line x1="115.1" y1="1352.47" x2="124.3" y2="1352.47" stroke="#000" stroke-width="2.5"/>
<line x1="115.1" y1="1329.73" x2="124.3" y2="1329.73" stroke="#000" stroke-width="2.5"/>
<line x1="115.1" y1="1307" x2="124.3" y2="1307" stroke="#000" stroke-width="2.5"/>
<line x1="108.1" y1="1284.27" x2="124.3" y2="1284.27" stroke="#000" stroke-width="3.4"/>
<text transform="translate(92.1,1295.67) scale(1,1.04)" text-anchor="end" font-size="32" font-weight="normal">0.2</text>
<line x1="115.1" y1="1261.53" x2="124.3" y2="1261.53" stroke="#000" stroke-width="2.5"/>
<line x1="115.1" y1="1238.8" x2="124.3" y2="1238.8" stroke="#000" stroke-width="2.5"/>
<line x1="115.1" y1="1216.07" x2="124.3" y2="1216.07" stroke="#000" stroke-width="2.5"/>
<line x1="108.1" y1="1193.33" x2="124.3" y2="1193.33" stroke="#000" stroke-width="3.4"/>
<text transform="translate(92.1,1204.73) scale(1,1.04)" text-anchor="end" font-size="32" font-weight="normal">0.4</text>
<line x1="115.1" y1="1170.6" x2="124.3" y2="1170.6" stroke="#000" stroke-width="2.5"/>
<line x1="115.1" y1="1147.87" x2="124.3" y2="1147.87" stroke="#000" stroke-width="2.5"/>
<line x1="115.1" y1="1125.13" x2="124.3" y2="1125.13" stroke="#000" stroke-width="2.5"/>
<line x1="108.1" y1="1102.4" x2="124.3" y2="1102.4" stroke="#000" stroke-width="3.4"/>
<text transform="translate(92.1,1113.8) scale(1,1.04)" text-anchor="end" font-size="32" font-weight="normal">0.6</text>
<line x1="115.1" y1="1079.67" x2="124.3" y2="1079.67" stroke="#000" stroke-width="2.5"/>
<line x1="115.1" y1="1056.93" x2="124.3" y2="1056.93" stroke="#000" stroke-width="2.5"/>
<line x1="115.1" y1="1034.2" x2="124.3" y2="1034.2" stroke="#000" stroke-width="2.5"/>
<line x1="108.1" y1="1011.47" x2="124.3" y2="1011.47" stroke="#000" stroke-width="3.4"/>
<text transform="translate(92.1,1022.87) scale(1,1.04)" text-anchor="end" font-size="32" font-weight="normal">0.8</text>
<line x1="115.1" y1="988.73" x2="124.3" y2="988.73" stroke="#000" stroke-width="2.5"/>
<line x1="115.1" y1="966" x2="124.3" y2="966" stroke="#000" stroke-width="2.5"/>
<line x1="115.1" y1="943.27" x2="124.3" y2="943.27" stroke="#000" stroke-width="2.5"/>
<line x1="108.1" y1="920.53" x2="124.3" y2="920.53" stroke="#000" stroke-width="3.4"/>
<path transform="translate(47.62,931.93) scale(0.015625,-0.016250)" d="M560,0L760,0L760,1415L645,1415L200,1031L200,877L560,1077Z"/><text transform="translate(65.41,931.93) scale(1,1.04)" text-anchor="start" font-size="32" font-weight="normal">.0</text>
<line x1="115.1" y1="897.8" x2="124.3" y2="897.8" stroke="#000" stroke-width="2.5"/>
<line x1="115.1" y1="875.07" x2="124.3" y2="875.07" stroke="#000" stroke-width="2.5"/>
<line x1="115.1" y1="852.33" x2="124.3" y2="852.33" stroke="#000" stroke-width="2.5"/>
<line x1="108.1" y1="829.6" x2="124.3" y2="829.6" stroke="#000" stroke-width="3.4"/>
<path transform="translate(47.62,841) scale(0.015625,-0.016250)" d="M560,0L760,0L760,1415L645,1415L200,1031L200,877L560,1077Z"/><text transform="translate(65.41,841) scale(1,1.04)" text-anchor="start" font-size="32" font-weight="normal">.2</text>
<line x1="124.3" y1="1375.2" x2="124.3" y2="1391.4" stroke="#000" stroke-width="3.4"/>
<text transform="translate(124.3,1430.2) scale(1,1.04)" text-anchor="middle" font-size="32" font-weight="normal">0</text>
<line x1="145.08" y1="1375.2" x2="145.08" y2="1384.4" stroke="#000" stroke-width="2.5"/>
<line x1="165.87" y1="1375.2" x2="165.87" y2="1384.4" stroke="#000" stroke-width="2.5"/>
<line x1="186.65" y1="1375.2" x2="186.65" y2="1384.4" stroke="#000" stroke-width="2.5"/>
<line x1="207.43" y1="1375.2" x2="207.43" y2="1384.4" stroke="#000" stroke-width="2.5"/>
<line x1="228.22" y1="1375.2" x2="228.22" y2="1391.4" stroke="#000" stroke-width="3.4"/>
<text transform="translate(228.22,1430.2) scale(1,1.04)" text-anchor="middle" font-size="32" font-weight="normal">50</text>
<line x1="249" y1="1375.2" x2="249" y2="1384.4" stroke="#000" stroke-width="2.5"/>
<line x1="269.78" y1="1375.2" x2="269.78" y2="1384.4" stroke="#000" stroke-width="2.5"/>
<line x1="290.57" y1="1375.2" x2="290.57" y2="1384.4" stroke="#000" stroke-width="2.5"/>
<line x1="311.35" y1="1375.2" x2="311.35" y2="1384.4" stroke="#000" stroke-width="2.5"/>
<line x1="332.13" y1="1375.2" x2="332.13" y2="1391.4" stroke="#000" stroke-width="3.4"/>
<path transform="translate(305.44,1430.2) scale(0.015625,-0.016250)" d="M560,0L760,0L760,1415L645,1415L200,1031L200,877L560,1077Z"/><text transform="translate(323.23,1430.2) scale(1,1.04)" text-anchor="start" font-size="32" font-weight="normal">00</text>
<line x1="352.92" y1="1375.2" x2="352.92" y2="1384.4" stroke="#000" stroke-width="2.5"/>
<line x1="373.7" y1="1375.2" x2="373.7" y2="1384.4" stroke="#000" stroke-width="2.5"/>
<line x1="394.48" y1="1375.2" x2="394.48" y2="1384.4" stroke="#000" stroke-width="2.5"/>
<line x1="415.27" y1="1375.2" x2="415.27" y2="1384.4" stroke="#000" stroke-width="2.5"/>
<line x1="436.05" y1="1375.2" x2="436.05" y2="1391.4" stroke="#000" stroke-width="3.4"/>
<path transform="translate(409.35,1430.2) scale(0.015625,-0.016250)" d="M560,0L760,0L760,1415L645,1415L200,1031L200,877L560,1077Z"/><text transform="translate(427.15,1430.2) scale(1,1.04)" text-anchor="start" font-size="32" font-weight="normal">50</text>
<line x1="456.83" y1="1375.2" x2="456.83" y2="1384.4" stroke="#000" stroke-width="2.5"/>
<line x1="477.62" y1="1375.2" x2="477.62" y2="1384.4" stroke="#000" stroke-width="2.5"/>
<line x1="498.4" y1="1375.2" x2="498.4" y2="1384.4" stroke="#000" stroke-width="2.5"/>
<line x1="519.18" y1="1375.2" x2="519.18" y2="1384.4" stroke="#000" stroke-width="2.5"/>
<line x1="539.97" y1="1375.2" x2="539.97" y2="1391.4" stroke="#000" stroke-width="3.4"/>
<text transform="translate(539.97,1430.2) scale(1,1.04)" text-anchor="middle" font-size="32" font-weight="normal">200</text>
<line x1="560.75" y1="1375.2" x2="560.75" y2="1384.4" stroke="#000" stroke-width="2.5"/>
<line x1="581.53" y1="1375.2" x2="581.53" y2="1384.4" stroke="#000" stroke-width="2.5"/>
<line x1="602.32" y1="1375.2" x2="602.32" y2="1384.4" stroke="#000" stroke-width="2.5"/>
<line x1="623.1" y1="1375.2" x2="623.1" y2="1384.4" stroke="#000" stroke-width="2.5"/>
<line x1="643.88" y1="1375.2" x2="643.88" y2="1391.4" stroke="#000" stroke-width="3.4"/>
<text transform="translate(643.88,1430.2) scale(1,1.04)" text-anchor="middle" font-size="32" font-weight="normal">250</text>
<line x1="664.67" y1="1375.2" x2="664.67" y2="1384.4" stroke="#000" stroke-width="2.5"/>
<line x1="685.45" y1="1375.2" x2="685.45" y2="1384.4" stroke="#000" stroke-width="2.5"/>
<line x1="706.23" y1="1375.2" x2="706.23" y2="1384.4" stroke="#000" stroke-width="2.5"/>
<line x1="727.02" y1="1375.2" x2="727.02" y2="1384.4" stroke="#000" stroke-width="2.5"/>
<line x1="747.8" y1="1375.2" x2="747.8" y2="1391.4" stroke="#000" stroke-width="3.4"/>
<text transform="translate(747.8,1430.2) scale(1,1.04)" text-anchor="middle" font-size="32" font-weight="normal">300</text>
<line x1="768.58" y1="1375.2" x2="768.58" y2="1384.4" stroke="#000" stroke-width="2.5"/>
<line x1="789.37" y1="1375.2" x2="789.37" y2="1384.4" stroke="#000" stroke-width="2.5"/>
<line x1="810.15" y1="1375.2" x2="810.15" y2="1384.4" stroke="#000" stroke-width="2.5"/>
<line x1="830.93" y1="1375.2" x2="830.93" y2="1384.4" stroke="#000" stroke-width="2.5"/>
<line x1="851.72" y1="1375.2" x2="851.72" y2="1391.4" stroke="#000" stroke-width="3.4"/>
<text transform="translate(851.72,1430.2) scale(1,1.04)" text-anchor="middle" font-size="32" font-weight="normal">350</text>
<line x1="872.5" y1="1375.2" x2="872.5" y2="1384.4" stroke="#000" stroke-width="2.5"/>
<line x1="893.28" y1="1375.2" x2="893.28" y2="1384.4" stroke="#000" stroke-width="2.5"/>
<line x1="914.07" y1="1375.2" x2="914.07" y2="1384.4" stroke="#000" stroke-width="2.5"/>
<line x1="934.85" y1="1375.2" x2="934.85" y2="1384.4" stroke="#000" stroke-width="2.5"/>
<line x1="955.63" y1="1375.2" x2="955.63" y2="1391.4" stroke="#000" stroke-width="3.4"/>
<text transform="translate(955.63,1430.2) scale(1,1.04)" text-anchor="middle" font-size="32" font-weight="normal">400</text>
<line x1="976.42" y1="1375.2" x2="976.42" y2="1384.4" stroke="#000" stroke-width="2.5"/>
<line x1="997.2" y1="1375.2" x2="997.2" y2="1384.4" stroke="#000" stroke-width="2.5"/>
<rect x="124.3" y="829.6" width="872.9" height="545.6" fill="none" stroke="#000" stroke-width="3.4" stroke-linejoin="miter"/>
<text transform="translate(23.3,1102.4) rotate(-90) scale(1,1.04)" text-anchor="middle" font-size="32">Voltage (V)</text>
<text transform="translate(421.5,1492.6) scale(1,1.04)" text-anchor="start" font-size="32" font-weight="normal">Capacity (mAh g</text>
<text transform="translate(657.5,1470.4) scale(1,1.04)" text-anchor="start" font-size="22.4" font-weight="normal">−</text><path transform="translate(670.58,1470.4) scale(0.010937,-0.011375)" d="M560,0L760,0L760,1415L645,1415L200,1031L200,877L560,1077Z"/>
<text transform="translate(685.5,1492.6) scale(1,1.04)" text-anchor="start" font-size="32" font-weight="normal">)</text>
<line x1="770.9" y1="865.7" x2="839" y2="865.7" stroke="#084a91" stroke-width="4.2"/>
<line x1="770.9" y1="874.7" x2="839" y2="874.7" stroke="#980c13" stroke-width="4.2"/>
<text transform="translate(861.8,881.7) scale(1,1.04)" text-anchor="start" font-size="32" font-weight="normal">Cycle </text><path transform="translate(950.71,881.7) scale(0.015625,-0.016250)" d="M560,0L760,0L760,1415L645,1415L200,1031L200,877L560,1077Z"/>
<line x1="770.9" y1="911.65" x2="839" y2="911.65" stroke="#2070b4" stroke-width="4.2"/>
<line x1="770.9" y1="920.65" x2="839" y2="920.65" stroke="#ca181d" stroke-width="4.2"/>
<text transform="translate(861.8,927.65) scale(1,1.04)" text-anchor="start" font-size="32" font-weight="normal">Cycle 2</text>
<line x1="770.9" y1="957.6" x2="839" y2="957.6" stroke="#4a98c9" stroke-width="4.2"/>
<line x1="770.9" y1="966.6" x2="839" y2="966.6" stroke="#f14432" stroke-width="4.2"/>
<text transform="translate(861.8,973.6) scale(1,1.04)" text-anchor="start" font-size="32" font-weight="normal">Cycle 3</text>
<line x1="770.9" y1="1003.55" x2="839" y2="1003.55" stroke="#7fb9da" stroke-width="4.2"/>
<line x1="770.9" y1="1012.55" x2="839" y2="1012.55" stroke="#fb7a5a" stroke-width="4.2"/>
<text transform="translate(861.8,1019.55) scale(1,1.04)" text-anchor="start" font-size="32" font-weight="normal">Cycle 4</text>
<line x1="770.9" y1="1049.5" x2="839" y2="1049.5" stroke="#b7d4ea" stroke-width="4.2"/>
<line x1="770.9" y1="1058.5" x2="839" y2="1058.5" stroke="#fcab8f" stroke-width="4.2"/>
<text transform="translate(861.8,1065.5) scale(1,1.04)" text-anchor="start" font-size="32" font-weight="normal">Cycle 5</text>
<text transform="translate(124.2,802.6) scale(1,1.04)" text-anchor="start" font-size="37.5" font-weight="bold">b</text>
<rect x="664.3" y="1085.4" width="305.2" height="185.6" fill="#fff"/>
<g clip-path="url(#cib)">
<line x1="664.3" y1="1093.9" x2="969.5" y2="1093.9" stroke="#980c13" stroke-width="4.2"/>
<line x1="664.3" y1="1093.9" x2="969.5" y2="1093.9" stroke="#ca181d" stroke-width="4.2"/>
<line x1="664.3" y1="1093.9" x2="969.5" y2="1093.9" stroke="#f14432" stroke-width="4.2"/>
<line x1="664.3" y1="1094.5" x2="969.5" y2="1094.5" stroke="#fb7a5a" stroke-width="4.2"/>
<line x1="664.3" y1="1094.5" x2="969.5" y2="1094.5" stroke="#fcab8f" stroke-width="4.2"/>
<line x1="664.3" y1="1102" x2="969.5" y2="1102" stroke="#808080" stroke-width="4.2"/>
<path d="M664.3,1120.6C673.53,1121.73 682.77,1122.87 692,1124C700.67,1125.07 709.38,1125.85 718,1127.2C725.38,1128.35 732.72,1129.84 740,1131.5C746.72,1133.04 753.43,1134.73 760,1136.8C764.1,1138.09 768.04,1139.92 772,1141.6C776.04,1143.32 780.08,1145.04 784,1147C788.08,1149.04 792.09,1151.25 796,1153.6C800.09,1156.05 804.19,1158.54 808,1161.4C812.19,1164.54 816.36,1167.85 820,1171.6C823.56,1175.25 826.67,1179.41 829.6,1183.6C832.27,1187.41 834.65,1191.47 836.8,1195.6C839.45,1200.67 841.84,1205.9 844,1211.2C846.24,1216.7 848.12,1222.36 850,1228C851.72,1233.16 853.36,1238.36 854.8,1243.6C855.56,1246.36 855.94,1252.49 856.6,1252C857.54,1251.29 858.84,1244.05 859.6,1240C860.64,1234.45 861.25,1228.81 862,1223.2C862.85,1216.81 863.55,1210.39 864.4,1204C865.15,1198.39 865.81,1192.77 866.8,1187.2C867.81,1181.57 868.86,1175.9 870.4,1170.4C871.66,1165.9 873.46,1161.54 875.2,1157.2C876.66,1153.54 878.04,1149.79 880,1146.4C881.64,1143.56 883.71,1140.85 886,1138.5C888.71,1135.72 891.62,1132.86 895,1131C900.29,1128.09 906.15,1125.84 912,1124.2C920.31,1121.87 928.92,1120.23 937.5,1119.1C948.09,1117.7 958.83,1117.43 969.5,1116.6" fill="none" stroke="#084a91" stroke-width="4.2" stroke-linejoin="round" stroke-linecap="butt"/>
<line x1="664.3" y1="1109.9" x2="969.5" y2="1109.9" stroke="#2070b4" stroke-width="4.2"/>
<line x1="664.3" y1="1109.9" x2="969.5" y2="1109.9" stroke="#4a98c9" stroke-width="4.2"/>
<line x1="664.3" y1="1109.3" x2="969.5" y2="1109.3" stroke="#7fb9da" stroke-width="4.2"/>
<line x1="664.3" y1="1109.3" x2="969.5" y2="1109.3" stroke="#b7d4ea" stroke-width="4.2"/>
</g>
<rect x="664.3" y="1085.4" width="305.2" height="185.6" fill="none" stroke="#000" stroke-width="3.4"/>
<line x1="648.1" y1="1102" x2="664.3" y2="1102" stroke="#000" stroke-width="3.4"/>
<text transform="translate(631.1,1113.4) scale(1,1.04)" text-anchor="end" font-size="32" font-weight="normal">0</text>
<line x1="648.1" y1="1271" x2="664.3" y2="1271" stroke="#000" stroke-width="3.4"/>
<text transform="translate(631.1,1282.4) scale(1,1.04)" text-anchor="end" font-size="32" font-weight="normal">−2500</text>
<line x1="664.3" y1="1271.0" x2="664.3" y2="1287.2" stroke="#000" stroke-width="3.4"/>
<text transform="translate(664.3,1326.3) scale(1,1.04)" text-anchor="middle" font-size="32" font-weight="normal">0.8</text>
<line x1="694.82" y1="1271.0" x2="694.82" y2="1280.2" stroke="#000" stroke-width="2.5"/>
<line x1="725.34" y1="1271.0" x2="725.34" y2="1280.2" stroke="#000" stroke-width="2.5"/>
<line x1="755.86" y1="1271.0" x2="755.86" y2="1280.2" stroke="#000" stroke-width="2.5"/>
<line x1="786.38" y1="1271.0" x2="786.38" y2="1280.2" stroke="#000" stroke-width="2.5"/>
<line x1="816.9" y1="1271.0" x2="816.9" y2="1287.2" stroke="#000" stroke-width="3.4"/>
<text transform="translate(816.9,1326.3) scale(1,1.04)" text-anchor="middle" font-size="32" font-weight="normal">0.9</text>
<line x1="847.42" y1="1271.0" x2="847.42" y2="1280.2" stroke="#000" stroke-width="2.5"/>
<line x1="877.94" y1="1271.0" x2="877.94" y2="1280.2" stroke="#000" stroke-width="2.5"/>
<line x1="908.46" y1="1271.0" x2="908.46" y2="1280.2" stroke="#000" stroke-width="2.5"/>
<line x1="938.98" y1="1271.0" x2="938.98" y2="1280.2" stroke="#000" stroke-width="2.5"/>
<line x1="969.5" y1="1271.0" x2="969.5" y2="1287.2" stroke="#000" stroke-width="3.4"/>
<path transform="translate(947.26,1326.3) scale(0.015625,-0.016250)" d="M560,0L760,0L760,1415L645,1415L200,1031L200,877L560,1077Z"/><text transform="translate(965.05,1326.3) scale(1,1.04)" text-anchor="start" font-size="32" font-weight="normal">.0</text>
<text transform="translate(816.9,1354.9) scale(1,1.04)" text-anchor="middle" font-size="32" font-weight="normal">Voltage (V)</text>
<text transform="translate(678.6,1256) scale(1,1.04)" text-anchor="start" font-size="32" font-weight="normal">dQ/dV</text>
</svg>
</body></html>
